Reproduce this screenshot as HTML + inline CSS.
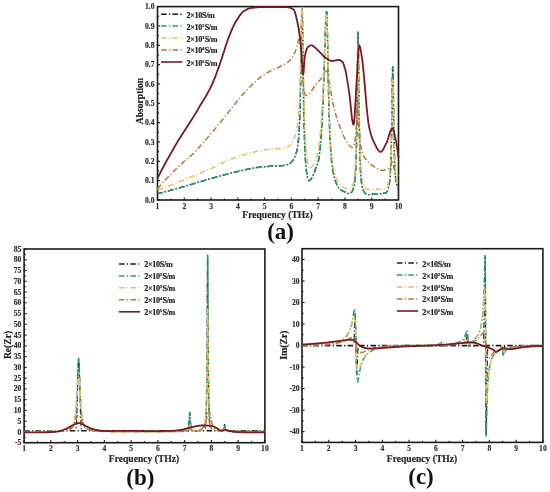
<!DOCTYPE html>
<html><head><meta charset="utf-8"><title>Figure</title>
<style>
html,body{margin:0;padding:0;background:#fff;}
body{width:550px;height:492px;overflow:hidden;}
svg{display:block;}
.tk{font-family:"Liberation Serif",serif;font-weight:bold;font-size:7.6px;fill:#2a2a2a;stroke:#2a2a2a;stroke-width:0.15px;}
.lg{font-family:"Liberation Serif",serif;font-weight:bold;font-size:8.1px;letter-spacing:-0.32px;fill:#222;stroke:#222;stroke-width:0.18px;}
.lg .sup{font-size:5px;letter-spacing:0.2px;}
.ax{font-family:"Liberation Serif",serif;font-weight:bold;font-size:9.6px;fill:#222;stroke:#222;stroke-width:0.15px;}
.pl{font-family:"Liberation Serif",serif;font-weight:bold;font-size:23px;fill:#111;}
</style></head>
<body>
<svg width="550" height="492" viewBox="0 0 550 492">
<rect width="550" height="492" fill="#fff"/>
<rect x="157.5" y="6.6" width="241.0" height="193.4" fill="none" stroke="#1a1a1a" stroke-width="1.6"/>
<line x1="157.50" y1="200.0" x2="157.50" y2="197.4" stroke="#1a1a1a" stroke-width="1.1"/>
<line x1="170.89" y1="200.0" x2="170.89" y2="198.4" stroke="#1a1a1a" stroke-width="1.1"/>
<line x1="184.28" y1="200.0" x2="184.28" y2="197.4" stroke="#1a1a1a" stroke-width="1.1"/>
<line x1="197.67" y1="200.0" x2="197.67" y2="198.4" stroke="#1a1a1a" stroke-width="1.1"/>
<line x1="211.06" y1="200.0" x2="211.06" y2="197.4" stroke="#1a1a1a" stroke-width="1.1"/>
<line x1="224.44" y1="200.0" x2="224.44" y2="198.4" stroke="#1a1a1a" stroke-width="1.1"/>
<line x1="237.83" y1="200.0" x2="237.83" y2="197.4" stroke="#1a1a1a" stroke-width="1.1"/>
<line x1="251.22" y1="200.0" x2="251.22" y2="198.4" stroke="#1a1a1a" stroke-width="1.1"/>
<line x1="264.61" y1="200.0" x2="264.61" y2="197.4" stroke="#1a1a1a" stroke-width="1.1"/>
<line x1="278.00" y1="200.0" x2="278.00" y2="198.4" stroke="#1a1a1a" stroke-width="1.1"/>
<line x1="291.39" y1="200.0" x2="291.39" y2="197.4" stroke="#1a1a1a" stroke-width="1.1"/>
<line x1="304.78" y1="200.0" x2="304.78" y2="198.4" stroke="#1a1a1a" stroke-width="1.1"/>
<line x1="318.17" y1="200.0" x2="318.17" y2="197.4" stroke="#1a1a1a" stroke-width="1.1"/>
<line x1="331.56" y1="200.0" x2="331.56" y2="198.4" stroke="#1a1a1a" stroke-width="1.1"/>
<line x1="344.94" y1="200.0" x2="344.94" y2="197.4" stroke="#1a1a1a" stroke-width="1.1"/>
<line x1="358.33" y1="200.0" x2="358.33" y2="198.4" stroke="#1a1a1a" stroke-width="1.1"/>
<line x1="371.72" y1="200.0" x2="371.72" y2="197.4" stroke="#1a1a1a" stroke-width="1.1"/>
<line x1="385.11" y1="200.0" x2="385.11" y2="198.4" stroke="#1a1a1a" stroke-width="1.1"/>
<line x1="398.50" y1="200.0" x2="398.50" y2="197.4" stroke="#1a1a1a" stroke-width="1.1"/>
<line x1="157.5" y1="200.00" x2="160.1" y2="200.00" stroke="#1a1a1a" stroke-width="1.1"/>
<line x1="157.5" y1="190.33" x2="159.1" y2="190.33" stroke="#1a1a1a" stroke-width="1.1"/>
<line x1="157.5" y1="180.66" x2="160.1" y2="180.66" stroke="#1a1a1a" stroke-width="1.1"/>
<line x1="157.5" y1="170.99" x2="159.1" y2="170.99" stroke="#1a1a1a" stroke-width="1.1"/>
<line x1="157.5" y1="161.32" x2="160.1" y2="161.32" stroke="#1a1a1a" stroke-width="1.1"/>
<line x1="157.5" y1="151.65" x2="159.1" y2="151.65" stroke="#1a1a1a" stroke-width="1.1"/>
<line x1="157.5" y1="141.98" x2="160.1" y2="141.98" stroke="#1a1a1a" stroke-width="1.1"/>
<line x1="157.5" y1="132.31" x2="159.1" y2="132.31" stroke="#1a1a1a" stroke-width="1.1"/>
<line x1="157.5" y1="122.64" x2="160.1" y2="122.64" stroke="#1a1a1a" stroke-width="1.1"/>
<line x1="157.5" y1="112.97" x2="159.1" y2="112.97" stroke="#1a1a1a" stroke-width="1.1"/>
<line x1="157.5" y1="103.30" x2="160.1" y2="103.30" stroke="#1a1a1a" stroke-width="1.1"/>
<line x1="157.5" y1="93.63" x2="159.1" y2="93.63" stroke="#1a1a1a" stroke-width="1.1"/>
<line x1="157.5" y1="83.96" x2="160.1" y2="83.96" stroke="#1a1a1a" stroke-width="1.1"/>
<line x1="157.5" y1="74.29" x2="159.1" y2="74.29" stroke="#1a1a1a" stroke-width="1.1"/>
<line x1="157.5" y1="64.62" x2="160.1" y2="64.62" stroke="#1a1a1a" stroke-width="1.1"/>
<line x1="157.5" y1="54.95" x2="159.1" y2="54.95" stroke="#1a1a1a" stroke-width="1.1"/>
<line x1="157.5" y1="45.28" x2="160.1" y2="45.28" stroke="#1a1a1a" stroke-width="1.1"/>
<line x1="157.5" y1="35.61" x2="159.1" y2="35.61" stroke="#1a1a1a" stroke-width="1.1"/>
<line x1="157.5" y1="25.94" x2="160.1" y2="25.94" stroke="#1a1a1a" stroke-width="1.1"/>
<line x1="157.5" y1="16.27" x2="159.1" y2="16.27" stroke="#1a1a1a" stroke-width="1.1"/>
<line x1="157.5" y1="6.60" x2="160.1" y2="6.60" stroke="#1a1a1a" stroke-width="1.1"/>
<text x="157.50" y="209.0" class="tk" text-anchor="middle">1</text>
<text x="184.28" y="209.0" class="tk" text-anchor="middle">2</text>
<text x="211.06" y="209.0" class="tk" text-anchor="middle">3</text>
<text x="237.83" y="209.0" class="tk" text-anchor="middle">4</text>
<text x="264.61" y="209.0" class="tk" text-anchor="middle">5</text>
<text x="291.39" y="209.0" class="tk" text-anchor="middle">6</text>
<text x="318.17" y="209.0" class="tk" text-anchor="middle">7</text>
<text x="344.94" y="209.0" class="tk" text-anchor="middle">8</text>
<text x="371.72" y="209.0" class="tk" text-anchor="middle">9</text>
<text x="398.50" y="209.0" class="tk" text-anchor="middle">10</text>
<text x="154.5" y="202.60" class="tk" text-anchor="end">0.0</text>
<text x="154.5" y="183.26" class="tk" text-anchor="end">0.1</text>
<text x="154.5" y="163.92" class="tk" text-anchor="end">0.2</text>
<text x="154.5" y="144.58" class="tk" text-anchor="end">0.3</text>
<text x="154.5" y="125.24" class="tk" text-anchor="end">0.4</text>
<text x="154.5" y="105.90" class="tk" text-anchor="end">0.5</text>
<text x="154.5" y="86.56" class="tk" text-anchor="end">0.6</text>
<text x="154.5" y="67.22" class="tk" text-anchor="end">0.7</text>
<text x="154.5" y="47.88" class="tk" text-anchor="end">0.8</text>
<text x="154.5" y="28.54" class="tk" text-anchor="end">0.9</text>
<text x="154.5" y="9.20" class="tk" text-anchor="end">1.0</text>
<path d="M157.50 193.81 L157.98 193.68 L158.47 193.56 L158.95 193.43 L159.43 193.30 L159.91 193.17 L160.40 193.04 L160.88 192.92 L161.36 192.79 L161.85 192.66 L162.33 192.53 L162.81 192.40 L163.30 192.27 L163.78 192.14 L164.26 192.01 L164.74 191.88 L165.23 191.75 L165.71 191.62 L166.19 191.49 L166.68 191.36 L167.16 191.23 L167.64 191.09 L168.13 190.96 L168.61 190.83 L169.09 190.70 L169.57 190.57 L170.06 190.44 L170.54 190.30 L171.02 190.17 L171.51 190.04 L171.99 189.90 L172.47 189.77 L172.95 189.64 L173.44 189.50 L173.92 189.37 L174.40 189.24 L174.89 189.10 L175.37 188.97 L175.85 188.83 L176.34 188.70 L176.82 188.57 L177.30 188.43 L177.78 188.30 L178.27 188.16 L178.75 188.02 L179.23 187.89 L179.72 187.75 L180.20 187.62 L180.68 187.48 L181.17 187.34 L181.65 187.21 L182.13 187.07 L182.61 186.93 L183.10 186.80 L183.58 186.66 L184.06 186.52 L184.55 186.39 L185.03 186.25 L185.51 186.11 L185.99 185.97 L186.48 185.83 L186.96 185.69 L187.44 185.55 L187.93 185.41 L188.41 185.26 L188.89 185.12 L189.38 184.98 L189.86 184.84 L190.34 184.69 L190.82 184.55 L191.31 184.40 L191.79 184.26 L192.27 184.11 L192.76 183.97 L193.24 183.83 L193.72 183.68 L194.21 183.53 L194.69 183.39 L195.17 183.24 L195.65 183.10 L196.14 182.95 L196.62 182.81 L197.10 182.66 L197.59 182.52 L198.07 182.37 L198.55 182.23 L199.04 182.08 L199.52 181.94 L200.00 181.79 L200.48 181.65 L200.97 181.50 L201.45 181.36 L201.93 181.22 L202.42 181.07 L202.90 180.93 L203.38 180.79 L203.86 180.65 L204.35 180.51 L204.83 180.36 L205.31 180.22 L205.80 180.08 L206.28 179.95 L206.76 179.81 L207.25 179.67 L207.73 179.53 L208.21 179.39 L208.69 179.26 L209.18 179.12 L209.66 178.98 L210.14 178.84 L210.63 178.70 L211.11 178.57 L211.59 178.43 L212.08 178.29 L212.56 178.15 L213.04 178.01 L213.52 177.87 L214.01 177.73 L214.49 177.59 L214.97 177.45 L215.46 177.31 L215.94 177.17 L216.42 177.03 L216.90 176.89 L217.39 176.75 L217.87 176.61 L218.35 176.47 L218.84 176.33 L219.32 176.19 L219.80 176.06 L220.29 175.92 L220.77 175.78 L221.25 175.65 L221.73 175.51 L222.22 175.38 L222.70 175.24 L223.18 175.11 L223.67 174.97 L224.15 174.84 L224.63 174.71 L225.12 174.58 L225.60 174.45 L226.08 174.32 L226.56 174.19 L227.05 174.07 L227.53 173.94 L228.01 173.81 L228.50 173.69 L228.98 173.57 L229.46 173.45 L229.94 173.32 L230.43 173.20 L230.91 173.09 L231.39 172.97 L231.88 172.85 L232.36 172.74 L232.84 172.63 L233.33 172.52 L233.81 172.41 L234.29 172.30 L234.77 172.19 L235.26 172.08 L235.74 171.97 L236.22 171.86 L236.71 171.74 L237.19 171.63 L237.67 171.52 L238.16 171.41 L238.64 171.29 L239.12 171.18 L239.60 171.06 L240.09 170.95 L240.57 170.84 L241.05 170.72 L241.54 170.61 L242.02 170.49 L242.50 170.38 L242.98 170.27 L243.47 170.16 L243.95 170.04 L244.43 169.93 L244.92 169.82 L245.40 169.71 L245.88 169.61 L246.37 169.50 L246.85 169.39 L247.33 169.29 L247.81 169.18 L248.30 169.08 L248.78 168.98 L249.26 168.88 L249.75 168.78 L250.23 168.68 L250.71 168.59 L251.20 168.49 L251.68 168.40 L252.16 168.31 L252.64 168.22 L253.13 168.14 L253.61 168.05 L254.09 167.97 L254.58 167.89 L255.06 167.82 L255.54 167.74 L256.03 167.67 L256.51 167.60 L256.99 167.53 L257.47 167.47 L257.96 167.41 L258.44 167.35 L258.92 167.29 L259.41 167.24 L259.89 167.19 L260.37 167.14 L260.85 167.10 L261.34 167.05 L261.82 167.01 L262.30 166.97 L262.79 166.92 L263.27 166.88 L263.75 166.83 L264.24 166.79 L264.72 166.74 L265.20 166.70 L265.68 166.66 L266.17 166.62 L266.65 166.57 L267.13 166.53 L267.62 166.49 L268.10 166.45 L268.58 166.41 L269.07 166.37 L269.55 166.34 L270.03 166.30 L270.51 166.26 L271.00 166.23 L271.48 166.20 L271.96 166.16 L272.45 166.13 L272.93 166.11 L273.41 166.09 L273.89 166.07 L274.38 166.05 L274.86 166.04 L275.34 166.03 L275.83 166.02 L276.31 166.01 L276.79 166.00 L277.28 165.99 L277.76 165.98 L278.24 165.96 L278.72 165.94 L279.21 165.92 L279.69 165.89 L280.17 165.86 L280.66 165.82 L281.14 165.78 L281.62 165.72 L282.11 165.67 L282.59 165.61 L283.07 165.55 L283.55 165.48 L284.04 165.41 L284.52 165.33 L285.00 165.24 L285.49 165.14 L285.97 165.03 L286.30 164.94 L286.62 164.86 L286.93 164.76 L287.27 164.66 L287.59 164.55 L287.90 164.44 L288.23 164.31 L288.55 164.17 L288.87 164.02 L289.20 163.83 L289.52 163.62 L289.83 163.40 L290.16 163.14 L290.49 162.87 L290.80 162.59 L291.13 162.28 L291.45 161.95 L291.76 161.62 L292.04 161.32 L292.31 161.01 L292.58 160.69 L292.85 160.35 L293.11 160.00 L293.38 159.63 L293.60 159.31 L293.81 158.96 L294.03 158.60 L294.24 158.21 L294.40 157.90 L294.56 157.57 L294.72 157.23 L294.88 156.86 L295.05 156.48 L295.21 156.07 L295.37 155.64 L295.47 155.34 L295.58 155.02 L295.69 154.69 L295.80 154.36 L295.90 154.02 L296.01 153.68 L296.11 153.35 L296.23 152.97 L296.33 152.61 L296.44 152.23 L296.55 151.84 L296.66 151.44 L296.76 151.03 L296.87 150.59 L296.98 150.14 L297.08 149.69 L297.19 149.16 L297.30 148.63 L297.41 148.07 L297.51 147.47 L297.57 147.16 L297.62 146.84 L297.67 146.51 L297.73 146.16 L297.78 145.81 L297.84 145.44 L297.89 145.06 L297.94 144.67 L298.00 144.26 L298.04 143.90 L298.10 143.40 L298.16 142.95 L298.21 142.48 L298.26 141.99 L298.32 141.49 L298.37 140.96 L298.43 140.42 L298.48 139.85 L298.53 139.33 L298.59 138.65 L298.64 138.01 L298.69 137.34 L298.75 136.65 L298.80 135.93 L298.85 135.19 L298.91 134.41 L298.96 133.59 L299.01 132.85 L299.07 131.86 L299.12 130.94 L299.18 129.98 L299.23 128.98 L299.28 127.94 L299.34 126.85 L299.39 125.72 L299.44 124.53 L299.49 123.44 L299.55 122.01 L299.61 120.66 L299.66 119.25 L299.71 117.79 L299.77 116.26 L299.82 114.66 L299.87 113.00 L299.93 111.26 L299.97 109.66 L300.03 107.56 L300.09 105.59 L300.14 103.54 L300.20 101.40 L300.25 99.18 L300.30 96.87 L300.36 94.47 L300.41 91.97 L300.46 89.67 L300.52 86.70 L300.57 83.92 L300.62 81.05 L300.68 78.08 L300.73 75.03 L300.79 71.89 L300.84 68.67 L300.89 65.37 L300.94 62.37 L300.95 62.00 L301.00 58.58 L301.05 55.10 L301.11 51.59 L301.16 48.07 L301.21 44.53 L301.27 41.02 L301.32 37.54 L301.38 34.12 L301.42 31.13 L301.43 30.78 L301.48 27.56 L301.54 24.48 L301.59 21.57 L301.64 18.86 L301.70 16.38 L301.75 14.15 L301.80 12.21 L301.86 10.58 L301.91 9.40 L301.97 8.33 L302.02 7.74 L302.18 8.33 L302.23 9.39 L302.29 10.88 L302.34 12.78 L302.39 14.83 L302.45 17.71 L302.50 20.67 L302.56 23.91 L302.61 27.39 L302.66 31.08 L302.72 34.94 L302.77 38.94 L302.82 43.02 L302.87 46.78 L302.88 47.18 L302.93 51.37 L302.99 55.56 L303.04 59.74 L303.09 63.89 L303.15 67.98 L303.20 72.00 L303.25 75.95 L303.31 79.80 L303.36 83.21 L303.36 83.55 L303.41 87.19 L303.47 90.73 L303.52 94.16 L303.58 97.47 L303.63 100.66 L303.68 103.75 L303.74 106.72 L303.79 109.58 L303.84 112.09 L303.90 114.98 L303.95 117.52 L304.00 119.96 L304.06 122.31 L304.11 124.57 L304.17 126.73 L304.22 128.81 L304.27 130.80 L304.32 132.56 L304.38 134.56 L304.43 136.33 L304.49 138.02 L304.54 139.65 L304.59 141.22 L304.65 142.72 L304.70 144.17 L304.76 145.56 L304.80 146.79 L304.86 148.19 L304.92 149.43 L304.97 150.62 L305.02 151.77 L305.08 152.87 L305.13 153.94 L305.18 154.97 L305.24 155.96 L305.29 156.84 L305.35 157.83 L305.40 158.72 L305.45 159.58 L305.51 160.40 L305.56 161.20 L305.61 161.97 L305.67 162.72 L305.72 163.44 L305.77 164.08 L305.83 164.80 L305.88 165.45 L305.94 166.08 L305.99 166.69 L306.04 167.27 L306.10 167.84 L306.15 168.39 L306.20 168.92 L306.25 169.40 L306.31 169.93 L306.36 170.41 L306.42 170.88 L306.47 171.33 L306.53 171.76 L306.58 172.18 L306.63 172.59 L306.69 172.98 L306.74 173.34 L306.79 173.73 L306.85 174.09 L306.90 174.43 L306.95 174.76 L307.01 175.08 L307.06 175.39 L307.17 175.98 L307.28 176.53 L307.38 177.03 L307.49 177.50 L307.60 177.94 L307.70 178.32 L307.81 178.70 L307.92 179.04 L308.03 179.34 L308.19 179.73 L308.35 180.06 L308.56 180.40 L308.89 180.69 L309.21 180.78 L309.53 180.69 L309.85 180.47 L310.17 180.14 L310.44 179.81 L310.70 179.46 L310.91 179.15 L311.13 178.84 L311.34 178.53 L311.55 178.22 L311.77 177.89 L311.98 177.53 L312.16 177.21 L312.32 176.90 L312.48 176.58 L312.63 176.27 L312.79 175.92 L312.95 175.56 L313.11 175.19 L313.27 174.81 L313.43 174.42 L313.59 174.02 L313.71 173.72 L313.86 173.35 L313.98 173.04 L314.13 172.66 L314.25 172.34 L314.40 171.96 L314.52 171.64 L314.67 171.25 L314.79 170.93 L314.93 170.54 L315.06 170.21 L315.20 169.82 L315.32 169.50 L315.47 169.11 L315.59 168.79 L315.74 168.42 L315.90 168.02 L316.06 167.65 L316.22 167.28 L316.38 166.91 L316.54 166.55 L316.70 166.18 L316.87 165.81 L317.03 165.42 L317.15 165.12 L317.29 164.74 L317.42 164.41 L317.52 164.10 L317.63 163.78 L317.74 163.45 L317.83 163.15 L317.94 162.79 L318.05 162.40 L318.15 162.00 L318.26 161.57 L318.37 161.12 L318.47 160.65 L318.58 160.14 L318.69 159.61 L318.80 159.05 L318.90 158.46 L318.96 158.15 L319.01 157.83 L319.06 157.50 L319.12 157.17 L319.17 156.82 L319.23 156.47 L319.28 156.10 L319.33 155.73 L319.39 155.34 L319.44 154.95 L319.49 154.54 L319.55 154.12 L319.60 153.69 L319.65 153.25 L319.71 152.80 L319.76 152.34 L319.82 151.86 L319.87 151.37 L319.92 150.87 L319.98 150.35 L320.03 149.83 L320.08 149.28 L320.14 148.73 L320.19 148.17 L320.24 147.60 L320.30 147.02 L320.35 146.43 L320.41 145.83 L320.46 145.21 L320.51 144.59 L320.57 143.95 L320.62 143.30 L320.67 142.64 L320.73 141.97 L320.78 141.29 L320.83 140.59 L320.89 139.88 L320.94 139.16 L321.00 138.43 L321.05 137.68 L321.10 136.92 L321.16 136.15 L321.21 135.36 L321.26 134.56 L321.32 133.75 L321.37 132.92 L321.42 132.07 L321.48 131.22 L321.53 130.34 L321.59 129.45 L321.64 128.55 L321.69 127.63 L321.75 126.69 L321.80 125.74 L321.85 124.77 L321.91 123.79 L321.96 122.79 L322.02 121.77 L322.07 120.74 L322.12 119.69 L322.18 118.62 L322.19 118.31 L322.23 117.53 L322.28 116.43 L322.34 115.30 L322.39 114.16 L322.44 113.00 L322.50 111.83 L322.55 110.63 L322.61 109.42 L322.66 108.19 L322.67 107.82 L322.71 106.93 L322.77 105.66 L322.82 104.38 L322.87 103.07 L322.93 101.74 L322.98 100.40 L323.03 99.03 L323.09 97.65 L323.14 96.25 L323.16 95.84 L323.20 94.83 L323.25 93.39 L323.30 91.94 L323.36 90.47 L323.41 88.98 L323.46 87.47 L323.52 85.94 L323.57 84.40 L323.62 82.85 L323.64 82.38 L323.68 81.27 L323.73 79.69 L323.79 78.08 L323.84 76.47 L323.89 74.84 L323.95 73.20 L324.00 71.55 L324.05 69.89 L324.11 68.22 L324.12 67.72 L324.16 66.54 L324.21 64.85 L324.27 63.16 L324.32 61.46 L324.38 59.76 L324.43 58.06 L324.48 56.36 L324.54 54.66 L324.59 52.96 L324.61 52.45 L324.64 51.26 L324.70 49.58 L324.75 47.90 L324.80 46.23 L324.86 44.57 L324.91 42.93 L324.97 41.30 L325.02 39.69 L325.07 38.10 L325.09 37.62 L325.13 36.54 L325.18 35.00 L325.23 33.49 L325.29 32.01 L325.34 30.56 L325.39 29.14 L325.45 27.77 L325.50 26.43 L325.56 25.14 L325.57 24.75 L325.61 23.89 L325.66 22.69 L325.72 21.54 L325.77 20.44 L325.82 19.39 L325.88 18.41 L325.93 17.47 L325.98 16.60 L326.04 15.80 L326.09 15.05 L326.15 14.37 L326.20 13.76 L326.25 13.22 L326.31 12.75 L326.36 12.35 L326.41 12.02 L326.52 11.57 L326.74 12.04 L326.79 12.67 L326.84 13.51 L326.90 14.57 L326.95 15.82 L327.00 17.27 L327.02 17.76 L327.06 18.89 L327.11 20.69 L327.16 22.64 L327.22 24.74 L327.27 26.98 L327.33 29.33 L327.38 31.79 L327.43 34.35 L327.49 36.98 L327.50 37.84 L327.54 39.69 L327.59 42.45 L327.65 45.26 L327.70 48.10 L327.76 50.96 L327.81 53.84 L327.86 56.72 L327.92 59.60 L327.97 62.47 L327.99 63.40 L328.02 65.32 L328.08 68.15 L328.13 70.95 L328.18 73.71 L328.24 76.44 L328.29 79.12 L328.35 81.76 L328.40 84.35 L328.45 86.89 L328.47 87.71 L328.51 89.38 L328.56 91.81 L328.61 94.19 L328.67 96.52 L328.72 98.79 L328.77 101.00 L328.83 103.16 L328.88 105.26 L328.94 107.31 L328.95 107.97 L328.99 109.30 L329.04 111.24 L329.10 113.12 L329.15 114.95 L329.20 116.74 L329.26 118.47 L329.31 120.15 L329.36 121.78 L329.42 123.37 L329.44 123.88 L329.47 124.91 L329.53 126.40 L329.58 127.86 L329.63 129.26 L329.69 130.63 L329.74 131.96 L329.79 133.25 L329.85 134.50 L329.90 135.72 L329.92 136.12 L329.95 136.90 L330.01 138.05 L330.06 139.16 L330.12 140.24 L330.17 141.29 L330.22 142.31 L330.28 143.30 L330.33 144.26 L330.38 145.20 L330.40 145.51 L330.44 146.10 L330.49 146.99 L330.54 147.85 L330.60 148.68 L330.65 149.49 L330.71 150.28 L330.76 151.05 L330.81 151.80 L330.87 152.53 L330.92 153.23 L330.97 153.92 L331.03 154.59 L331.08 155.25 L331.13 155.88 L331.19 156.50 L331.24 157.11 L331.30 157.70 L331.35 158.27 L331.40 158.83 L331.46 159.38 L331.51 159.91 L331.56 160.43 L331.62 160.94 L331.67 161.44 L331.72 161.92 L331.78 162.40 L331.83 162.86 L331.89 163.32 L331.94 163.76 L331.99 164.20 L332.05 164.62 L332.10 165.04 L332.15 165.45 L332.21 165.85 L332.26 166.25 L332.31 166.63 L332.37 167.01 L332.42 167.38 L332.48 167.74 L332.53 168.10 L332.58 168.45 L332.64 168.79 L332.69 169.13 L332.74 169.46 L332.80 169.79 L332.85 170.11 L332.90 170.42 L332.96 170.73 L333.01 171.03 L333.12 171.62 L333.23 172.20 L333.30 172.58 L333.39 173.02 L333.50 173.55 L333.60 174.07 L333.71 174.57 L333.78 174.90 L333.87 175.29 L333.98 175.75 L334.09 176.20 L334.19 176.64 L334.30 177.07 L334.41 177.49 L334.51 177.90 L334.62 178.29 L334.73 178.68 L334.84 179.06 L334.94 179.43 L335.05 179.79 L335.16 180.14 L335.27 180.48 L335.37 180.82 L335.48 181.15 L335.59 181.47 L335.69 181.78 L335.80 182.09 L335.96 182.53 L336.12 182.96 L336.28 183.38 L336.45 183.78 L336.61 184.17 L336.77 184.54 L336.93 184.90 L337.09 185.24 L337.25 185.57 L337.41 185.89 L337.57 186.19 L337.79 186.57 L338.00 186.93 L338.22 187.26 L338.43 187.56 L338.70 187.91 L338.97 188.21 L339.29 188.55 L339.61 188.87 L339.93 189.16 L340.25 189.42 L340.58 189.67 L340.90 189.89 L341.22 190.11 L341.54 190.30 L341.86 190.49 L342.19 190.66 L342.51 190.82 L342.86 190.99 L343.18 191.14 L343.50 191.28 L343.82 191.41 L344.14 191.55 L344.47 191.68 L344.79 191.81 L345.11 191.95 L345.43 192.10 L345.75 192.26 L346.08 192.43 L346.40 192.61 L346.72 192.79 L347.04 192.96 L347.36 193.13 L347.69 193.28 L348.01 193.41 L348.33 193.52 L348.65 193.59 L348.97 193.63 L349.29 193.63 L349.62 193.58 L349.94 193.48 L350.26 193.31 L350.58 193.09 L350.90 192.83 L351.23 192.53 L351.55 192.17 L351.82 191.83 L352.03 191.52 L352.25 191.17 L352.46 190.78 L352.62 190.47 L352.78 190.11 L352.94 189.73 L353.10 189.31 L353.21 189.00 L353.32 188.68 L353.43 188.33 L353.53 187.96 L353.64 187.56 L353.75 187.14 L353.85 186.68 L353.96 186.19 L354.07 185.68 L354.18 185.10 L354.23 184.80 L354.28 184.49 L354.34 184.16 L354.39 183.83 L354.44 183.47 L354.50 183.11 L354.55 182.74 L354.61 182.33 L354.66 181.92 L354.71 181.49 L354.77 181.04 L354.82 180.57 L354.87 180.08 L354.93 179.57 L354.98 179.03 L355.03 178.49 L355.09 177.89 L355.14 177.27 L355.20 176.63 L355.25 175.95 L355.30 175.25 L355.36 174.51 L355.41 173.73 L355.46 172.91 L355.52 172.07 L355.57 171.14 L355.62 170.19 L355.68 169.18 L355.73 168.13 L355.79 167.01 L355.84 165.83 L355.89 164.59 L355.95 163.28 L356.00 161.92 L356.05 160.42 L356.11 158.87 L356.16 157.22 L356.21 155.48 L356.27 153.63 L356.32 151.68 L356.38 149.60 L356.43 147.40 L356.48 145.11 L356.54 142.59 L356.59 139.96 L356.64 137.17 L356.70 134.22 L356.75 131.08 L356.80 127.77 L356.86 124.26 L356.91 120.55 L356.96 116.71 L357.02 112.52 L357.07 108.20 L357.13 103.68 L357.18 98.96 L357.23 94.05 L357.29 88.99 L357.34 83.79 L357.39 78.50 L357.45 73.22 L357.50 67.80 L357.56 62.53 L357.61 57.39 L357.66 52.49 L357.72 47.91 L357.77 43.74 L357.82 40.09 L357.88 37.04 L357.93 34.69 L357.99 33.05 L358.04 32.23 L358.15 33.05 L358.20 34.67 L358.25 37.04 L358.31 40.10 L358.36 43.75 L358.41 47.88 L358.47 52.50 L358.52 57.41 L358.58 62.54 L358.63 67.82 L358.68 73.17 L358.74 78.52 L358.79 83.82 L358.84 89.02 L358.90 94.06 L358.95 98.99 L359.00 103.71 L359.06 108.23 L359.11 112.56 L359.17 116.68 L359.22 120.59 L359.27 124.30 L359.33 127.81 L359.38 131.12 L359.43 134.26 L359.49 137.22 L359.54 140.01 L359.59 142.64 L359.65 145.12 L359.70 147.46 L359.76 149.66 L359.81 151.74 L359.86 153.70 L359.92 155.54 L359.97 157.29 L360.02 158.93 L360.08 160.49 L360.13 161.96 L360.18 163.35 L360.24 164.67 L360.29 165.91 L360.35 167.09 L360.40 168.21 L360.45 169.27 L360.51 170.27 L360.56 171.23 L360.61 172.14 L360.67 173.00 L360.72 173.82 L360.77 174.60 L360.83 175.35 L360.88 176.06 L360.94 176.73 L360.99 177.38 L361.04 177.99 L361.10 178.58 L361.15 179.14 L361.20 179.68 L361.26 180.19 L361.31 180.69 L361.36 181.16 L361.42 181.61 L361.47 182.04 L361.53 182.46 L361.58 182.86 L361.63 183.24 L361.69 183.61 L361.74 183.96 L361.79 184.30 L361.85 184.63 L361.90 184.94 L361.95 185.24 L362.06 185.82 L362.17 186.35 L362.28 186.84 L362.38 187.30 L362.49 187.73 L362.60 188.13 L362.71 188.51 L362.81 188.86 L362.92 189.19 L363.03 189.50 L363.19 189.93 L363.35 190.32 L363.51 190.68 L363.67 191.01 L363.83 191.32 L364.05 191.68 L364.26 192.02 L364.53 192.38 L364.80 192.71 L365.12 193.05 L365.44 193.35 L365.76 193.60 L366.09 193.83 L366.41 194.03 L366.73 194.19 L367.05 194.32 L367.37 194.43 L367.69 194.50 L368.02 194.55 L368.34 194.58 L368.66 194.59 L368.98 194.59 L369.30 194.58 L369.63 194.55 L369.95 194.52 L370.27 194.48 L370.59 194.44 L370.91 194.40 L371.24 194.36 L371.56 194.31 L371.88 194.28 L372.20 194.24 L372.52 194.22 L372.84 194.20 L373.17 194.20 L373.49 194.20 L373.81 194.20 L374.13 194.21 L374.83 194.20 L375.32 194.19 L375.80 194.18 L376.28 194.16 L376.68 194.14 L377.00 194.13 L377.33 194.11 L377.66 194.09 L377.99 194.07 L378.32 194.04 L378.64 194.01 L378.97 193.98 L379.30 193.95 L379.63 193.91 L379.96 193.87 L380.28 193.83 L380.61 193.78 L380.94 193.73 L381.27 193.67 L381.59 193.61 L381.92 193.54 L382.25 193.47 L382.56 193.39 L382.87 193.34 L383.20 193.32 L383.53 193.30 L383.85 193.30 L384.18 193.29 L384.49 193.28 L384.80 193.24 L385.13 193.17 L385.46 193.05 L385.78 192.87 L386.11 192.62 L386.43 192.29 L386.70 191.95 L386.91 191.64 L387.13 191.28 L387.31 190.96 L387.50 190.60 L387.64 190.28 L387.79 189.94 L387.93 189.57 L388.08 189.17 L388.19 188.84 L388.30 188.49 L388.41 188.12 L388.52 187.71 L388.63 187.28 L388.70 186.98 L388.77 186.65 L388.84 186.34 L388.92 185.96 L388.99 185.59 L389.06 185.20 L389.14 184.78 L389.21 184.34 L389.28 183.88 L389.36 183.39 L389.43 182.88 L389.50 182.33 L389.57 181.75 L389.61 181.45 L389.65 181.14 L389.68 180.82 L389.72 180.49 L389.76 180.15 L389.79 179.80 L389.83 179.44 L389.87 179.06 L389.90 178.68 L389.94 178.28 L389.97 177.87 L390.01 177.45 L390.05 177.01 L390.08 176.56 L390.12 176.09 L390.16 175.61 L390.19 175.11 L390.23 174.59 L390.27 174.06 L390.29 173.70 L390.34 172.94 L390.38 172.35 L390.41 171.73 L390.45 171.10 L390.48 170.44 L390.52 169.76 L390.56 169.06 L390.59 168.33 L390.63 167.57 L390.67 166.79 L390.70 165.97 L390.74 165.13 L390.77 164.34 L390.81 163.34 L390.85 162.40 L390.89 161.41 L390.92 160.40 L390.96 159.34 L390.99 158.24 L391.03 157.10 L391.07 155.91 L391.10 154.68 L391.14 153.40 L391.18 152.07 L391.21 150.69 L391.25 149.26 L391.29 147.77 L391.32 146.22 L391.36 144.62 L391.40 142.95 L391.43 141.22 L391.47 139.43 L391.50 137.57 L391.54 135.65 L391.58 133.66 L391.61 131.61 L391.65 129.48 L391.69 127.29 L391.72 125.03 L391.74 124.07 L391.76 122.70 L391.80 120.31 L391.83 117.86 L391.87 115.36 L391.91 112.80 L391.94 110.19 L391.98 107.54 L392.01 104.85 L392.05 102.14 L392.09 99.42 L392.12 96.70 L392.16 93.99 L392.20 91.30 L392.22 89.52 L392.23 88.66 L392.27 86.07 L392.31 83.56 L392.34 81.16 L392.38 78.86 L392.42 76.71 L392.45 74.72 L392.49 72.90 L392.52 71.28 L392.56 69.87 L392.60 68.70 L392.63 67.77 L392.67 67.10 L392.70 66.71 L392.82 67.09 L392.85 67.75 L392.89 68.67 L392.93 69.84 L392.96 71.23 L393.00 72.84 L393.03 74.65 L393.07 76.63 L393.11 78.77 L393.14 81.05 L393.18 83.45 L393.19 83.90 L393.22 85.94 L393.25 88.51 L393.29 91.14 L393.33 93.81 L393.36 96.50 L393.40 99.21 L393.44 101.92 L393.47 104.61 L393.51 107.27 L393.54 109.90 L393.58 112.49 L393.62 115.03 L393.65 117.52 L393.67 118.60 L393.69 119.95 L393.73 122.32 L393.76 124.63 L393.80 126.87 L393.84 129.04 L393.87 131.14 L393.91 133.18 L393.95 135.15 L393.98 137.05 L394.02 138.89 L394.06 140.66 L394.09 142.37 L394.13 144.01 L394.15 145.12 L394.16 145.60 L394.20 147.12 L394.24 148.59 L394.27 150.01 L394.31 151.37 L394.35 152.68 L394.38 153.94 L394.42 155.15 L394.46 156.32 L394.49 157.44 L394.53 158.52 L394.57 159.56 L394.60 160.56 L394.64 161.47 L394.67 162.44 L394.71 163.33 L394.75 164.19 L394.78 165.02 L394.82 165.81 L394.86 166.58 L394.89 167.32 L394.93 168.03 L394.97 168.71 L395.00 169.37 L395.04 170.01 L395.08 170.63 L395.11 171.22 L395.15 171.79 L395.18 172.34 L395.22 172.87 L395.26 173.39 L395.29 173.88 L395.33 174.36 L395.37 174.83 L395.40 175.27 L395.44 175.70 L395.48 176.12 L395.51 176.53 L395.55 176.92 L395.59 177.30 L395.62 177.66 L395.66 178.01 L395.69 178.36 L395.73 178.69 L395.77 179.01 L395.80 179.32 L395.84 179.62 L395.91 180.19 L395.99 180.73 L396.06 181.24 L396.13 181.71 L396.20 182.16 L396.28 182.58 L396.35 182.98 L396.42 183.35 L396.50 183.71 L396.57 184.03 L396.64 184.35 L396.75 184.79 L396.86 185.19 L396.97 185.56 L397.08 185.89 L397.19 186.20 L397.33 186.58 L397.48 186.91 L397.66 187.28 L397.84 187.59 L398.06 187.91 L398.32 188.22" fill="none" stroke="#1c1c1c" stroke-width="1.4" stroke-dasharray="5.6 2.3 1.2 2.3" stroke-dashoffset="0.8" stroke-linejoin="round"/>
<path d="M157.50 193.81 L157.98 193.68 L158.47 193.56 L158.95 193.43 L159.43 193.30 L159.91 193.17 L160.40 193.04 L160.88 192.92 L161.36 192.79 L161.85 192.66 L162.33 192.53 L162.81 192.40 L163.30 192.27 L163.78 192.14 L164.26 192.01 L164.74 191.88 L165.23 191.75 L165.71 191.62 L166.19 191.49 L166.68 191.36 L167.16 191.23 L167.64 191.09 L168.13 190.96 L168.61 190.83 L169.09 190.70 L169.57 190.57 L170.06 190.44 L170.54 190.30 L171.02 190.17 L171.51 190.04 L171.99 189.90 L172.47 189.77 L172.95 189.64 L173.44 189.50 L173.92 189.37 L174.40 189.24 L174.89 189.10 L175.37 188.97 L175.85 188.83 L176.34 188.70 L176.82 188.57 L177.30 188.43 L177.78 188.30 L178.27 188.16 L178.75 188.02 L179.23 187.89 L179.72 187.75 L180.20 187.62 L180.68 187.48 L181.17 187.34 L181.65 187.21 L182.13 187.07 L182.61 186.93 L183.10 186.80 L183.58 186.66 L184.06 186.52 L184.55 186.39 L185.03 186.25 L185.51 186.11 L185.99 185.97 L186.48 185.83 L186.96 185.69 L187.44 185.55 L187.93 185.41 L188.41 185.26 L188.89 185.12 L189.38 184.98 L189.86 184.84 L190.34 184.69 L190.82 184.55 L191.31 184.40 L191.79 184.26 L192.27 184.11 L192.76 183.97 L193.24 183.83 L193.72 183.68 L194.21 183.53 L194.69 183.39 L195.17 183.24 L195.65 183.10 L196.14 182.95 L196.62 182.81 L197.10 182.66 L197.59 182.52 L198.07 182.37 L198.55 182.23 L199.04 182.08 L199.52 181.94 L200.00 181.79 L200.48 181.65 L200.97 181.50 L201.45 181.36 L201.93 181.22 L202.42 181.07 L202.90 180.93 L203.38 180.79 L203.86 180.65 L204.35 180.51 L204.83 180.36 L205.31 180.22 L205.80 180.08 L206.28 179.95 L206.76 179.81 L207.25 179.67 L207.73 179.53 L208.21 179.39 L208.69 179.26 L209.18 179.12 L209.66 178.98 L210.14 178.84 L210.63 178.70 L211.11 178.57 L211.59 178.43 L212.08 178.29 L212.56 178.15 L213.04 178.01 L213.52 177.87 L214.01 177.73 L214.49 177.59 L214.97 177.45 L215.46 177.31 L215.94 177.17 L216.42 177.03 L216.90 176.89 L217.39 176.75 L217.87 176.61 L218.35 176.47 L218.84 176.33 L219.32 176.19 L219.80 176.06 L220.29 175.92 L220.77 175.78 L221.25 175.65 L221.73 175.51 L222.22 175.38 L222.70 175.24 L223.18 175.11 L223.67 174.97 L224.15 174.84 L224.63 174.71 L225.12 174.58 L225.60 174.45 L226.08 174.32 L226.56 174.19 L227.05 174.07 L227.53 173.94 L228.01 173.81 L228.50 173.69 L228.98 173.57 L229.46 173.45 L229.94 173.32 L230.43 173.20 L230.91 173.09 L231.39 172.97 L231.88 172.85 L232.36 172.74 L232.84 172.63 L233.33 172.52 L233.81 172.41 L234.29 172.30 L234.77 172.19 L235.26 172.08 L235.74 171.97 L236.22 171.86 L236.71 171.74 L237.19 171.63 L237.67 171.52 L238.16 171.41 L238.64 171.29 L239.12 171.18 L239.60 171.06 L240.09 170.95 L240.57 170.84 L241.05 170.72 L241.54 170.61 L242.02 170.49 L242.50 170.38 L242.98 170.27 L243.47 170.16 L243.95 170.04 L244.43 169.93 L244.92 169.82 L245.40 169.71 L245.88 169.61 L246.37 169.50 L246.85 169.39 L247.33 169.29 L247.81 169.18 L248.30 169.08 L248.78 168.98 L249.26 168.88 L249.75 168.78 L250.23 168.68 L250.71 168.59 L251.20 168.49 L251.68 168.40 L252.16 168.31 L252.64 168.22 L253.13 168.14 L253.61 168.05 L254.09 167.97 L254.58 167.89 L255.06 167.82 L255.54 167.74 L256.03 167.67 L256.51 167.60 L256.99 167.53 L257.47 167.47 L257.96 167.41 L258.44 167.35 L258.92 167.29 L259.41 167.24 L259.89 167.19 L260.37 167.14 L260.85 167.10 L261.34 167.05 L261.82 167.01 L262.30 166.97 L262.79 166.92 L263.27 166.88 L263.75 166.83 L264.24 166.79 L264.72 166.74 L265.20 166.70 L265.68 166.66 L266.17 166.62 L266.65 166.57 L267.13 166.53 L267.62 166.49 L268.10 166.45 L268.58 166.41 L269.07 166.37 L269.55 166.34 L270.03 166.30 L270.51 166.26 L271.00 166.23 L271.48 166.20 L271.96 166.16 L272.45 166.13 L272.93 166.11 L273.41 166.09 L273.89 166.07 L274.38 166.05 L274.86 166.04 L275.34 166.03 L275.83 166.02 L276.31 166.01 L276.79 166.00 L277.28 165.99 L277.76 165.98 L278.24 165.96 L278.72 165.94 L279.21 165.92 L279.69 165.89 L280.17 165.86 L280.66 165.82 L281.14 165.78 L281.62 165.72 L282.11 165.67 L282.59 165.61 L283.07 165.55 L283.55 165.48 L284.04 165.41 L284.52 165.33 L285.00 165.24 L285.49 165.14 L285.97 165.03 L286.30 164.94 L286.62 164.86 L286.93 164.76 L287.27 164.66 L287.59 164.55 L287.90 164.44 L288.23 164.31 L288.55 164.17 L288.87 164.02 L289.20 163.83 L289.52 163.62 L289.83 163.40 L290.16 163.14 L290.49 162.87 L290.80 162.59 L291.13 162.28 L291.45 161.95 L291.76 161.62 L292.04 161.32 L292.31 161.01 L292.58 160.69 L292.85 160.35 L293.11 160.00 L293.38 159.63 L293.60 159.31 L293.81 158.96 L294.03 158.60 L294.24 158.21 L294.40 157.90 L294.56 157.57 L294.72 157.23 L294.88 156.86 L295.05 156.48 L295.21 156.07 L295.37 155.64 L295.47 155.34 L295.58 155.02 L295.69 154.69 L295.80 154.36 L295.90 154.02 L296.01 153.68 L296.11 153.35 L296.23 152.97 L296.33 152.61 L296.44 152.23 L296.55 151.84 L296.66 151.44 L296.76 151.03 L296.87 150.59 L296.98 150.14 L297.08 149.69 L297.19 149.16 L297.30 148.63 L297.41 148.07 L297.51 147.47 L297.57 147.16 L297.62 146.84 L297.67 146.51 L297.73 146.16 L297.78 145.81 L297.84 145.44 L297.89 145.06 L297.94 144.67 L298.00 144.26 L298.04 143.90 L298.10 143.40 L298.16 142.95 L298.21 142.48 L298.26 141.99 L298.32 141.49 L298.37 140.96 L298.43 140.42 L298.48 139.85 L298.53 139.33 L298.59 138.65 L298.64 138.01 L298.69 137.34 L298.75 136.65 L298.80 135.93 L298.85 135.19 L298.91 134.41 L298.96 133.59 L299.01 132.85 L299.07 131.86 L299.12 130.94 L299.18 129.98 L299.23 128.98 L299.28 127.94 L299.34 126.85 L299.39 125.72 L299.44 124.53 L299.49 123.44 L299.55 122.01 L299.61 120.66 L299.66 119.25 L299.71 117.79 L299.77 116.26 L299.82 114.66 L299.87 113.00 L299.93 111.26 L299.97 109.66 L300.03 107.56 L300.09 105.59 L300.14 103.54 L300.20 101.40 L300.25 99.18 L300.30 96.87 L300.36 94.47 L300.41 91.97 L300.46 89.67 L300.52 86.70 L300.57 83.92 L300.62 81.05 L300.68 78.08 L300.73 75.03 L300.79 71.89 L300.84 68.67 L300.89 65.37 L300.94 62.37 L300.95 62.00 L301.00 58.58 L301.05 55.10 L301.11 51.59 L301.16 48.07 L301.21 44.53 L301.27 41.02 L301.32 37.54 L301.38 34.12 L301.42 31.13 L301.43 30.78 L301.48 27.56 L301.54 24.48 L301.59 21.57 L301.64 18.86 L301.70 16.38 L301.75 14.15 L301.80 12.21 L301.86 10.58 L301.91 9.40 L301.97 8.33 L302.02 7.74 L302.18 8.33 L302.23 9.39 L302.29 10.88 L302.34 12.78 L302.39 14.83 L302.45 17.71 L302.50 20.67 L302.56 23.91 L302.61 27.39 L302.66 31.08 L302.72 34.94 L302.77 38.94 L302.82 43.02 L302.87 46.78 L302.88 47.18 L302.93 51.37 L302.99 55.56 L303.04 59.74 L303.09 63.89 L303.15 67.98 L303.20 72.00 L303.25 75.95 L303.31 79.80 L303.36 83.21 L303.36 83.55 L303.41 87.19 L303.47 90.73 L303.52 94.16 L303.58 97.47 L303.63 100.66 L303.68 103.75 L303.74 106.72 L303.79 109.58 L303.84 112.09 L303.90 114.98 L303.95 117.52 L304.00 119.96 L304.06 122.31 L304.11 124.57 L304.17 126.73 L304.22 128.81 L304.27 130.80 L304.32 132.56 L304.38 134.56 L304.43 136.33 L304.49 138.02 L304.54 139.65 L304.59 141.22 L304.65 142.72 L304.70 144.17 L304.76 145.56 L304.80 146.79 L304.86 148.19 L304.92 149.43 L304.97 150.62 L305.02 151.77 L305.08 152.87 L305.13 153.94 L305.18 154.97 L305.24 155.96 L305.29 156.84 L305.35 157.83 L305.40 158.72 L305.45 159.58 L305.51 160.40 L305.56 161.20 L305.61 161.97 L305.67 162.72 L305.72 163.44 L305.77 164.08 L305.83 164.80 L305.88 165.45 L305.94 166.08 L305.99 166.69 L306.04 167.27 L306.10 167.84 L306.15 168.39 L306.20 168.92 L306.25 169.40 L306.31 169.93 L306.36 170.41 L306.42 170.88 L306.47 171.33 L306.53 171.76 L306.58 172.18 L306.63 172.59 L306.69 172.98 L306.74 173.34 L306.79 173.73 L306.85 174.09 L306.90 174.43 L306.95 174.76 L307.01 175.08 L307.06 175.39 L307.17 175.98 L307.28 176.53 L307.38 177.03 L307.49 177.50 L307.60 177.94 L307.70 178.32 L307.81 178.70 L307.92 179.04 L308.03 179.34 L308.19 179.73 L308.35 180.06 L308.56 180.40 L308.89 180.69 L309.21 180.78 L309.53 180.69 L309.85 180.47 L310.17 180.14 L310.44 179.81 L310.70 179.46 L310.91 179.15 L311.13 178.84 L311.34 178.53 L311.55 178.22 L311.77 177.89 L311.98 177.53 L312.16 177.21 L312.32 176.90 L312.48 176.58 L312.63 176.27 L312.79 175.92 L312.95 175.56 L313.11 175.19 L313.27 174.81 L313.43 174.42 L313.59 174.02 L313.71 173.72 L313.86 173.35 L313.98 173.04 L314.13 172.66 L314.25 172.34 L314.40 171.96 L314.52 171.64 L314.67 171.25 L314.79 170.93 L314.93 170.54 L315.06 170.21 L315.20 169.82 L315.32 169.50 L315.47 169.11 L315.59 168.79 L315.74 168.42 L315.90 168.02 L316.06 167.65 L316.22 167.28 L316.38 166.91 L316.54 166.55 L316.70 166.18 L316.87 165.81 L317.03 165.42 L317.15 165.12 L317.29 164.74 L317.42 164.41 L317.52 164.10 L317.63 163.78 L317.74 163.45 L317.83 163.15 L317.94 162.79 L318.05 162.40 L318.15 162.00 L318.26 161.57 L318.37 161.12 L318.47 160.65 L318.58 160.14 L318.69 159.61 L318.80 159.05 L318.90 158.46 L318.96 158.15 L319.01 157.83 L319.06 157.50 L319.12 157.17 L319.17 156.82 L319.23 156.47 L319.28 156.10 L319.33 155.73 L319.39 155.34 L319.44 154.95 L319.49 154.54 L319.55 154.12 L319.60 153.69 L319.65 153.25 L319.71 152.80 L319.76 152.34 L319.82 151.86 L319.87 151.37 L319.92 150.87 L319.98 150.35 L320.03 149.83 L320.08 149.28 L320.14 148.73 L320.19 148.17 L320.24 147.60 L320.30 147.02 L320.35 146.43 L320.41 145.83 L320.46 145.21 L320.51 144.59 L320.57 143.95 L320.62 143.30 L320.67 142.64 L320.73 141.97 L320.78 141.29 L320.83 140.59 L320.89 139.88 L320.94 139.16 L321.00 138.43 L321.05 137.68 L321.10 136.92 L321.16 136.15 L321.21 135.36 L321.26 134.56 L321.32 133.75 L321.37 132.92 L321.42 132.07 L321.48 131.22 L321.53 130.34 L321.59 129.45 L321.64 128.55 L321.69 127.63 L321.75 126.69 L321.80 125.74 L321.85 124.77 L321.91 123.79 L321.96 122.79 L322.02 121.77 L322.07 120.74 L322.12 119.69 L322.18 118.62 L322.19 118.31 L322.23 117.53 L322.28 116.43 L322.34 115.30 L322.39 114.16 L322.44 113.00 L322.50 111.83 L322.55 110.63 L322.61 109.42 L322.66 108.19 L322.67 107.82 L322.71 106.93 L322.77 105.66 L322.82 104.38 L322.87 103.07 L322.93 101.74 L322.98 100.40 L323.03 99.03 L323.09 97.65 L323.14 96.25 L323.16 95.84 L323.20 94.83 L323.25 93.39 L323.30 91.94 L323.36 90.47 L323.41 88.98 L323.46 87.47 L323.52 85.94 L323.57 84.40 L323.62 82.85 L323.64 82.38 L323.68 81.27 L323.73 79.69 L323.79 78.08 L323.84 76.47 L323.89 74.84 L323.95 73.20 L324.00 71.55 L324.05 69.89 L324.11 68.22 L324.12 67.72 L324.16 66.54 L324.21 64.85 L324.27 63.16 L324.32 61.46 L324.38 59.76 L324.43 58.06 L324.48 56.36 L324.54 54.66 L324.59 52.96 L324.61 52.45 L324.64 51.26 L324.70 49.58 L324.75 47.90 L324.80 46.23 L324.86 44.57 L324.91 42.93 L324.97 41.30 L325.02 39.69 L325.07 38.10 L325.09 37.62 L325.13 36.54 L325.18 35.00 L325.23 33.49 L325.29 32.01 L325.34 30.56 L325.39 29.14 L325.45 27.77 L325.50 26.43 L325.56 25.14 L325.57 24.75 L325.61 23.89 L325.66 22.69 L325.72 21.54 L325.77 20.44 L325.82 19.39 L325.88 18.41 L325.93 17.47 L325.98 16.60 L326.04 15.80 L326.09 15.05 L326.15 14.37 L326.20 13.76 L326.25 13.22 L326.31 12.75 L326.36 12.35 L326.41 12.02 L326.52 11.57 L326.74 12.04 L326.79 12.67 L326.84 13.51 L326.90 14.57 L326.95 15.82 L327.00 17.27 L327.02 17.76 L327.06 18.89 L327.11 20.69 L327.16 22.64 L327.22 24.74 L327.27 26.98 L327.33 29.33 L327.38 31.79 L327.43 34.35 L327.49 36.98 L327.50 37.84 L327.54 39.69 L327.59 42.45 L327.65 45.26 L327.70 48.10 L327.76 50.96 L327.81 53.84 L327.86 56.72 L327.92 59.60 L327.97 62.47 L327.99 63.40 L328.02 65.32 L328.08 68.15 L328.13 70.95 L328.18 73.71 L328.24 76.44 L328.29 79.12 L328.35 81.76 L328.40 84.35 L328.45 86.89 L328.47 87.71 L328.51 89.38 L328.56 91.81 L328.61 94.19 L328.67 96.52 L328.72 98.79 L328.77 101.00 L328.83 103.16 L328.88 105.26 L328.94 107.31 L328.95 107.97 L328.99 109.30 L329.04 111.24 L329.10 113.12 L329.15 114.95 L329.20 116.74 L329.26 118.47 L329.31 120.15 L329.36 121.78 L329.42 123.37 L329.44 123.88 L329.47 124.91 L329.53 126.40 L329.58 127.86 L329.63 129.26 L329.69 130.63 L329.74 131.96 L329.79 133.25 L329.85 134.50 L329.90 135.72 L329.92 136.12 L329.95 136.90 L330.01 138.05 L330.06 139.16 L330.12 140.24 L330.17 141.29 L330.22 142.31 L330.28 143.30 L330.33 144.26 L330.38 145.20 L330.40 145.51 L330.44 146.10 L330.49 146.99 L330.54 147.85 L330.60 148.68 L330.65 149.49 L330.71 150.28 L330.76 151.05 L330.81 151.80 L330.87 152.53 L330.92 153.23 L330.97 153.92 L331.03 154.59 L331.08 155.25 L331.13 155.88 L331.19 156.50 L331.24 157.11 L331.30 157.70 L331.35 158.27 L331.40 158.83 L331.46 159.38 L331.51 159.91 L331.56 160.43 L331.62 160.94 L331.67 161.44 L331.72 161.92 L331.78 162.40 L331.83 162.86 L331.89 163.32 L331.94 163.76 L331.99 164.20 L332.05 164.62 L332.10 165.04 L332.15 165.45 L332.21 165.85 L332.26 166.25 L332.31 166.63 L332.37 167.01 L332.42 167.38 L332.48 167.74 L332.53 168.10 L332.58 168.45 L332.64 168.79 L332.69 169.13 L332.74 169.46 L332.80 169.79 L332.85 170.11 L332.90 170.42 L332.96 170.73 L333.01 171.03 L333.12 171.62 L333.23 172.20 L333.30 172.58 L333.39 173.02 L333.50 173.55 L333.60 174.07 L333.71 174.57 L333.78 174.90 L333.87 175.29 L333.98 175.75 L334.09 176.20 L334.19 176.64 L334.30 177.07 L334.41 177.49 L334.51 177.90 L334.62 178.29 L334.73 178.68 L334.84 179.06 L334.94 179.43 L335.05 179.79 L335.16 180.14 L335.27 180.48 L335.37 180.82 L335.48 181.15 L335.59 181.47 L335.69 181.78 L335.80 182.09 L335.96 182.53 L336.12 182.96 L336.28 183.38 L336.45 183.78 L336.61 184.17 L336.77 184.54 L336.93 184.90 L337.09 185.24 L337.25 185.57 L337.41 185.89 L337.57 186.19 L337.79 186.57 L338.00 186.93 L338.22 187.26 L338.43 187.56 L338.70 187.91 L338.97 188.21 L339.29 188.55 L339.61 188.87 L339.93 189.16 L340.25 189.42 L340.58 189.67 L340.90 189.89 L341.22 190.11 L341.54 190.30 L341.86 190.49 L342.19 190.66 L342.51 190.82 L342.86 190.99 L343.18 191.14 L343.50 191.28 L343.82 191.41 L344.14 191.55 L344.47 191.68 L344.79 191.81 L345.11 191.95 L345.43 192.10 L345.75 192.26 L346.08 192.43 L346.40 192.61 L346.72 192.79 L347.04 192.96 L347.36 193.13 L347.69 193.28 L348.01 193.41 L348.33 193.52 L348.65 193.59 L348.97 193.63 L349.29 193.63 L349.62 193.58 L349.94 193.48 L350.26 193.31 L350.58 193.09 L350.90 192.83 L351.23 192.53 L351.55 192.17 L351.82 191.83 L352.03 191.52 L352.25 191.17 L352.46 190.78 L352.62 190.47 L352.78 190.11 L352.94 189.73 L353.10 189.31 L353.21 189.00 L353.32 188.68 L353.43 188.33 L353.53 187.96 L353.64 187.56 L353.75 187.14 L353.85 186.68 L353.96 186.19 L354.07 185.68 L354.18 185.10 L354.23 184.80 L354.28 184.49 L354.34 184.16 L354.39 183.83 L354.44 183.47 L354.50 183.11 L354.55 182.74 L354.61 182.33 L354.66 181.92 L354.71 181.49 L354.77 181.04 L354.82 180.57 L354.87 180.08 L354.93 179.57 L354.98 179.03 L355.03 178.49 L355.09 177.89 L355.14 177.27 L355.20 176.63 L355.25 175.95 L355.30 175.25 L355.36 174.51 L355.41 173.73 L355.46 172.91 L355.52 172.07 L355.57 171.14 L355.62 170.19 L355.68 169.18 L355.73 168.13 L355.79 167.01 L355.84 165.83 L355.89 164.59 L355.95 163.28 L356.00 161.92 L356.05 160.42 L356.11 158.87 L356.16 157.22 L356.21 155.48 L356.27 153.63 L356.32 151.68 L356.38 149.60 L356.43 147.40 L356.48 145.11 L356.54 142.59 L356.59 139.96 L356.64 137.17 L356.70 134.22 L356.75 131.08 L356.80 127.77 L356.86 124.26 L356.91 120.55 L356.96 116.71 L357.02 112.52 L357.07 108.20 L357.13 103.68 L357.18 98.96 L357.23 94.05 L357.29 88.99 L357.34 83.79 L357.39 78.50 L357.45 73.22 L357.50 67.80 L357.56 62.53 L357.61 57.39 L357.66 52.49 L357.72 47.91 L357.77 43.74 L357.82 40.09 L357.88 37.04 L357.93 34.69 L357.99 33.05 L358.04 32.23 L358.15 33.05 L358.20 34.67 L358.25 37.04 L358.31 40.10 L358.36 43.75 L358.41 47.88 L358.47 52.50 L358.52 57.41 L358.58 62.54 L358.63 67.82 L358.68 73.17 L358.74 78.52 L358.79 83.82 L358.84 89.02 L358.90 94.06 L358.95 98.99 L359.00 103.71 L359.06 108.23 L359.11 112.56 L359.17 116.68 L359.22 120.59 L359.27 124.30 L359.33 127.81 L359.38 131.12 L359.43 134.26 L359.49 137.22 L359.54 140.01 L359.59 142.64 L359.65 145.12 L359.70 147.46 L359.76 149.66 L359.81 151.74 L359.86 153.70 L359.92 155.54 L359.97 157.29 L360.02 158.93 L360.08 160.49 L360.13 161.96 L360.18 163.35 L360.24 164.67 L360.29 165.91 L360.35 167.09 L360.40 168.21 L360.45 169.27 L360.51 170.27 L360.56 171.23 L360.61 172.14 L360.67 173.00 L360.72 173.82 L360.77 174.60 L360.83 175.35 L360.88 176.06 L360.94 176.73 L360.99 177.38 L361.04 177.99 L361.10 178.58 L361.15 179.14 L361.20 179.68 L361.26 180.19 L361.31 180.69 L361.36 181.16 L361.42 181.61 L361.47 182.04 L361.53 182.46 L361.58 182.86 L361.63 183.24 L361.69 183.61 L361.74 183.96 L361.79 184.30 L361.85 184.63 L361.90 184.94 L361.95 185.24 L362.06 185.82 L362.17 186.35 L362.28 186.84 L362.38 187.30 L362.49 187.73 L362.60 188.13 L362.71 188.51 L362.81 188.86 L362.92 189.19 L363.03 189.50 L363.19 189.93 L363.35 190.32 L363.51 190.68 L363.67 191.01 L363.83 191.32 L364.05 191.68 L364.26 192.02 L364.53 192.38 L364.80 192.71 L365.12 193.05 L365.44 193.35 L365.76 193.60 L366.09 193.83 L366.41 194.03 L366.73 194.19 L367.05 194.32 L367.37 194.43 L367.69 194.50 L368.02 194.55 L368.34 194.58 L368.66 194.59 L368.98 194.59 L369.30 194.58 L369.63 194.55 L369.95 194.52 L370.27 194.48 L370.59 194.44 L370.91 194.40 L371.24 194.36 L371.56 194.31 L371.88 194.28 L372.20 194.24 L372.52 194.22 L372.84 194.20 L373.17 194.20 L373.49 194.20 L373.81 194.20 L374.13 194.21 L374.83 194.20 L375.32 194.19 L375.80 194.18 L376.28 194.16 L376.68 194.14 L377.00 194.13 L377.33 194.11 L377.66 194.09 L377.99 194.07 L378.32 194.04 L378.64 194.01 L378.97 193.98 L379.30 193.95 L379.63 193.91 L379.96 193.87 L380.28 193.83 L380.61 193.78 L380.94 193.73 L381.27 193.67 L381.59 193.61 L381.92 193.54 L382.25 193.47 L382.56 193.39 L382.87 193.34 L383.20 193.32 L383.53 193.30 L383.85 193.30 L384.18 193.29 L384.49 193.28 L384.80 193.24 L385.13 193.17 L385.46 193.05 L385.78 192.87 L386.11 192.62 L386.43 192.29 L386.70 191.95 L386.91 191.64 L387.13 191.28 L387.31 190.96 L387.50 190.60 L387.64 190.28 L387.79 189.94 L387.93 189.57 L388.08 189.17 L388.19 188.84 L388.30 188.49 L388.41 188.12 L388.52 187.71 L388.63 187.28 L388.70 186.98 L388.77 186.65 L388.84 186.34 L388.92 185.96 L388.99 185.59 L389.06 185.20 L389.14 184.78 L389.21 184.34 L389.28 183.88 L389.36 183.39 L389.43 182.88 L389.50 182.33 L389.57 181.75 L389.61 181.45 L389.65 181.14 L389.68 180.82 L389.72 180.49 L389.76 180.15 L389.79 179.80 L389.83 179.44 L389.87 179.06 L389.90 178.68 L389.94 178.28 L389.97 177.87 L390.01 177.45 L390.05 177.01 L390.08 176.56 L390.12 176.09 L390.16 175.61 L390.19 175.11 L390.23 174.59 L390.27 174.06 L390.29 173.70 L390.34 172.94 L390.38 172.35 L390.41 171.73 L390.45 171.10 L390.48 170.44 L390.52 169.76 L390.56 169.06 L390.59 168.33 L390.63 167.57 L390.67 166.79 L390.70 165.97 L390.74 165.13 L390.77 164.34 L390.81 163.34 L390.85 162.40 L390.89 161.41 L390.92 160.40 L390.96 159.34 L390.99 158.24 L391.03 157.10 L391.07 155.91 L391.10 154.68 L391.14 153.40 L391.18 152.07 L391.21 150.69 L391.25 149.26 L391.29 147.77 L391.32 146.22 L391.36 144.62 L391.40 142.95 L391.43 141.22 L391.47 139.43 L391.50 137.57 L391.54 135.65 L391.58 133.66 L391.61 131.61 L391.65 129.48 L391.69 127.29 L391.72 125.03 L391.74 124.07 L391.76 122.70 L391.80 120.31 L391.83 117.86 L391.87 115.36 L391.91 112.80 L391.94 110.19 L391.98 107.54 L392.01 104.85 L392.05 102.14 L392.09 99.42 L392.12 96.70 L392.16 93.99 L392.20 91.30 L392.22 89.52 L392.23 88.66 L392.27 86.07 L392.31 83.56 L392.34 81.16 L392.38 78.86 L392.42 76.71 L392.45 74.72 L392.49 72.90 L392.52 71.28 L392.56 69.87 L392.60 68.70 L392.63 67.77 L392.67 67.10 L392.70 66.71 L392.82 67.09 L392.85 67.75 L392.89 68.67 L392.93 69.84 L392.96 71.23 L393.00 72.84 L393.03 74.65 L393.07 76.63 L393.11 78.77 L393.14 81.05 L393.18 83.45 L393.19 83.90 L393.22 85.94 L393.25 88.51 L393.29 91.14 L393.33 93.81 L393.36 96.50 L393.40 99.21 L393.44 101.92 L393.47 104.61 L393.51 107.27 L393.54 109.90 L393.58 112.49 L393.62 115.03 L393.65 117.52 L393.67 118.60 L393.69 119.95 L393.73 122.32 L393.76 124.63 L393.80 126.87 L393.84 129.04 L393.87 131.14 L393.91 133.18 L393.95 135.15 L393.98 137.05 L394.02 138.89 L394.06 140.66 L394.09 142.37 L394.13 144.01 L394.15 145.12 L394.16 145.60 L394.20 147.12 L394.24 148.59 L394.27 150.01 L394.31 151.37 L394.35 152.68 L394.38 153.94 L394.42 155.15 L394.46 156.32 L394.49 157.44 L394.53 158.52 L394.57 159.56 L394.60 160.56 L394.64 161.47 L394.67 162.44 L394.71 163.33 L394.75 164.19 L394.78 165.02 L394.82 165.81 L394.86 166.58 L394.89 167.32 L394.93 168.03 L394.97 168.71 L395.00 169.37 L395.04 170.01 L395.08 170.63 L395.11 171.22 L395.15 171.79 L395.18 172.34 L395.22 172.87 L395.26 173.39 L395.29 173.88 L395.33 174.36 L395.37 174.83 L395.40 175.27 L395.44 175.70 L395.48 176.12 L395.51 176.53 L395.55 176.92 L395.59 177.30 L395.62 177.66 L395.66 178.01 L395.69 178.36 L395.73 178.69 L395.77 179.01 L395.80 179.32 L395.84 179.62 L395.91 180.19 L395.99 180.73 L396.06 181.24 L396.13 181.71 L396.20 182.16 L396.28 182.58 L396.35 182.98 L396.42 183.35 L396.50 183.71 L396.57 184.03 L396.64 184.35 L396.75 184.79 L396.86 185.19 L396.97 185.56 L397.08 185.89 L397.19 186.20 L397.33 186.58 L397.48 186.91 L397.66 187.28 L397.84 187.59 L398.06 187.91 L398.32 188.22" fill="none" stroke="#24997a" stroke-width="1.55" stroke-dasharray="5.6 2.3 1.2 2.3" stroke-dashoffset="0" stroke-linejoin="round"/>
<path d="M157.50 190.33 L157.98 190.14 L158.47 189.96 L158.95 189.77 L159.43 189.58 L159.91 189.39 L160.40 189.21 L160.88 189.02 L161.36 188.83 L161.85 188.64 L162.33 188.45 L162.81 188.27 L163.30 188.08 L163.78 187.89 L164.26 187.70 L164.74 187.51 L165.23 187.32 L165.71 187.13 L166.19 186.94 L166.68 186.75 L167.16 186.56 L167.64 186.37 L168.13 186.18 L168.61 185.99 L169.09 185.80 L169.57 185.61 L170.06 185.41 L170.54 185.22 L171.02 185.03 L171.51 184.84 L171.99 184.65 L172.47 184.45 L172.95 184.26 L173.44 184.07 L173.92 183.88 L174.40 183.68 L174.89 183.49 L175.37 183.29 L175.85 183.10 L176.34 182.91 L176.82 182.71 L177.30 182.52 L177.78 182.32 L178.27 182.13 L178.75 181.94 L179.23 181.74 L179.72 181.54 L180.20 181.35 L180.68 181.15 L181.17 180.96 L181.65 180.76 L182.13 180.57 L182.61 180.37 L183.10 180.17 L183.58 179.98 L184.06 179.78 L184.55 179.58 L185.03 179.39 L185.51 179.19 L185.99 178.99 L186.48 178.79 L186.96 178.60 L187.44 178.40 L187.93 178.20 L188.41 178.00 L188.89 177.80 L189.38 177.61 L189.86 177.41 L190.34 177.21 L190.82 177.01 L191.31 176.81 L191.79 176.61 L192.27 176.41 L192.76 176.21 L193.24 176.01 L193.72 175.81 L194.21 175.61 L194.69 175.41 L195.17 175.21 L195.65 175.00 L196.14 174.80 L196.62 174.60 L197.10 174.40 L197.59 174.20 L198.07 173.99 L198.55 173.79 L199.04 173.59 L199.52 173.38 L200.00 173.18 L200.48 172.98 L200.97 172.77 L201.45 172.57 L201.93 172.36 L202.42 172.16 L202.90 171.95 L203.38 171.75 L203.86 171.54 L204.35 171.33 L204.83 171.13 L205.31 170.92 L205.80 170.71 L206.28 170.50 L206.76 170.30 L207.25 170.09 L207.73 169.88 L208.21 169.67 L208.69 169.46 L209.18 169.24 L209.66 169.03 L210.14 168.81 L210.63 168.59 L211.11 168.36 L211.59 168.14 L212.08 167.91 L212.56 167.68 L213.04 167.45 L213.52 167.22 L214.01 166.99 L214.49 166.76 L214.97 166.53 L215.46 166.29 L215.94 166.06 L216.42 165.82 L216.90 165.59 L217.39 165.35 L217.87 165.12 L218.35 164.88 L218.84 164.65 L219.32 164.41 L219.80 164.18 L220.29 163.94 L220.77 163.71 L221.25 163.48 L221.73 163.24 L222.22 163.01 L222.70 162.78 L223.18 162.56 L223.67 162.33 L224.15 162.10 L224.63 161.88 L225.12 161.66 L225.60 161.44 L226.08 161.22 L226.56 161.01 L227.05 160.79 L227.53 160.58 L228.01 160.37 L228.50 160.17 L228.98 159.97 L229.46 159.77 L229.94 159.57 L230.43 159.38 L230.91 159.19 L231.39 159.00 L231.88 158.82 L232.36 158.64 L232.84 158.46 L233.33 158.29 L233.81 158.13 L234.29 157.96 L234.77 157.80 L235.26 157.64 L235.74 157.48 L236.22 157.32 L236.71 157.16 L237.19 157.00 L237.67 156.84 L238.16 156.68 L238.64 156.53 L239.12 156.37 L239.60 156.21 L240.09 156.06 L240.57 155.91 L241.05 155.75 L241.54 155.60 L242.02 155.45 L242.50 155.30 L242.98 155.15 L243.47 155.00 L243.95 154.86 L244.43 154.71 L244.92 154.57 L245.40 154.42 L245.88 154.28 L246.37 154.14 L246.85 154.00 L247.33 153.86 L247.81 153.72 L248.30 153.59 L248.78 153.45 L249.26 153.32 L249.75 153.19 L250.23 153.06 L250.71 152.93 L251.20 152.80 L251.68 152.68 L252.16 152.56 L252.64 152.43 L253.13 152.31 L253.61 152.20 L254.09 152.08 L254.58 151.96 L255.06 151.85 L255.54 151.74 L256.03 151.63 L256.51 151.52 L256.99 151.41 L257.47 151.31 L257.96 151.21 L258.44 151.11 L258.92 151.01 L259.41 150.91 L259.89 150.82 L260.37 150.72 L260.85 150.63 L261.34 150.54 L261.82 150.45 L262.30 150.35 L262.79 150.26 L263.27 150.16 L263.75 150.06 L264.24 149.96 L264.72 149.87 L265.20 149.77 L265.68 149.68 L266.17 149.59 L266.65 149.50 L267.13 149.41 L267.62 149.33 L268.10 149.25 L268.58 149.17 L269.07 149.10 L269.55 149.03 L270.03 148.96 L270.51 148.90 L271.00 148.85 L271.48 148.80 L271.96 148.76 L272.45 148.72 L272.93 148.70 L273.41 148.67 L273.89 148.66 L274.38 148.64 L274.86 148.63 L275.34 148.62 L275.83 148.62 L276.31 148.61 L276.79 148.61 L277.28 148.60 L277.76 148.59 L278.24 148.58 L278.72 148.56 L279.21 148.54 L279.69 148.51 L280.17 148.47 L280.66 148.43 L281.14 148.37 L281.62 148.31 L282.11 148.24 L282.59 148.17 L283.07 148.09 L283.55 148.01 L284.04 147.91 L284.52 147.81 L285.00 147.70 L285.49 147.57 L285.97 147.43 L286.30 147.33 L286.62 147.22 L286.93 147.11 L287.27 146.98 L287.59 146.84 L287.90 146.70 L288.23 146.54 L288.55 146.37 L288.87 146.17 L289.20 145.93 L289.52 145.67 L289.83 145.38 L290.16 145.05 L290.49 144.70 L290.75 144.38 L291.02 144.05 L291.28 143.71 L291.51 143.40 L291.72 143.10 L291.93 142.78 L292.15 142.45 L292.36 142.10 L292.58 141.75 L292.79 141.38 L293.01 140.99 L293.17 140.69 L293.33 140.37 L293.49 140.03 L293.65 139.67 L293.81 139.30 L293.97 138.91 L294.13 138.51 L294.29 138.08 L294.46 137.64 L294.56 137.34 L294.67 137.03 L294.78 136.71 L294.88 136.38 L294.99 136.04 L295.10 135.69 L295.21 135.34 L295.31 134.97 L295.42 134.59 L295.53 134.21 L295.63 133.83 L295.74 133.40 L295.85 132.98 L295.96 132.56 L296.06 132.13 L296.17 131.69 L296.28 131.24 L296.39 130.77 L296.49 130.29 L296.59 129.83 L296.71 129.29 L296.82 128.75 L296.92 128.20 L297.03 127.61 L297.08 127.31 L297.14 127.00 L297.19 126.69 L297.25 126.36 L297.30 126.03 L297.35 125.69 L297.41 125.34 L297.46 124.98 L297.51 124.60 L297.56 124.27 L297.62 123.83 L297.67 123.43 L297.73 123.01 L297.78 122.58 L297.84 122.14 L297.89 121.68 L297.94 121.21 L298.00 120.73 L298.04 120.29 L298.10 119.71 L298.16 119.17 L298.21 118.62 L298.26 118.05 L298.32 117.46 L298.37 116.85 L298.43 116.22 L298.48 115.56 L298.53 114.97 L298.59 114.19 L298.64 113.46 L298.69 112.71 L298.75 111.94 L298.80 111.13 L298.85 110.30 L298.91 109.43 L298.96 108.54 L299.01 107.72 L299.07 106.65 L299.12 105.65 L299.18 104.62 L299.23 103.55 L299.28 102.44 L299.34 101.29 L299.39 100.10 L299.44 98.86 L299.49 97.74 L299.55 96.26 L299.61 94.89 L299.66 93.46 L299.71 91.99 L299.77 90.47 L299.82 88.89 L299.87 87.26 L299.93 85.58 L299.97 84.03 L300.03 82.04 L300.09 80.18 L300.14 78.26 L300.20 76.29 L300.25 74.26 L300.30 72.17 L300.36 70.02 L300.41 67.82 L300.46 65.81 L300.52 63.24 L300.57 60.88 L300.62 58.47 L300.68 56.01 L300.73 53.51 L300.79 50.98 L300.84 48.42 L300.89 45.84 L300.94 43.52 L301.00 40.64 L301.05 38.04 L301.11 35.45 L301.16 32.89 L301.21 30.36 L301.27 27.88 L301.32 25.47 L301.38 23.14 L301.42 21.13 L301.48 18.77 L301.54 16.76 L301.59 14.89 L301.64 13.17 L301.70 11.63 L301.75 10.26 L301.80 9.10 L301.86 8.14 L301.91 7.46 L301.97 6.87 L302.18 7.21 L302.23 7.98 L302.29 9.03 L302.34 10.35 L302.39 11.77 L302.45 13.76 L302.50 15.82 L302.56 18.09 L302.61 20.55 L302.66 23.18 L302.72 25.95 L302.77 28.86 L302.82 31.87 L302.87 34.67 L302.93 38.13 L302.99 41.35 L303.04 44.59 L303.09 47.86 L303.15 51.13 L303.20 54.39 L303.25 57.62 L303.31 60.83 L303.36 63.70 L303.41 67.11 L303.47 70.17 L303.52 73.18 L303.58 76.12 L303.63 78.99 L303.68 81.79 L303.74 84.53 L303.79 87.18 L303.84 89.54 L303.90 92.28 L303.95 94.72 L304.00 97.08 L304.06 99.37 L304.11 101.60 L304.17 103.75 L304.22 105.83 L304.27 107.84 L304.32 109.63 L304.38 111.68 L304.43 113.51 L304.49 115.27 L304.54 116.98 L304.59 118.63 L304.65 120.23 L304.70 121.78 L304.76 123.27 L304.80 124.60 L304.86 126.12 L304.92 127.47 L304.97 128.78 L305.02 130.05 L305.08 131.28 L305.13 132.47 L305.18 133.62 L305.24 134.74 L305.29 135.73 L305.35 136.87 L305.40 137.88 L305.45 138.86 L305.51 139.82 L305.56 140.74 L305.61 141.64 L305.67 142.51 L305.72 143.36 L305.77 144.12 L305.83 144.98 L305.88 145.75 L305.94 146.50 L305.99 147.23 L306.04 147.94 L306.10 148.63 L306.15 149.30 L306.20 149.95 L306.25 150.53 L306.31 151.20 L306.36 151.79 L306.42 152.37 L306.47 152.94 L306.53 153.49 L306.58 154.03 L306.63 154.55 L306.69 155.05 L306.74 155.51 L306.79 156.02 L306.85 156.49 L306.90 156.94 L306.95 157.39 L307.01 157.82 L307.06 158.23 L307.12 158.64 L307.17 159.04 L307.22 159.40 L307.28 159.80 L307.33 160.16 L307.38 160.51 L307.44 160.86 L307.49 161.19 L307.54 161.52 L307.60 161.84 L307.65 162.14 L307.76 162.73 L307.87 163.28 L307.97 163.81 L308.08 164.30 L308.19 164.74 L308.30 165.19 L308.40 165.59 L308.51 165.96 L308.62 166.30 L308.73 166.62 L308.89 167.05 L309.05 167.42 L309.21 167.74 L309.42 168.08 L309.74 168.40 L310.07 168.50 L310.39 168.40 L310.70 168.15 L310.96 167.85 L311.19 167.55 L311.41 167.23 L311.61 166.92 L311.82 166.58 L312.04 166.24 L312.25 165.91 L312.47 165.61 L312.73 165.27 L313.02 164.96 L313.27 164.65 L313.50 164.34 L313.71 164.02 L313.91 163.70 L314.13 163.34 L314.30 163.02 L314.46 162.71 L314.63 162.38 L314.77 162.07 L314.93 161.71 L315.09 161.34 L315.26 160.94 L315.38 160.63 L315.52 160.25 L315.65 159.91 L315.75 159.61 L315.86 159.29 L315.97 158.97 L316.07 158.63 L316.18 158.29 L316.28 157.98 L316.38 157.62 L316.49 157.24 L316.60 156.85 L316.70 156.45 L316.81 156.04 L316.92 155.62 L317.03 155.18 L317.13 154.73 L317.24 154.27 L317.31 153.97 L317.40 153.55 L317.47 153.23 L317.56 152.79 L317.63 152.46 L317.72 152.00 L317.79 151.65 L317.88 151.17 L317.95 150.81 L318.05 150.30 L318.11 149.93 L318.17 149.62 L318.26 149.08 L318.31 148.76 L318.37 148.44 L318.42 148.12 L318.47 147.78 L318.53 147.45 L318.58 147.10 L318.64 146.76 L318.69 146.40 L318.74 146.04 L318.80 145.68 L318.85 145.31 L318.90 144.93 L318.96 144.55 L319.01 144.16 L319.06 143.77 L319.12 143.37 L319.17 142.96 L319.23 142.54 L319.28 142.12 L319.33 141.70 L319.39 141.26 L319.44 140.82 L319.49 140.37 L319.55 139.92 L319.60 139.46 L319.65 138.99 L319.71 138.51 L319.76 138.02 L319.82 137.53 L319.87 137.03 L319.92 136.52 L319.98 136.00 L320.03 135.48 L320.08 134.94 L320.14 134.40 L320.19 133.85 L320.24 133.29 L320.30 132.71 L320.35 132.14 L320.41 131.55 L320.46 130.95 L320.51 130.34 L320.57 129.72 L320.62 129.09 L320.67 128.45 L320.73 127.80 L320.78 127.14 L320.83 126.47 L320.89 125.79 L320.94 125.10 L321.00 124.40 L321.05 123.68 L321.10 122.95 L321.16 122.22 L321.21 121.47 L321.26 120.70 L321.32 119.93 L321.37 119.14 L321.42 118.34 L321.48 117.53 L321.53 116.70 L321.59 115.86 L321.64 115.01 L321.69 114.15 L321.75 113.27 L321.80 112.38 L321.85 111.47 L321.91 110.55 L321.96 109.61 L322.02 108.67 L322.07 107.70 L322.12 106.72 L322.18 105.73 L322.23 104.73 L322.28 103.70 L322.34 102.67 L322.39 101.62 L322.44 100.55 L322.50 99.47 L322.55 98.37 L322.61 97.26 L322.66 96.13 L322.67 95.80 L322.71 94.99 L322.77 93.83 L322.82 92.66 L322.87 91.48 L322.93 90.27 L322.98 89.06 L323.03 87.83 L323.09 86.58 L323.14 85.32 L323.16 84.95 L323.20 84.05 L323.25 82.76 L323.30 81.46 L323.36 80.15 L323.41 78.82 L323.46 77.48 L323.52 76.13 L323.57 74.77 L323.62 73.39 L323.64 72.98 L323.68 72.01 L323.73 70.61 L323.79 69.21 L323.84 67.80 L323.89 66.38 L323.95 64.95 L324.00 63.52 L324.05 62.08 L324.11 60.64 L324.12 60.20 L324.16 59.19 L324.21 57.74 L324.27 56.29 L324.32 54.84 L324.38 53.39 L324.43 51.94 L324.48 50.50 L324.54 49.06 L324.59 47.62 L324.61 47.19 L324.64 46.20 L324.70 44.78 L324.75 43.37 L324.80 41.98 L324.86 40.60 L324.91 39.24 L324.97 37.89 L325.02 36.56 L325.07 35.25 L325.09 34.86 L325.13 33.97 L325.18 32.71 L325.23 31.48 L325.29 30.27 L325.34 29.10 L325.39 27.96 L325.45 26.85 L325.50 25.78 L325.56 24.74 L325.57 24.43 L325.61 23.75 L325.66 22.79 L325.72 21.88 L325.77 21.02 L325.82 20.20 L325.88 19.43 L325.93 18.70 L325.98 18.03 L326.04 17.41 L326.09 16.85 L326.15 16.34 L326.20 15.88 L326.25 15.49 L326.31 15.15 L326.41 14.64 L326.57 14.33 L326.74 14.90 L326.79 15.42 L326.84 16.10 L326.90 16.93 L326.95 17.92 L327.00 19.06 L327.02 19.45 L327.06 20.34 L327.11 21.75 L327.16 23.29 L327.22 24.95 L327.27 26.72 L327.33 28.60 L327.38 30.57 L327.43 32.62 L327.49 34.75 L327.50 35.45 L327.54 36.95 L327.59 39.21 L327.65 41.52 L327.70 43.88 L327.76 46.27 L327.81 48.69 L327.86 51.13 L327.92 53.58 L327.97 56.04 L327.99 56.84 L328.02 58.51 L328.08 60.97 L328.13 63.43 L328.18 65.87 L328.24 68.29 L328.29 70.70 L328.35 73.08 L328.40 75.43 L328.45 77.76 L328.47 78.51 L328.51 80.05 L328.56 82.31 L328.61 84.53 L328.67 86.71 L328.72 88.86 L328.77 90.96 L328.83 93.03 L328.88 95.05 L328.94 97.04 L328.95 97.68 L328.99 98.98 L329.04 100.88 L329.10 102.74 L329.15 104.55 L329.20 106.33 L329.26 108.06 L329.31 109.75 L329.36 111.40 L329.42 113.02 L329.44 113.54 L329.47 114.59 L329.53 116.12 L329.58 117.62 L329.63 119.08 L329.69 120.50 L329.74 121.89 L329.79 123.24 L329.85 124.56 L329.90 125.84 L329.92 126.27 L329.95 127.09 L330.01 128.31 L330.06 129.50 L330.12 130.66 L330.17 131.79 L330.22 132.89 L330.28 133.96 L330.33 135.01 L330.38 136.03 L330.40 136.37 L330.44 137.02 L330.49 137.99 L330.54 138.93 L330.60 139.85 L330.65 140.75 L330.71 141.62 L330.76 142.47 L330.81 143.30 L330.87 144.12 L330.92 144.91 L330.97 145.68 L331.03 146.43 L331.08 147.16 L331.13 147.88 L331.19 148.58 L331.24 149.26 L331.30 149.93 L331.35 150.58 L331.40 151.22 L331.46 151.84 L331.51 152.44 L331.56 153.03 L331.62 153.61 L331.67 154.18 L331.72 154.73 L331.78 155.27 L331.83 155.80 L331.89 156.31 L331.94 156.81 L331.99 157.31 L332.05 157.79 L332.10 158.26 L332.15 158.72 L332.21 159.17 L332.26 159.62 L332.31 160.05 L332.37 160.47 L332.42 160.88 L332.48 161.29 L332.53 161.69 L332.58 162.08 L332.64 162.46 L332.69 162.83 L332.74 163.20 L332.80 163.55 L332.85 163.90 L332.90 164.25 L332.96 164.59 L333.01 164.92 L333.07 165.24 L333.12 165.56 L333.17 165.87 L333.23 166.18 L333.28 166.48 L333.39 167.06 L333.50 167.62 L333.60 168.17 L333.71 168.69 L333.78 169.03 L333.87 169.44 L333.98 169.92 L334.09 170.38 L334.19 170.82 L334.30 171.26 L334.41 171.68 L334.51 172.09 L334.62 172.50 L334.73 172.90 L334.84 173.29 L334.94 173.68 L335.05 174.06 L335.16 174.43 L335.27 174.79 L335.37 175.15 L335.48 175.50 L335.59 175.85 L335.69 176.19 L335.80 176.52 L335.91 176.85 L336.02 177.17 L336.12 177.49 L336.23 177.80 L336.34 178.10 L336.50 178.55 L336.66 178.98 L336.82 179.40 L336.98 179.81 L337.14 180.20 L337.30 180.58 L337.46 180.95 L337.63 181.30 L337.79 181.64 L337.95 181.96 L338.11 182.26 L338.32 182.65 L338.54 183.00 L338.75 183.32 L339.02 183.69 L339.29 184.03 L339.56 184.35 L339.88 184.70 L340.20 185.03 L340.52 185.33 L340.84 185.61 L341.17 185.88 L341.49 186.12 L341.81 186.34 L342.13 186.56 L342.45 186.75 L342.80 186.96 L343.13 187.13 L343.44 187.30 L343.77 187.46 L344.09 187.62 L344.41 187.77 L344.73 187.91 L345.06 188.06 L345.37 188.21 L345.70 188.37 L346.02 188.54 L346.34 188.70 L346.67 188.86 L346.99 189.01 L347.31 189.14 L347.63 189.26 L347.95 189.35 L348.27 189.41 L348.60 189.44 L348.92 189.43 L349.24 189.38 L349.56 189.27 L349.88 189.10 L350.20 188.87 L350.53 188.56 L350.85 188.20 L351.12 187.86 L351.33 187.56 L351.55 187.22 L351.76 186.85 L351.92 186.54 L352.08 186.20 L352.25 185.84 L352.41 185.45 L352.57 185.02 L352.67 184.71 L352.78 184.39 L352.89 184.05 L353.00 183.68 L353.10 183.30 L353.21 182.89 L353.32 182.45 L353.43 181.98 L353.53 181.49 L353.64 180.96 L353.75 180.39 L353.85 179.79 L353.91 179.47 L353.96 179.14 L354.02 178.80 L354.07 178.46 L354.12 178.09 L354.18 177.71 L354.23 177.32 L354.28 176.91 L354.34 176.49 L354.39 176.05 L354.44 175.60 L354.50 175.12 L354.55 174.65 L354.61 174.13 L354.66 173.60 L354.71 173.05 L354.77 172.47 L354.82 171.88 L354.87 171.26 L354.93 170.61 L354.98 169.94 L355.03 169.26 L355.09 168.51 L355.14 167.75 L355.20 166.95 L355.25 166.12 L355.30 165.26 L355.36 164.35 L355.41 163.41 L355.46 162.42 L355.52 161.41 L355.57 160.30 L355.62 159.17 L355.68 157.99 L355.73 156.75 L355.79 155.45 L355.84 154.09 L355.89 152.66 L355.95 151.17 L356.00 149.64 L356.05 147.96 L356.11 146.24 L356.16 144.44 L356.21 142.55 L356.27 140.56 L356.32 138.48 L356.38 136.31 L356.43 134.03 L356.48 131.69 L356.54 129.14 L356.59 126.53 L356.64 123.80 L356.70 120.96 L356.75 118.00 L356.80 114.91 L356.86 111.72 L356.91 108.40 L356.96 105.04 L357.02 101.45 L357.07 97.83 L357.13 94.12 L357.18 90.35 L357.23 86.53 L357.29 82.68 L357.34 78.83 L357.39 75.00 L357.45 71.29 L357.50 67.57 L357.56 64.04 L357.61 60.69 L357.66 57.56 L357.72 54.70 L357.77 52.15 L357.82 49.95 L357.88 48.14 L357.93 46.77 L357.99 45.82 L358.04 45.34 L358.15 45.81 L358.20 46.75 L358.25 48.13 L358.31 49.93 L358.36 52.12 L358.41 54.65 L358.47 57.53 L358.52 60.65 L358.58 64.00 L358.63 67.52 L358.68 71.18 L358.74 74.94 L358.79 78.76 L358.84 82.61 L358.90 86.44 L358.95 90.27 L359.00 94.04 L359.06 97.74 L359.11 101.36 L359.17 104.88 L359.22 108.30 L359.27 111.61 L359.33 114.81 L359.38 117.88 L359.43 120.84 L359.49 123.68 L359.54 126.40 L359.59 129.01 L359.65 131.50 L359.70 133.88 L359.76 136.16 L359.81 138.33 L359.86 140.41 L359.92 142.39 L359.97 144.27 L360.02 146.07 L360.08 147.79 L360.13 149.43 L360.18 150.99 L360.24 152.48 L360.29 153.90 L360.35 155.26 L360.40 156.55 L360.45 157.79 L360.51 158.97 L360.56 160.09 L360.61 161.17 L360.67 162.20 L360.72 163.18 L360.77 164.12 L360.83 165.02 L360.88 165.89 L360.94 166.71 L360.99 167.50 L361.04 168.26 L361.10 168.99 L361.15 169.68 L361.20 170.35 L361.26 170.99 L361.31 171.61 L361.36 172.20 L361.42 172.77 L361.47 173.32 L361.53 173.84 L361.58 174.35 L361.63 174.83 L361.69 175.30 L361.74 175.75 L361.79 176.19 L361.85 176.60 L361.90 177.01 L361.95 177.40 L362.01 177.77 L362.06 178.13 L362.12 178.48 L362.17 178.82 L362.22 179.14 L362.28 179.46 L362.33 179.76 L362.44 180.34 L362.54 180.88 L362.65 181.39 L362.76 181.86 L362.87 182.30 L362.97 182.72 L363.08 183.12 L363.19 183.49 L363.30 183.83 L363.40 184.16 L363.51 184.47 L363.67 184.91 L363.83 185.30 L363.99 185.67 L364.15 186.01 L364.32 186.32 L364.53 186.70 L364.74 187.04 L364.96 187.35 L365.23 187.70 L365.50 188.00 L365.82 188.33 L366.14 188.61 L366.46 188.85 L366.78 189.05 L367.10 189.20 L367.43 189.32 L367.75 189.41 L368.07 189.46 L368.39 189.50 L368.71 189.51 L369.04 189.50 L369.36 189.48 L369.68 189.45 L370.00 189.41 L370.32 189.37 L370.65 189.32 L370.97 189.28 L371.29 189.23 L371.61 189.19 L371.93 189.16 L372.25 189.14 L372.58 189.13 L372.90 189.14 L373.22 189.16 L373.54 189.19 L373.86 189.23 L374.35 189.27 L374.83 189.30 L375.32 189.33 L375.80 189.35 L376.28 189.37 L376.68 189.37 L377.00 189.38 L377.33 189.37 L377.66 189.37 L377.99 189.36 L378.32 189.35 L378.64 189.34 L378.97 189.32 L379.30 189.29 L379.63 189.27 L379.96 189.23 L380.28 189.20 L380.61 189.15 L380.94 189.10 L381.27 189.05 L381.59 188.99 L381.92 188.91 L382.25 188.83 L382.56 188.75 L382.87 188.70 L383.20 188.67 L383.53 188.66 L383.85 188.66 L384.18 188.65 L384.49 188.64 L384.80 188.59 L385.13 188.51 L385.46 188.36 L385.78 188.15 L386.11 187.85 L386.37 187.54 L386.59 187.23 L386.80 186.87 L386.99 186.55 L387.17 186.19 L387.31 185.88 L387.46 185.55 L387.61 185.19 L387.75 184.80 L387.86 184.48 L387.97 184.15 L388.08 183.79 L388.19 183.41 L388.30 183.01 L388.41 182.58 L388.48 182.27 L388.55 181.95 L388.63 181.62 L388.70 181.27 L388.77 180.90 L388.84 180.54 L388.92 180.11 L388.99 179.68 L389.06 179.24 L389.14 178.77 L389.21 178.27 L389.28 177.75 L389.32 177.44 L389.39 176.92 L389.46 176.32 L389.50 176.01 L389.54 175.69 L389.57 175.37 L389.61 175.03 L389.65 174.68 L389.68 174.33 L389.72 173.96 L389.76 173.59 L389.79 173.20 L389.83 172.80 L389.87 172.39 L389.90 171.97 L389.94 171.54 L389.97 171.09 L390.01 170.63 L390.05 170.15 L390.08 169.66 L390.12 169.16 L390.16 168.64 L390.19 168.11 L390.23 167.55 L390.27 166.99 L390.29 166.61 L390.34 165.79 L390.38 165.17 L390.41 164.52 L390.45 163.86 L390.48 163.17 L390.52 162.46 L390.56 161.73 L390.59 160.98 L390.63 160.20 L390.67 159.40 L390.70 158.56 L390.74 157.71 L390.77 156.91 L390.81 155.91 L390.85 154.96 L390.89 153.99 L390.92 152.98 L390.96 151.94 L390.99 150.87 L391.03 149.76 L391.07 148.62 L391.10 147.44 L391.14 146.22 L391.18 144.97 L391.21 143.67 L391.25 142.34 L391.29 140.97 L391.32 139.55 L391.36 138.10 L391.40 136.60 L391.43 135.06 L391.47 133.48 L391.50 131.86 L391.54 130.20 L391.58 128.50 L391.61 126.76 L391.65 124.98 L391.69 123.17 L391.72 121.32 L391.74 120.54 L391.76 119.44 L391.80 117.53 L391.83 115.60 L391.87 113.65 L391.91 111.68 L391.94 109.71 L391.98 107.72 L392.01 105.74 L392.05 103.77 L392.09 101.81 L392.12 99.88 L392.16 97.98 L392.20 96.12 L392.22 94.90 L392.23 94.32 L392.27 92.58 L392.31 90.91 L392.34 89.33 L392.38 87.83 L392.42 86.45 L392.45 85.18 L392.49 84.03 L392.52 83.01 L392.56 82.14 L392.60 81.41 L392.63 80.84 L392.67 80.43 L392.74 80.09 L392.82 80.42 L392.85 80.83 L392.89 81.40 L392.93 82.12 L392.96 82.99 L393.00 84.00 L393.03 85.14 L393.07 86.41 L393.11 87.79 L393.14 89.28 L393.18 90.85 L393.19 91.15 L393.22 92.51 L393.25 94.25 L393.29 96.04 L393.33 97.89 L393.36 99.78 L393.40 101.71 L393.44 103.65 L393.47 105.62 L393.51 107.59 L393.54 109.56 L393.58 111.53 L393.62 113.49 L393.65 115.43 L393.67 116.28 L393.69 117.35 L393.73 119.25 L393.76 121.11 L393.80 122.95 L393.84 124.75 L393.87 126.52 L393.91 128.25 L393.95 129.94 L393.98 131.59 L394.02 133.20 L394.06 134.76 L394.09 136.29 L394.13 137.77 L394.15 138.78 L394.16 139.22 L394.20 140.62 L394.24 141.98 L394.27 143.30 L394.31 144.58 L394.35 145.83 L394.38 147.03 L394.42 148.20 L394.46 149.33 L394.49 150.43 L394.53 151.49 L394.57 152.52 L394.60 153.51 L394.64 154.43 L394.67 155.41 L394.71 156.31 L394.75 157.18 L394.78 158.03 L394.82 158.85 L394.86 159.64 L394.89 160.41 L394.93 161.15 L394.97 161.87 L395.00 162.57 L395.04 163.24 L395.08 163.89 L395.11 164.53 L395.15 165.14 L395.18 165.73 L395.22 166.31 L395.26 166.86 L395.29 167.40 L395.33 167.93 L395.37 168.43 L395.40 168.93 L395.44 169.40 L395.48 169.86 L395.51 170.31 L395.55 170.75 L395.59 171.17 L395.62 171.58 L395.66 171.98 L395.69 172.36 L395.73 172.74 L395.77 173.10 L395.80 173.45 L395.84 173.79 L395.88 174.13 L395.91 174.45 L395.95 174.76 L395.99 175.07 L396.06 175.65 L396.13 176.21 L396.20 176.73 L396.28 177.22 L396.35 177.69 L396.42 178.13 L396.50 178.55 L396.57 178.95 L396.64 179.33 L396.71 179.69 L396.79 180.02 L396.86 180.35 L396.93 180.65 L397.04 181.08 L397.15 181.48 L397.26 181.85 L397.37 182.19 L397.48 182.50 L397.63 182.89 L397.77 183.24 L397.92 183.55 L398.10 183.90 L398.28 184.21 L398.50 184.53" fill="none" stroke="#e2c460" stroke-width="1.55" stroke-dasharray="5.6 2.3 1.2 2.3" stroke-dashoffset="0" stroke-linejoin="round"/>
<path d="M157.50 188.97 L157.98 188.39 L158.47 187.81 L158.95 187.23 L159.43 186.65 L159.91 186.08 L160.40 185.51 L160.88 184.95 L161.36 184.40 L161.85 183.86 L162.33 183.32 L162.81 182.78 L163.30 182.24 L163.78 181.71 L164.26 181.18 L164.74 180.66 L165.23 180.14 L165.71 179.62 L166.19 179.10 L166.68 178.58 L167.16 178.07 L167.64 177.56 L168.13 177.05 L168.61 176.55 L169.09 176.05 L169.57 175.55 L170.06 175.05 L170.54 174.55 L171.02 174.06 L171.51 173.57 L171.99 173.08 L172.47 172.59 L172.95 172.10 L173.44 171.62 L173.92 171.14 L174.40 170.66 L174.89 170.18 L175.37 169.70 L175.85 169.23 L176.34 168.76 L176.82 168.29 L177.30 167.82 L177.78 167.35 L178.27 166.89 L178.75 166.43 L179.23 165.97 L179.72 165.51 L180.20 165.06 L180.68 164.61 L181.17 164.16 L181.65 163.71 L182.13 163.26 L182.61 162.82 L183.10 162.38 L183.58 161.94 L184.06 161.51 L184.55 161.08 L185.03 160.65 L185.51 160.24 L185.99 159.83 L186.48 159.43 L186.96 159.04 L187.44 158.64 L187.93 158.25 L188.41 157.86 L188.89 157.47 L189.38 157.08 L189.86 156.68 L190.34 156.28 L190.82 155.88 L191.31 155.46 L191.79 155.04 L192.27 154.61 L192.76 154.17 L193.24 153.72 L193.72 153.25 L194.21 152.77 L194.69 152.28 L195.17 151.78 L195.65 151.26 L196.14 150.74 L196.62 150.22 L197.10 149.68 L197.59 149.14 L198.07 148.59 L198.55 148.04 L199.04 147.48 L199.52 146.92 L200.00 146.35 L200.48 145.79 L200.97 145.22 L201.45 144.66 L201.93 144.09 L202.42 143.53 L202.90 142.96 L203.38 142.40 L203.86 141.85 L204.35 141.30 L204.83 140.74 L205.31 140.19 L205.80 139.64 L206.28 139.08 L206.76 138.53 L207.25 137.97 L207.73 137.41 L208.21 136.85 L208.69 136.29 L209.18 135.73 L209.66 135.17 L210.14 134.61 L210.63 134.04 L211.11 133.47 L211.59 132.91 L212.08 132.34 L212.56 131.77 L213.04 131.19 L213.52 130.62 L214.01 130.04 L214.49 129.46 L214.97 128.88 L215.46 128.30 L215.94 127.72 L216.42 127.14 L216.90 126.55 L217.39 125.96 L217.87 125.37 L218.35 124.78 L218.84 124.19 L219.32 123.60 L219.80 123.01 L220.29 122.41 L220.77 121.82 L221.25 121.22 L221.73 120.62 L222.22 120.03 L222.70 119.43 L223.18 118.83 L223.67 118.23 L224.15 117.63 L224.63 117.03 L225.12 116.43 L225.60 115.83 L226.08 115.23 L226.56 114.62 L227.05 114.02 L227.53 113.42 L228.01 112.81 L228.50 112.20 L228.98 111.58 L229.46 110.97 L229.94 110.35 L230.43 109.73 L230.91 109.10 L231.39 108.48 L231.88 107.86 L232.36 107.24 L232.84 106.62 L233.33 106.00 L233.81 105.38 L234.29 104.77 L234.77 104.15 L235.26 103.55 L235.74 102.94 L236.22 102.34 L236.71 101.75 L237.19 101.16 L237.67 100.58 L238.16 100.01 L238.64 99.43 L239.12 98.86 L239.60 98.29 L240.09 97.72 L240.57 97.15 L241.05 96.58 L241.54 96.02 L242.02 95.46 L242.50 94.90 L242.98 94.35 L243.47 93.80 L243.95 93.25 L244.43 92.71 L244.92 92.17 L245.40 91.63 L245.88 91.10 L246.37 90.58 L246.85 90.06 L247.33 89.55 L247.81 89.04 L248.30 88.54 L248.78 88.04 L249.26 87.55 L249.75 87.06 L250.23 86.57 L250.71 86.08 L251.20 85.59 L251.68 85.11 L252.16 84.62 L252.64 84.15 L253.13 83.67 L253.61 83.20 L254.09 82.74 L254.58 82.28 L255.06 81.82 L255.54 81.37 L256.03 80.93 L256.51 80.50 L256.99 80.07 L257.47 79.65 L257.96 79.24 L258.44 78.84 L258.92 78.45 L259.41 78.06 L259.89 77.69 L260.37 77.33 L260.85 76.97 L261.34 76.62 L261.82 76.28 L262.30 75.94 L262.79 75.60 L263.27 75.28 L263.75 74.95 L264.24 74.63 L264.72 74.32 L265.20 74.01 L265.68 73.71 L266.17 73.41 L266.65 73.12 L267.13 72.83 L267.62 72.54 L268.10 72.26 L268.58 71.99 L269.07 71.72 L269.55 71.45 L270.03 71.19 L270.51 70.93 L271.00 70.67 L271.48 70.42 L271.96 70.19 L272.45 69.96 L272.93 69.73 L273.41 69.52 L273.89 69.30 L274.38 69.10 L274.86 68.89 L275.34 68.69 L275.83 68.48 L276.31 68.28 L276.79 68.08 L277.28 67.87 L277.76 67.66 L278.24 67.45 L278.72 67.23 L279.21 67.01 L279.69 66.78 L280.17 66.54 L280.66 66.30 L281.14 66.04 L281.62 65.79 L282.11 65.54 L282.59 65.29 L283.07 65.04 L283.55 64.79 L284.04 64.53 L284.52 64.27 L285.00 64.01 L285.49 63.73 L285.97 63.44 L286.30 63.24 L286.62 63.03 L286.93 62.83 L287.27 62.60 L287.59 62.38 L287.90 62.15 L288.23 61.90 L288.55 61.65 L288.87 61.39 L289.20 61.11 L289.52 60.83 L289.83 60.54 L290.16 60.22 L290.49 59.88 L290.75 59.57 L291.02 59.24 L291.28 58.90 L291.51 58.58 L291.72 58.27 L291.93 57.95 L292.15 57.61 L292.36 57.26 L292.58 56.89 L292.79 56.52 L293.01 56.14 L293.21 55.76 L293.38 55.44 L293.54 55.13 L293.70 54.82 L293.87 54.50 L294.03 54.18 L294.18 53.86 L294.35 53.51 L294.51 53.18 L294.66 52.85 L294.83 52.47 L294.99 52.09 L295.15 51.71 L295.31 51.27 L295.47 50.83 L295.63 50.40 L295.74 50.07 L295.85 49.75 L295.96 49.43 L296.06 49.11 L296.17 48.78 L296.28 48.45 L296.39 48.11 L296.49 47.77 L296.59 47.46 L296.71 47.09 L296.82 46.74 L296.92 46.40 L297.03 46.05 L297.14 45.70 L297.25 45.35 L297.35 44.99 L297.46 44.58 L297.56 44.15 L297.67 43.64 L297.78 43.13 L297.89 42.61 L298.00 42.10 L298.10 41.60 L298.21 41.12 L298.32 40.68 L298.43 40.29 L298.53 39.98 L298.69 39.60 L299.01 39.51 L299.18 39.82 L299.28 40.13 L299.39 40.52 L299.49 40.95 L299.61 41.50 L299.71 42.07 L299.77 42.38 L299.82 42.69 L299.87 43.01 L299.93 43.34 L299.98 43.67 L300.03 44.01 L300.09 44.35 L300.14 44.70 L300.20 45.04 L300.25 45.40 L300.30 45.79 L300.36 46.25 L300.41 46.75 L300.46 47.23 L300.52 47.89 L300.57 48.53 L300.62 49.20 L300.68 49.91 L300.73 50.65 L300.79 51.43 L300.84 52.23 L300.89 53.06 L300.94 53.81 L301.00 54.77 L301.05 55.66 L301.11 56.56 L301.16 57.47 L301.21 58.39 L301.27 59.31 L301.32 60.24 L301.38 61.17 L301.42 62.00 L301.48 63.01 L301.54 63.92 L301.59 64.83 L301.64 65.71 L301.70 66.58 L301.75 67.43 L301.80 68.26 L301.86 69.07 L301.91 69.77 L301.97 70.59 L302.02 71.31 L302.07 71.98 L302.13 72.63 L302.18 73.28 L302.23 73.93 L302.29 74.59 L302.34 75.25 L302.39 75.85 L302.45 76.57 L302.50 77.24 L302.56 77.89 L302.61 78.55 L302.66 79.20 L302.72 79.84 L302.77 80.48 L302.82 81.10 L302.87 81.66 L302.93 82.32 L302.99 82.90 L303.04 83.48 L303.09 84.03 L303.15 84.57 L303.20 85.09 L303.25 85.58 L303.31 86.06 L303.36 86.47 L303.41 86.93 L303.47 87.33 L303.52 87.70 L303.58 88.04 L303.63 88.35 L303.74 88.88 L303.84 89.34 L303.95 89.84 L304.06 90.31 L304.17 90.76 L304.27 91.21 L304.38 91.64 L304.49 92.05 L304.59 92.45 L304.70 92.82 L304.80 93.17 L304.92 93.52 L305.02 93.84 L305.18 94.27 L305.35 94.65 L305.51 94.96 L305.72 95.27 L306.04 95.50 L306.36 95.49 L306.69 95.42 L307.01 95.29 L307.33 95.12 L307.65 94.90 L307.97 94.66 L308.30 94.38 L308.62 94.09 L308.94 93.78 L309.26 93.46 L309.58 93.14 L309.91 92.82 L310.23 92.51 L310.54 92.18 L310.80 91.87 L311.07 91.53 L311.30 91.22 L311.55 90.87 L311.77 90.55 L311.98 90.24 L312.20 89.91 L312.41 89.58 L312.63 89.25 L312.84 88.91 L313.06 88.58 L313.27 88.25 L313.49 87.92 L313.70 87.60 L313.91 87.29 L314.13 86.98 L314.36 86.67 L314.61 86.34 L314.88 85.99 L315.15 85.64 L315.42 85.30 L315.68 84.95 L315.95 84.61 L316.22 84.28 L316.49 83.94 L316.76 83.61 L317.03 83.29 L317.29 82.96 L317.56 82.64 L317.83 82.33 L318.10 82.01 L318.37 81.71 L318.69 81.36 L319.01 81.02 L319.33 80.69 L319.65 80.35 L319.98 80.01 L320.26 79.71 L320.57 79.36 L320.83 79.03 L321.10 78.69 L321.37 78.34 L321.64 77.98 L321.91 77.60 L322.12 77.29 L322.34 76.98 L322.55 76.66 L322.77 76.33 L322.98 76.00 L323.20 75.66 L323.41 75.32 L323.62 74.96 L323.79 74.65 L323.95 74.30 L324.11 73.93 L324.27 73.54 L324.43 73.15 L324.59 72.77 L324.75 72.41 L324.91 72.08 L325.09 71.76 L325.34 71.43 L325.66 71.25 L325.98 71.25 L326.31 71.25 L326.63 71.24 L326.95 71.24 L327.27 71.53 L327.43 71.96 L327.54 72.34 L327.65 72.78 L327.76 73.28 L327.86 73.84 L327.97 74.44 L328.02 74.76 L328.08 75.08 L328.13 75.42 L328.18 75.76 L328.24 76.11 L328.29 76.46 L328.35 76.82 L328.40 77.18 L328.45 77.55 L328.51 77.92 L328.56 78.29 L328.61 78.66 L328.67 79.03 L328.72 79.41 L328.77 79.78 L328.83 80.14 L328.88 80.51 L328.94 80.87 L328.99 81.23 L329.04 81.58 L329.10 81.92 L329.15 82.26 L329.20 82.59 L329.26 82.91 L329.31 83.22 L329.36 83.52 L329.44 83.91 L329.53 84.38 L329.63 84.96 L329.74 85.54 L329.85 86.12 L329.92 86.51 L330.01 86.99 L330.12 87.58 L330.22 88.16 L330.33 88.75 L330.40 89.14 L330.49 89.63 L330.60 90.22 L330.71 90.80 L330.81 91.39 L330.88 91.78 L330.97 92.26 L331.08 92.84 L331.19 93.42 L331.30 93.99 L331.37 94.37 L331.46 94.84 L331.56 95.41 L331.67 95.97 L331.78 96.54 L331.85 96.92 L331.94 97.39 L332.05 97.97 L332.15 98.55 L332.26 99.12 L332.33 99.51 L332.42 99.99 L332.53 100.56 L332.64 101.14 L332.74 101.71 L332.82 102.09 L332.90 102.56 L333.01 103.11 L333.12 103.67 L333.23 104.21 L333.30 104.58 L333.39 105.02 L333.50 105.54 L333.60 106.06 L333.71 106.56 L333.78 106.90 L333.87 107.30 L333.98 107.78 L334.09 108.24 L334.19 108.69 L334.30 109.12 L334.41 109.55 L334.51 109.97 L334.62 110.39 L334.73 110.81 L334.84 111.21 L334.94 111.62 L335.05 112.02 L335.16 112.42 L335.27 112.81 L335.37 113.19 L335.48 113.58 L335.59 113.96 L335.69 114.33 L335.80 114.70 L335.91 115.07 L336.02 115.43 L336.12 115.79 L336.23 116.15 L336.34 116.50 L336.45 116.85 L336.55 117.20 L336.66 117.54 L336.77 117.88 L336.87 118.22 L336.98 118.56 L337.09 118.89 L337.20 119.22 L337.30 119.54 L337.41 119.87 L337.52 120.19 L337.63 120.51 L337.73 120.82 L337.84 121.14 L337.95 121.45 L338.05 121.76 L338.16 122.07 L338.27 122.38 L338.38 122.68 L338.48 122.98 L338.59 123.29 L338.70 123.59 L338.86 124.03 L339.02 124.48 L339.18 124.92 L339.34 125.36 L339.50 125.80 L339.66 126.23 L339.83 126.67 L339.99 127.10 L340.15 127.52 L340.31 127.95 L340.47 128.37 L340.63 128.78 L340.79 129.20 L340.95 129.61 L341.11 130.02 L341.27 130.42 L341.43 130.83 L341.60 131.23 L341.76 131.62 L341.92 132.01 L342.05 132.34 L342.19 132.66 L342.32 132.98 L342.45 133.29 L342.59 133.61 L342.75 133.98 L342.91 134.35 L343.07 134.72 L343.23 135.08 L343.39 135.44 L343.55 135.79 L343.72 136.14 L343.88 136.48 L344.04 136.82 L344.20 137.16 L344.36 137.49 L344.52 137.82 L344.68 138.14 L344.84 138.46 L345.00 138.77 L345.16 139.08 L345.32 139.38 L345.54 139.78 L345.75 140.16 L345.97 140.54 L346.18 140.91 L346.40 141.27 L346.61 141.63 L346.82 141.97 L347.04 142.32 L347.26 142.65 L347.47 142.98 L347.69 143.29 L347.90 143.61 L348.11 143.91 L348.38 144.27 L348.65 144.63 L348.92 144.96 L349.19 145.29 L349.46 145.59 L349.78 145.93 L350.10 146.25 L350.42 146.53 L350.74 146.78 L351.06 146.99 L351.39 147.16 L351.71 147.27 L352.03 147.32 L352.35 147.31 L352.67 147.22 L353.00 147.03 L353.32 146.73 L353.58 146.36 L353.80 145.97 L353.96 145.61 L354.12 145.20 L354.23 144.88 L354.34 144.53 L354.44 144.14 L354.55 143.72 L354.66 143.24 L354.77 142.72 L354.87 142.15 L354.93 141.84 L354.98 141.52 L355.03 141.19 L355.09 140.82 L355.14 140.45 L355.20 140.06 L355.25 139.66 L355.30 139.24 L355.36 138.79 L355.41 138.33 L355.46 137.85 L355.52 137.36 L355.57 136.82 L355.62 136.27 L355.68 135.70 L355.73 135.10 L355.79 134.48 L355.84 133.83 L355.89 133.15 L355.95 132.45 L356.00 131.74 L356.05 130.96 L356.11 130.17 L356.16 129.35 L356.21 128.50 L356.27 127.63 L356.32 126.72 L356.38 125.78 L356.43 124.82 L356.48 123.85 L356.54 122.81 L356.59 121.77 L356.64 120.70 L356.70 119.62 L356.75 118.53 L356.80 117.42 L356.86 116.30 L356.91 115.19 L356.96 114.09 L357.02 112.97 L357.07 111.89 L357.13 110.83 L357.18 109.81 L357.23 108.83 L357.29 107.91 L357.34 107.04 L357.39 106.25 L357.45 105.54 L357.50 104.90 L357.56 104.37 L357.61 103.94 L357.66 103.61 L357.77 103.30 L357.93 103.71 L357.99 104.08 L358.04 104.55 L358.09 105.13 L358.15 105.80 L358.20 106.56 L358.25 107.40 L358.31 108.31 L358.36 109.28 L358.41 110.29 L358.47 111.37 L358.52 112.47 L358.58 113.59 L358.63 114.74 L358.68 115.90 L358.74 117.06 L358.79 118.22 L358.84 119.38 L358.90 120.52 L358.95 121.65 L359.00 122.76 L359.06 123.85 L359.11 124.92 L359.17 125.96 L359.22 126.98 L359.27 127.96 L359.33 128.92 L359.38 129.85 L359.43 130.75 L359.49 131.63 L359.54 132.47 L359.59 133.28 L359.65 134.07 L359.70 134.83 L359.76 135.56 L359.81 136.27 L359.86 136.95 L359.92 137.60 L359.97 138.24 L360.02 138.84 L360.08 139.43 L360.13 140.00 L360.18 140.54 L360.24 141.07 L360.29 141.58 L360.35 142.06 L360.40 142.54 L360.45 142.99 L360.51 143.43 L360.56 143.85 L360.61 144.26 L360.67 144.66 L360.72 145.04 L360.77 145.41 L360.83 145.77 L360.88 146.12 L360.94 146.45 L360.99 146.78 L361.04 147.09 L361.10 147.40 L361.20 147.98 L361.31 148.54 L361.42 149.07 L361.53 149.57 L361.63 150.04 L361.74 150.49 L361.85 150.92 L361.95 151.34 L362.06 151.73 L362.17 152.10 L362.28 152.46 L362.38 152.80 L362.49 153.13 L362.60 153.44 L362.76 153.88 L362.92 154.29 L363.08 154.68 L363.24 155.04 L363.40 155.39 L363.56 155.72 L363.73 156.04 L363.89 156.34 L364.10 156.73 L364.32 157.10 L364.53 157.45 L364.74 157.78 L364.96 158.10 L365.17 158.41 L365.44 158.78 L365.71 159.14 L365.98 159.48 L366.25 159.81 L366.51 160.13 L366.78 160.44 L367.05 160.74 L367.37 161.09 L367.69 161.43 L368.02 161.76 L368.34 162.08 L368.66 162.39 L368.98 162.70 L369.30 162.99 L369.63 163.28 L369.95 163.56 L370.27 163.84 L370.59 164.11 L370.91 164.37 L371.24 164.62 L371.56 164.87 L371.88 165.11 L372.20 165.35 L372.52 165.58 L372.84 165.80 L373.17 166.01 L373.49 166.23 L373.81 166.44 L374.13 166.66 L374.83 167.15 L375.32 167.49 L375.80 167.82 L376.28 168.16 L376.68 168.42 L377.00 168.63 L377.33 168.84 L377.66 169.04 L377.99 169.23 L378.32 169.41 L378.64 169.58 L378.97 169.74 L379.30 169.88 L379.63 170.01 L379.96 170.12 L380.28 170.21 L380.61 170.28 L380.94 170.34 L381.27 170.37 L381.59 170.38 L381.92 170.37 L382.25 170.35 L382.56 170.32 L382.87 170.27 L383.20 170.22 L383.53 170.16 L383.85 170.09 L384.18 170.01 L384.49 169.93 L384.80 169.85 L385.13 169.77 L385.46 169.67 L385.78 169.58 L386.11 169.49 L386.43 169.39 L386.73 169.30 L387.06 169.20 L387.39 169.09 L387.72 168.98 L388.04 168.86 L388.36 168.75 L388.66 168.62 L388.99 168.47 L389.32 168.27 L389.65 168.00 L389.94 167.68 L390.16 167.36 L390.34 167.04 L390.48 166.74 L390.63 166.38 L390.74 166.08 L390.85 165.74 L390.96 165.37 L391.07 164.96 L391.18 164.52 L391.25 164.20 L391.32 163.87 L391.40 163.53 L391.47 163.18 L391.54 162.82 L391.61 162.47 L391.69 162.11 L391.76 161.77 L391.83 161.44 L391.94 161.01 L392.05 160.66 L392.22 160.36 L392.52 160.70 L392.63 161.10 L392.70 161.42 L392.78 161.80 L392.85 162.21 L392.93 162.64 L393.00 163.09 L393.07 163.55 L393.14 164.02 L393.22 164.48 L393.29 164.93 L393.36 165.38 L393.44 165.81 L393.51 166.23 L393.58 166.63 L393.65 167.02 L393.73 167.39 L393.80 167.74 L393.87 168.08 L393.95 168.40 L394.02 168.70 L394.13 169.13 L394.24 169.52 L394.35 169.89 L394.46 170.23 L394.57 170.55 L394.71 170.94 L394.86 171.30 L395.00 171.63 L395.15 171.93 L395.33 172.28 L395.51 172.60 L395.73 172.95 L395.95 173.27 L396.20 173.61 L396.46 173.93 L396.71 174.24 L397.01 174.58 L397.30 174.91 L397.59 175.23 L397.88 175.54 L398.17 175.85 L398.46 176.15" fill="none" stroke="#bb7a3c" stroke-width="1.55" stroke-dasharray="5.6 2.3 1.2 2.3" stroke-dashoffset="0" stroke-linejoin="round"/>
<path d="M157.50 178.34 L157.98 177.36 L158.47 176.39 L158.95 175.42 L159.43 174.46 L159.91 173.51 L160.40 172.56 L160.88 171.62 L161.36 170.68 L161.85 169.75 L162.33 168.82 L162.81 167.90 L163.30 166.98 L163.78 166.07 L164.26 165.16 L164.74 164.26 L165.23 163.37 L165.71 162.48 L166.19 161.60 L166.68 160.73 L167.16 159.87 L167.64 159.01 L168.13 158.15 L168.61 157.30 L169.09 156.46 L169.57 155.61 L170.06 154.77 L170.54 153.93 L171.02 153.08 L171.51 152.24 L171.99 151.39 L172.47 150.55 L172.95 149.70 L173.44 148.85 L173.92 148.00 L174.40 147.16 L174.89 146.32 L175.37 145.48 L175.85 144.64 L176.34 143.81 L176.82 142.98 L177.30 142.16 L177.78 141.35 L178.27 140.54 L178.75 139.75 L179.23 138.96 L179.72 138.18 L180.20 137.41 L180.68 136.64 L181.17 135.89 L181.65 135.13 L182.13 134.39 L182.61 133.64 L183.10 132.90 L183.58 132.16 L184.06 131.42 L184.55 130.68 L185.03 129.94 L185.51 129.20 L185.99 128.45 L186.48 127.70 L186.96 126.95 L187.44 126.20 L187.93 125.45 L188.41 124.70 L188.89 123.95 L189.38 123.20 L189.86 122.45 L190.34 121.70 L190.82 120.94 L191.31 120.18 L191.79 119.42 L192.27 118.66 L192.76 117.90 L193.24 117.13 L193.72 116.37 L194.21 115.60 L194.69 114.82 L195.17 114.04 L195.65 113.25 L196.14 112.46 L196.62 111.64 L197.10 110.82 L197.59 109.99 L198.07 109.15 L198.55 108.31 L199.04 107.47 L199.52 106.64 L200.00 105.81 L200.48 105.00 L200.97 104.21 L201.45 103.43 L201.93 102.66 L202.42 101.90 L202.90 101.14 L203.38 100.37 L203.86 99.60 L204.35 98.82 L204.83 98.02 L205.31 97.20 L205.80 96.36 L206.28 95.51 L206.76 94.64 L207.25 93.77 L207.73 92.89 L208.21 92.00 L208.69 91.10 L209.18 90.18 L209.66 89.24 L210.14 88.29 L210.63 87.32 L211.11 86.32 L211.59 85.31 L212.08 84.27 L212.56 83.21 L213.04 82.10 L213.52 80.96 L214.01 79.78 L214.49 78.57 L214.97 77.33 L215.46 76.07 L215.94 74.80 L216.42 73.51 L216.90 72.22 L217.39 70.92 L217.87 69.61 L218.35 68.26 L218.84 66.90 L219.32 65.52 L219.80 64.13 L220.29 62.73 L220.77 61.33 L221.25 59.92 L221.73 58.49 L222.22 57.02 L222.70 55.53 L223.18 54.01 L223.67 52.48 L224.15 50.95 L224.63 49.41 L225.12 47.87 L225.60 46.35 L226.08 44.85 L226.56 43.37 L227.05 41.93 L227.53 40.52 L228.01 39.17 L228.50 37.86 L228.98 36.62 L229.46 35.42 L229.94 34.23 L230.43 33.06 L230.91 31.90 L231.39 30.77 L231.88 29.65 L232.36 28.56 L232.84 27.50 L233.33 26.46 L233.81 25.46 L234.29 24.49 L234.77 23.55 L235.26 22.65 L235.74 21.79 L236.22 20.97 L236.71 20.19 L237.19 19.41 L237.67 18.65 L238.16 17.89 L238.64 17.15 L239.12 16.43 L239.60 15.73 L240.09 15.06 L240.57 14.41 L241.05 13.81 L241.54 13.24 L242.02 12.71 L242.50 12.23 L242.98 11.79 L243.47 11.42 L243.95 11.09 L244.43 10.79 L244.92 10.49 L245.40 10.20 L245.88 9.92 L246.37 9.66 L246.85 9.41 L247.33 9.17 L247.81 8.95 L248.30 8.75 L248.78 8.57 L249.26 8.40 L249.75 8.26 L250.23 8.14 L250.71 8.04 L251.20 7.96 L251.68 7.89 L252.16 7.83 L252.64 7.77 L253.13 7.71 L253.61 7.66 L254.09 7.60 L254.58 7.55 L255.06 7.50 L255.54 7.45 L256.03 7.41 L256.51 7.36 L256.99 7.32 L257.47 7.28 L257.96 7.24 L258.44 7.21 L258.92 7.18 L259.41 7.15 L259.89 7.12 L260.37 7.09 L260.85 7.07 L261.34 7.05 L261.82 7.03 L262.30 7.02 L262.79 7.01 L263.27 7.00 L263.75 6.99 L264.24 6.99 L264.72 6.99 L265.20 6.99 L265.68 6.99 L266.17 6.99 L266.65 6.99 L267.13 6.99 L267.62 6.99 L268.10 6.99 L268.58 6.99 L269.07 6.99 L269.55 6.99 L270.03 7.00 L270.51 7.00 L271.00 7.00 L271.48 7.00 L271.96 7.00 L272.45 7.01 L272.93 7.01 L273.41 7.01 L273.89 7.01 L274.38 7.02 L274.86 7.02 L275.34 7.02 L275.83 7.03 L276.31 7.03 L276.79 7.04 L277.28 7.04 L277.76 7.04 L278.24 7.05 L278.72 7.05 L279.21 7.06 L279.69 7.07 L280.17 7.07 L280.66 7.08 L281.14 7.08 L281.62 7.09 L282.11 7.10 L282.59 7.10 L283.07 7.11 L283.55 7.12 L284.04 7.13 L284.52 7.14 L285.00 7.14 L285.49 7.15 L285.97 7.16 L286.30 7.17 L286.62 7.18 L286.93 7.18 L287.27 7.20 L287.59 7.22 L287.90 7.26 L288.23 7.30 L288.55 7.36 L288.87 7.42 L289.20 7.50 L289.52 7.59 L289.83 7.68 L290.16 7.79 L290.49 7.91 L290.80 8.03 L291.13 8.17 L291.45 8.31 L291.76 8.47 L292.10 8.64 L292.42 8.81 L292.73 8.99 L293.06 9.20 L293.38 9.40 L293.70 9.64 L293.97 9.99 L294.18 10.34 L294.35 10.68 L294.51 11.04 L294.66 11.43 L294.78 11.74 L294.88 12.05 L294.99 12.38 L295.10 12.71 L295.21 13.07 L295.31 13.43 L295.42 13.81 L295.53 14.21 L295.63 14.58 L295.74 15.02 L295.85 15.45 L295.96 15.89 L296.06 16.33 L296.17 16.79 L296.28 17.25 L296.39 17.72 L296.49 18.19 L296.59 18.64 L296.71 19.17 L296.82 19.66 L296.92 20.16 L297.03 20.66 L297.14 21.16 L297.25 21.67 L297.35 22.18 L297.46 22.69 L297.56 23.17 L297.67 23.72 L297.78 24.23 L297.89 24.75 L298.00 25.28 L298.10 25.84 L298.21 26.42 L298.32 27.02 L298.37 27.32 L298.43 27.63 L298.48 27.95 L298.53 28.27 L298.59 28.60 L298.64 28.93 L298.69 29.26 L298.75 29.60 L298.80 29.95 L298.85 30.29 L298.91 30.65 L298.96 31.01 L299.01 31.32 L299.07 31.73 L299.12 32.10 L299.18 32.48 L299.23 32.86 L299.28 33.24 L299.34 33.63 L299.39 34.02 L299.44 34.42 L299.49 34.77 L299.55 35.22 L299.61 35.63 L299.66 36.04 L299.71 36.46 L299.77 36.88 L299.82 37.30 L299.87 37.73 L299.93 38.16 L299.97 38.54 L300.03 39.03 L300.09 39.47 L300.14 39.91 L300.20 40.36 L300.25 40.81 L300.30 41.27 L300.36 41.72 L300.41 42.19 L300.46 42.60 L300.52 43.12 L300.57 43.59 L300.62 44.06 L300.68 44.54 L300.73 45.02 L300.79 45.51 L300.84 46.03 L300.89 46.59 L300.94 47.13 L301.00 47.83 L301.05 48.50 L301.11 49.19 L301.16 49.92 L301.21 50.67 L301.27 51.44 L301.32 52.24 L301.38 53.05 L301.42 53.79 L301.48 54.72 L301.54 55.57 L301.59 56.43 L301.64 57.30 L301.70 58.17 L301.75 59.04 L301.80 59.91 L301.86 60.78 L301.91 61.55 L301.97 62.49 L302.02 63.34 L302.07 64.16 L302.13 64.98 L302.18 65.77 L302.23 66.55 L302.29 67.30 L302.34 68.03 L302.39 68.66 L302.45 69.40 L302.50 70.04 L302.56 70.64 L302.61 71.20 L302.66 71.73 L302.72 72.21 L302.77 72.65 L302.82 73.04 L302.87 73.36 L302.93 73.68 L303.04 74.10 L303.36 73.75 L303.41 73.38 L303.47 72.97 L303.52 72.49 L303.58 71.95 L303.63 71.36 L303.68 70.72 L303.74 70.04 L303.79 69.33 L303.84 68.65 L303.90 67.81 L303.95 67.02 L304.00 66.22 L304.06 65.42 L304.11 64.61 L304.17 63.81 L304.22 63.02 L304.27 62.25 L304.32 61.56 L304.38 60.77 L304.43 60.09 L304.49 59.44 L304.54 58.84 L304.59 58.29 L304.65 57.80 L304.70 57.37 L304.76 57.01 L304.86 56.43 L304.97 55.87 L305.08 55.33 L305.18 54.80 L305.29 54.31 L305.40 53.79 L305.51 53.31 L305.61 52.85 L305.72 52.41 L305.83 51.98 L305.94 51.57 L306.04 51.18 L306.15 50.80 L306.25 50.46 L306.36 50.11 L306.47 49.79 L306.63 49.35 L306.79 48.96 L306.95 48.60 L307.12 48.29 L307.33 47.95 L307.60 47.63 L307.92 47.27 L308.24 46.94 L308.56 46.62 L308.89 46.34 L309.21 46.08 L309.53 45.86 L309.85 45.66 L310.17 45.51 L310.50 45.39 L310.80 45.32 L311.13 45.28 L311.45 45.29 L311.77 45.35 L312.09 45.44 L312.41 45.57 L312.73 45.73 L313.06 45.92 L313.38 46.14 L313.70 46.38 L314.02 46.64 L314.34 46.92 L314.67 47.21 L314.99 47.51 L315.31 47.82 L315.63 48.13 L315.95 48.44 L316.28 48.75 L316.60 49.05 L316.92 49.35 L317.24 49.63 L317.56 49.90 L317.88 50.18 L318.21 50.47 L318.53 50.78 L318.85 51.10 L319.17 51.43 L319.49 51.76 L319.78 52.06 L320.08 52.40 L320.41 52.75 L320.73 53.10 L321.05 53.46 L321.37 53.81 L321.69 54.16 L322.02 54.51 L322.34 54.86 L322.66 55.20 L322.98 55.53 L323.30 55.86 L323.62 56.17 L323.95 56.48 L324.27 56.77 L324.59 57.05 L324.91 57.31 L325.23 57.55 L325.56 57.78 L325.88 57.99 L326.20 58.21 L326.52 58.43 L326.84 58.65 L327.16 58.87 L327.49 59.09 L327.81 59.31 L328.13 59.52 L328.45 59.73 L328.77 59.92 L329.10 60.10 L329.42 60.27 L329.74 60.43 L330.06 60.57 L330.38 60.69 L330.71 60.79 L331.03 60.86 L331.35 60.92 L331.67 60.94 L331.99 60.94 L332.31 60.93 L332.64 60.91 L332.96 60.88 L333.28 60.84 L333.60 60.79 L333.92 60.73 L334.25 60.68 L334.57 60.61 L334.89 60.55 L335.21 60.48 L335.53 60.41 L335.86 60.35 L336.18 60.28 L336.50 60.22 L336.82 60.17 L337.14 60.11 L337.46 60.07 L337.79 60.03 L338.11 60.00 L338.43 59.99 L338.75 59.98 L339.07 59.99 L339.40 60.04 L339.72 60.13 L340.04 60.24 L340.36 60.39 L340.68 60.56 L341.01 60.76 L341.33 60.98 L341.65 61.21 L341.97 61.47 L342.29 61.74 L342.56 62.05 L342.80 62.43 L342.96 62.73 L343.13 63.07 L343.29 63.44 L343.44 63.82 L343.61 64.26 L343.77 64.71 L343.88 65.03 L343.98 65.35 L344.09 65.68 L344.20 66.02 L344.31 66.36 L344.41 66.69 L344.52 67.06 L344.63 67.42 L344.73 67.78 L344.84 68.14 L344.95 68.50 L345.06 68.88 L345.16 69.28 L345.27 69.69 L345.37 70.10 L345.49 70.58 L345.59 71.05 L345.70 71.53 L345.81 72.03 L345.91 72.55 L346.02 73.08 L346.13 73.63 L346.24 74.19 L346.34 74.74 L346.40 75.05 L346.51 75.65 L346.61 76.25 L346.67 76.55 L346.72 76.86 L346.77 77.17 L346.83 77.48 L346.88 77.80 L346.93 78.11 L346.99 78.43 L347.04 78.75 L347.10 79.08 L347.15 79.40 L347.20 79.73 L347.26 80.06 L347.31 80.36 L347.36 80.72 L347.42 81.05 L347.47 81.39 L347.52 81.72 L347.58 82.06 L347.63 82.40 L347.69 82.74 L347.74 83.08 L347.79 83.40 L347.85 83.76 L347.90 84.11 L347.95 84.45 L348.01 84.79 L348.06 85.14 L348.11 85.48 L348.17 85.83 L348.22 86.18 L348.27 86.50 L348.33 86.87 L348.38 87.21 L348.44 87.56 L348.49 87.91 L348.54 88.25 L348.60 88.60 L348.65 88.94 L348.70 89.28 L348.75 89.61 L348.81 89.97 L348.87 90.31 L348.92 90.66 L348.97 91.00 L349.03 91.35 L349.08 91.71 L349.13 92.08 L349.19 92.46 L349.24 92.83 L349.29 93.25 L349.35 93.67 L349.40 94.09 L349.46 94.52 L349.51 94.96 L349.56 95.41 L349.62 95.86 L349.67 96.32 L349.72 96.76 L349.78 97.27 L349.83 97.75 L349.88 98.24 L349.94 98.73 L349.99 99.23 L350.05 99.74 L350.10 100.24 L350.15 100.75 L350.20 101.24 L350.26 101.79 L350.31 102.31 L350.37 102.83 L350.42 103.36 L350.47 103.89 L350.53 104.42 L350.58 104.95 L350.64 105.48 L350.69 105.98 L350.74 106.54 L350.80 107.07 L350.85 107.60 L350.90 108.13 L350.96 108.66 L351.01 109.18 L351.06 109.70 L351.12 110.22 L351.17 110.71 L351.23 111.25 L351.28 111.76 L351.33 112.26 L351.39 112.76 L351.44 113.26 L351.49 113.75 L351.55 114.23 L351.60 114.71 L351.65 115.15 L351.71 115.64 L351.76 116.10 L351.82 116.55 L351.87 116.99 L351.92 117.42 L351.98 117.84 L352.03 118.25 L352.08 118.66 L352.14 119.04 L352.19 119.44 L352.25 119.81 L352.30 120.17 L352.35 120.52 L352.41 120.86 L352.46 121.19 L352.51 121.50 L352.57 121.80 L352.67 122.37 L352.78 122.87 L352.89 123.32 L353.00 123.70 L353.10 124.01 L353.26 124.36 L353.58 124.53 L353.75 124.13 L353.85 123.63 L353.91 123.33 L353.96 122.98 L354.02 122.59 L354.07 122.18 L354.12 121.71 L354.18 121.21 L354.23 120.68 L354.28 120.12 L354.34 119.52 L354.39 118.90 L354.44 118.24 L354.50 117.56 L354.55 116.88 L354.61 116.12 L354.66 115.36 L354.71 114.58 L354.77 113.78 L354.82 112.95 L354.87 112.11 L354.93 111.25 L354.98 110.37 L355.03 109.50 L355.09 108.56 L355.14 107.64 L355.20 106.70 L355.25 105.76 L355.30 104.80 L355.36 103.84 L355.41 102.87 L355.46 101.89 L355.52 100.93 L355.57 99.92 L355.62 98.93 L355.68 97.94 L355.73 96.95 L355.79 95.96 L355.84 94.97 L355.89 93.99 L355.95 93.01 L356.00 92.06 L356.05 91.08 L356.11 90.12 L356.16 89.17 L356.21 88.24 L356.27 87.31 L356.32 86.40 L356.38 85.51 L356.43 84.63 L356.48 83.78 L356.54 82.92 L356.59 82.09 L356.64 81.29 L356.70 80.51 L356.75 79.74 L356.80 78.95 L356.86 78.12 L356.91 77.27 L356.96 76.40 L357.02 75.48 L357.07 74.55 L357.13 73.59 L357.18 72.62 L357.23 71.64 L357.29 70.64 L357.34 69.63 L357.39 68.61 L357.45 67.59 L357.50 66.55 L357.56 65.51 L357.61 64.48 L357.66 63.45 L357.72 62.43 L357.77 61.41 L357.82 60.40 L357.88 59.41 L357.93 58.44 L357.99 57.46 L358.04 56.52 L358.09 55.60 L358.15 54.70 L358.20 53.82 L358.25 52.98 L358.31 52.17 L358.36 51.39 L358.41 50.65 L358.47 49.94 L358.52 49.27 L358.58 48.65 L358.63 48.07 L358.68 47.54 L358.74 47.06 L358.79 46.63 L358.84 46.26 L358.90 45.94 L359.00 45.49 L359.33 45.37 L359.54 45.69 L359.70 46.05 L359.81 46.36 L359.92 46.70 L360.02 47.09 L360.13 47.51 L360.24 47.97 L360.35 48.46 L360.45 48.98 L360.56 49.53 L360.67 50.10 L360.77 50.69 L360.83 50.99 L360.88 51.29 L360.94 51.60 L360.99 51.91 L361.04 52.23 L361.10 52.55 L361.15 52.87 L361.20 53.19 L361.26 53.51 L361.31 53.84 L361.36 54.17 L361.42 54.49 L361.47 54.82 L361.53 55.15 L361.58 55.47 L361.63 55.80 L361.69 56.12 L361.74 56.44 L361.79 56.76 L361.85 57.08 L361.90 57.41 L361.95 57.76 L362.01 58.12 L362.06 58.48 L362.12 58.86 L362.17 59.25 L362.22 59.65 L362.28 60.06 L362.33 60.49 L362.38 60.92 L362.44 61.36 L362.49 61.80 L362.54 62.26 L362.60 62.73 L362.65 63.20 L362.71 63.69 L362.76 64.17 L362.81 64.67 L362.87 65.17 L362.92 65.68 L362.97 66.20 L363.03 66.72 L363.08 67.25 L363.14 67.78 L363.19 68.32 L363.24 68.86 L363.30 69.41 L363.35 69.96 L363.40 70.51 L363.46 71.07 L363.51 71.63 L363.56 72.19 L363.62 72.76 L363.67 73.33 L363.73 73.89 L363.78 74.46 L363.83 75.04 L363.89 75.61 L363.94 76.18 L363.99 76.75 L364.05 77.33 L364.10 77.90 L364.15 78.47 L364.21 79.04 L364.26 79.61 L364.32 80.17 L364.37 80.74 L364.42 81.30 L364.48 81.86 L364.53 82.42 L364.58 82.99 L364.64 83.57 L364.69 84.16 L364.74 84.76 L364.80 85.36 L364.85 85.98 L364.91 86.60 L364.96 87.23 L365.01 87.87 L365.07 88.51 L365.12 89.15 L365.17 89.80 L365.23 90.46 L365.28 91.12 L365.33 91.78 L365.39 92.44 L365.44 93.11 L365.50 93.78 L365.55 94.45 L365.60 95.11 L365.66 95.78 L365.71 96.45 L365.76 97.11 L365.82 97.78 L365.87 98.44 L365.92 99.10 L365.98 99.75 L366.03 100.40 L366.09 101.04 L366.14 101.68 L366.19 102.32 L366.25 102.94 L366.30 103.56 L366.35 104.18 L366.41 104.78 L366.46 105.38 L366.51 105.96 L366.57 106.54 L366.62 107.11 L366.68 107.66 L366.73 108.21 L366.78 108.74 L366.84 109.26 L366.89 109.76 L366.94 110.26 L367.00 110.76 L367.05 111.25 L367.10 111.75 L367.16 112.24 L367.21 112.74 L367.27 113.23 L367.32 113.72 L367.37 114.20 L367.43 114.69 L367.48 115.17 L367.53 115.65 L367.59 116.13 L367.64 116.60 L367.69 117.06 L367.75 117.53 L367.80 117.99 L367.86 118.44 L367.91 118.89 L367.96 119.33 L368.02 119.76 L368.07 120.19 L368.12 120.62 L368.18 121.03 L368.23 121.44 L368.28 121.84 L368.34 122.23 L368.39 122.62 L368.45 122.99 L368.50 123.36 L368.55 123.72 L368.61 124.07 L368.66 124.40 L368.71 124.73 L368.77 125.05 L368.82 125.36 L368.93 125.94 L369.04 126.47 L369.14 126.97 L369.25 127.46 L369.36 127.94 L369.47 128.42 L369.57 128.88 L369.68 129.34 L369.79 129.79 L369.89 130.24 L370.00 130.67 L370.11 131.10 L370.22 131.52 L370.32 131.93 L370.43 132.34 L370.54 132.73 L370.65 133.12 L370.75 133.51 L370.86 133.88 L370.97 134.25 L371.07 134.62 L371.18 134.97 L371.29 135.32 L371.40 135.67 L371.50 136.01 L371.61 136.34 L371.72 136.66 L371.83 136.98 L371.93 137.30 L372.04 137.61 L372.15 137.91 L372.31 138.36 L372.42 138.66 L372.58 139.07 L372.74 139.48 L372.90 139.89 L373.06 140.28 L373.22 140.66 L373.38 141.04 L373.54 141.40 L373.70 141.76 L373.86 142.10 L374.02 142.44 L374.35 143.11 L374.83 144.04 L375.32 144.98 L375.80 145.92 L376.28 146.84 L376.68 147.57 L376.86 147.90 L377.04 148.23 L377.22 148.54 L377.40 148.85 L377.62 149.20 L377.84 149.54 L378.06 149.86 L378.28 150.17 L378.53 150.50 L378.83 150.83 L379.15 151.16 L379.48 151.43 L379.81 151.64 L380.14 151.78 L380.47 151.84 L380.79 151.82 L381.11 151.71 L381.45 151.50 L381.78 151.22 L382.07 150.91 L382.32 150.60 L382.56 150.27 L382.80 149.93 L383.02 149.58 L383.20 149.28 L383.38 148.96 L383.56 148.63 L383.74 148.30 L383.93 147.95 L384.11 147.60 L384.29 147.25 L384.47 146.89 L384.66 146.52 L384.84 146.16 L385.02 145.79 L385.20 145.43 L385.38 145.06 L385.57 144.70 L385.75 144.35 L385.93 144.00 L386.11 143.66 L386.29 143.31 L386.48 142.94 L386.62 142.61 L386.77 142.26 L386.91 141.91 L387.02 141.61 L387.17 141.21 L387.28 140.90 L387.39 140.59 L387.50 140.26 L387.61 139.93 L387.72 139.60 L387.82 139.26 L387.93 138.91 L388.04 138.56 L388.15 138.21 L388.26 137.85 L388.36 137.54 L388.48 137.13 L388.59 136.77 L388.70 136.41 L388.81 136.05 L388.92 135.69 L389.03 135.33 L389.14 134.97 L389.25 134.62 L389.36 134.27 L389.46 133.93 L389.57 133.58 L389.68 133.25 L389.79 132.92 L389.90 132.60 L390.01 132.28 L390.12 131.97 L390.27 131.57 L390.41 131.19 L390.56 130.83 L390.70 130.49 L390.85 130.17 L391.03 129.80 L391.21 129.46 L391.43 129.12 L391.69 128.80 L392.01 128.53 L392.34 128.44 L392.67 128.61 L392.93 128.95 L393.11 129.29 L393.25 129.63 L393.40 130.01 L393.51 130.32 L393.62 130.65 L393.73 131.01 L393.84 131.39 L393.95 131.78 L394.06 132.20 L394.15 132.58 L394.24 132.92 L394.35 133.37 L394.42 133.68 L394.49 133.99 L394.57 134.31 L394.64 134.62 L394.71 134.95 L394.78 135.28 L394.86 135.61 L394.93 135.94 L395.00 136.28 L395.08 136.61 L395.15 136.95 L395.22 137.29 L395.29 137.63 L395.37 137.96 L395.44 138.30 L395.51 138.64 L395.59 138.97 L395.66 139.31 L395.73 139.64 L395.80 139.96 L395.88 140.29 L395.95 140.63 L396.02 140.98 L396.09 141.29 L396.17 141.71 L396.24 142.09 L396.31 142.48 L396.39 142.87 L396.46 143.28 L396.53 143.69 L396.61 144.12 L396.68 144.55 L396.75 144.99 L396.82 145.44 L396.90 145.89 L396.97 146.36 L397.04 146.83 L397.12 147.31 L397.19 147.79 L397.26 148.28 L397.33 148.78 L397.41 149.28 L397.48 149.79 L397.53 150.18 L397.59 150.57 L397.66 151.09 L397.73 151.62 L397.81 152.16 L397.88 152.70 L397.95 153.24 L398.02 153.72 L398.06 154.07 L398.14 154.62 L398.21 155.18 L398.28 155.74 L398.35 156.31 L398.43 156.88 L398.50 157.45" fill="none" stroke="#7a1824" stroke-width="1.8" stroke-linejoin="round"/>
<line x1="161" y1="14.3" x2="182.3" y2="14.3" stroke="#1c1c1c" stroke-width="1.5" stroke-dasharray="5.6 2.3 1.2 2.3"/>
<text x="186.5" y="17.80" class="lg">2×10S/m</text>
<line x1="161" y1="26.0" x2="182.3" y2="26.0" stroke="#24997a" stroke-width="1.5" stroke-dasharray="5.6 2.3 1.2 2.3"/>
<text x="186.5" y="29.50" class="lg">2×10<tspan class="sup" dy="-3.0">2</tspan><tspan dy="3.0">S/m</tspan></text>
<line x1="161" y1="38.0" x2="182.3" y2="38.0" stroke="#e2c460" stroke-width="1.5" stroke-dasharray="5.6 2.3 1.2 2.3"/>
<text x="186.5" y="41.50" class="lg">2×10<tspan class="sup" dy="-3.0">3</tspan><tspan dy="3.0">S/m</tspan></text>
<line x1="161" y1="49.9" x2="182.3" y2="49.9" stroke="#bb7a3c" stroke-width="1.5" stroke-dasharray="5.6 2.3 1.2 2.3"/>
<text x="186.5" y="53.40" class="lg">2×10<tspan class="sup" dy="-3.0">4</tspan><tspan dy="3.0">S/m</tspan></text>
<line x1="161" y1="62.0" x2="182.3" y2="62.0" stroke="#7a1824" stroke-width="1.6"/>
<text x="186.5" y="65.50" class="lg">2×10<tspan class="sup" dy="-3.0">5</tspan><tspan dy="3.0">S/m</tspan></text>
<text x="277.5" y="217.8" class="ax" text-anchor="middle">Frequency (THz)</text>
<text transform="translate(142.5 101) rotate(-90)" class="ax" text-anchor="middle">Absorption</text>
<text x="280.6" y="239.0" class="pl" text-anchor="middle">(a)</text>
<rect x="24.1" y="249.0" width="240.79999999999998" height="193.7" fill="none" stroke="#1a1a1a" stroke-width="1.6"/>
<line x1="24.10" y1="442.7" x2="24.10" y2="440.09999999999997" stroke="#1a1a1a" stroke-width="1.1"/>
<line x1="37.48" y1="442.7" x2="37.48" y2="441.09999999999997" stroke="#1a1a1a" stroke-width="1.1"/>
<line x1="50.86" y1="442.7" x2="50.86" y2="440.09999999999997" stroke="#1a1a1a" stroke-width="1.1"/>
<line x1="64.23" y1="442.7" x2="64.23" y2="441.09999999999997" stroke="#1a1a1a" stroke-width="1.1"/>
<line x1="77.61" y1="442.7" x2="77.61" y2="440.09999999999997" stroke="#1a1a1a" stroke-width="1.1"/>
<line x1="90.99" y1="442.7" x2="90.99" y2="441.09999999999997" stroke="#1a1a1a" stroke-width="1.1"/>
<line x1="104.37" y1="442.7" x2="104.37" y2="440.09999999999997" stroke="#1a1a1a" stroke-width="1.1"/>
<line x1="117.74" y1="442.7" x2="117.74" y2="441.09999999999997" stroke="#1a1a1a" stroke-width="1.1"/>
<line x1="131.12" y1="442.7" x2="131.12" y2="440.09999999999997" stroke="#1a1a1a" stroke-width="1.1"/>
<line x1="144.50" y1="442.7" x2="144.50" y2="441.09999999999997" stroke="#1a1a1a" stroke-width="1.1"/>
<line x1="157.88" y1="442.7" x2="157.88" y2="440.09999999999997" stroke="#1a1a1a" stroke-width="1.1"/>
<line x1="171.26" y1="442.7" x2="171.26" y2="441.09999999999997" stroke="#1a1a1a" stroke-width="1.1"/>
<line x1="184.63" y1="442.7" x2="184.63" y2="440.09999999999997" stroke="#1a1a1a" stroke-width="1.1"/>
<line x1="198.01" y1="442.7" x2="198.01" y2="441.09999999999997" stroke="#1a1a1a" stroke-width="1.1"/>
<line x1="211.39" y1="442.7" x2="211.39" y2="440.09999999999997" stroke="#1a1a1a" stroke-width="1.1"/>
<line x1="224.77" y1="442.7" x2="224.77" y2="441.09999999999997" stroke="#1a1a1a" stroke-width="1.1"/>
<line x1="238.14" y1="442.7" x2="238.14" y2="440.09999999999997" stroke="#1a1a1a" stroke-width="1.1"/>
<line x1="251.52" y1="442.7" x2="251.52" y2="441.09999999999997" stroke="#1a1a1a" stroke-width="1.1"/>
<line x1="264.90" y1="442.7" x2="264.90" y2="440.09999999999997" stroke="#1a1a1a" stroke-width="1.1"/>
<line x1="24.1" y1="442.70" x2="26.700000000000003" y2="442.70" stroke="#1a1a1a" stroke-width="1.1"/>
<line x1="24.1" y1="437.32" x2="25.700000000000003" y2="437.32" stroke="#1a1a1a" stroke-width="1.1"/>
<line x1="24.1" y1="431.94" x2="26.700000000000003" y2="431.94" stroke="#1a1a1a" stroke-width="1.1"/>
<line x1="24.1" y1="426.56" x2="25.700000000000003" y2="426.56" stroke="#1a1a1a" stroke-width="1.1"/>
<line x1="24.1" y1="421.18" x2="26.700000000000003" y2="421.18" stroke="#1a1a1a" stroke-width="1.1"/>
<line x1="24.1" y1="415.80" x2="25.700000000000003" y2="415.80" stroke="#1a1a1a" stroke-width="1.1"/>
<line x1="24.1" y1="410.42" x2="26.700000000000003" y2="410.42" stroke="#1a1a1a" stroke-width="1.1"/>
<line x1="24.1" y1="405.04" x2="25.700000000000003" y2="405.04" stroke="#1a1a1a" stroke-width="1.1"/>
<line x1="24.1" y1="399.66" x2="26.700000000000003" y2="399.66" stroke="#1a1a1a" stroke-width="1.1"/>
<line x1="24.1" y1="394.27" x2="25.700000000000003" y2="394.27" stroke="#1a1a1a" stroke-width="1.1"/>
<line x1="24.1" y1="388.89" x2="26.700000000000003" y2="388.89" stroke="#1a1a1a" stroke-width="1.1"/>
<line x1="24.1" y1="383.51" x2="25.700000000000003" y2="383.51" stroke="#1a1a1a" stroke-width="1.1"/>
<line x1="24.1" y1="378.13" x2="26.700000000000003" y2="378.13" stroke="#1a1a1a" stroke-width="1.1"/>
<line x1="24.1" y1="372.75" x2="25.700000000000003" y2="372.75" stroke="#1a1a1a" stroke-width="1.1"/>
<line x1="24.1" y1="367.37" x2="26.700000000000003" y2="367.37" stroke="#1a1a1a" stroke-width="1.1"/>
<line x1="24.1" y1="361.99" x2="25.700000000000003" y2="361.99" stroke="#1a1a1a" stroke-width="1.1"/>
<line x1="24.1" y1="356.61" x2="26.700000000000003" y2="356.61" stroke="#1a1a1a" stroke-width="1.1"/>
<line x1="24.1" y1="351.23" x2="25.700000000000003" y2="351.23" stroke="#1a1a1a" stroke-width="1.1"/>
<line x1="24.1" y1="345.85" x2="26.700000000000003" y2="345.85" stroke="#1a1a1a" stroke-width="1.1"/>
<line x1="24.1" y1="340.47" x2="25.700000000000003" y2="340.47" stroke="#1a1a1a" stroke-width="1.1"/>
<line x1="24.1" y1="335.09" x2="26.700000000000003" y2="335.09" stroke="#1a1a1a" stroke-width="1.1"/>
<line x1="24.1" y1="329.71" x2="25.700000000000003" y2="329.71" stroke="#1a1a1a" stroke-width="1.1"/>
<line x1="24.1" y1="324.33" x2="26.700000000000003" y2="324.33" stroke="#1a1a1a" stroke-width="1.1"/>
<line x1="24.1" y1="318.95" x2="25.700000000000003" y2="318.95" stroke="#1a1a1a" stroke-width="1.1"/>
<line x1="24.1" y1="313.57" x2="26.700000000000003" y2="313.57" stroke="#1a1a1a" stroke-width="1.1"/>
<line x1="24.1" y1="308.19" x2="25.700000000000003" y2="308.19" stroke="#1a1a1a" stroke-width="1.1"/>
<line x1="24.1" y1="302.81" x2="26.700000000000003" y2="302.81" stroke="#1a1a1a" stroke-width="1.1"/>
<line x1="24.1" y1="297.43" x2="25.700000000000003" y2="297.43" stroke="#1a1a1a" stroke-width="1.1"/>
<line x1="24.1" y1="292.04" x2="26.700000000000003" y2="292.04" stroke="#1a1a1a" stroke-width="1.1"/>
<line x1="24.1" y1="286.66" x2="25.700000000000003" y2="286.66" stroke="#1a1a1a" stroke-width="1.1"/>
<line x1="24.1" y1="281.28" x2="26.700000000000003" y2="281.28" stroke="#1a1a1a" stroke-width="1.1"/>
<line x1="24.1" y1="275.90" x2="25.700000000000003" y2="275.90" stroke="#1a1a1a" stroke-width="1.1"/>
<line x1="24.1" y1="270.52" x2="26.700000000000003" y2="270.52" stroke="#1a1a1a" stroke-width="1.1"/>
<line x1="24.1" y1="265.14" x2="25.700000000000003" y2="265.14" stroke="#1a1a1a" stroke-width="1.1"/>
<line x1="24.1" y1="259.76" x2="26.700000000000003" y2="259.76" stroke="#1a1a1a" stroke-width="1.1"/>
<line x1="24.1" y1="254.38" x2="25.700000000000003" y2="254.38" stroke="#1a1a1a" stroke-width="1.1"/>
<line x1="24.1" y1="249.00" x2="26.700000000000003" y2="249.00" stroke="#1a1a1a" stroke-width="1.1"/>
<text x="24.10" y="451.0" class="tk" text-anchor="middle">1</text>
<text x="50.86" y="451.0" class="tk" text-anchor="middle">2</text>
<text x="77.61" y="451.0" class="tk" text-anchor="middle">3</text>
<text x="104.37" y="451.0" class="tk" text-anchor="middle">4</text>
<text x="131.12" y="451.0" class="tk" text-anchor="middle">5</text>
<text x="157.88" y="451.0" class="tk" text-anchor="middle">6</text>
<text x="184.63" y="451.0" class="tk" text-anchor="middle">7</text>
<text x="211.39" y="451.0" class="tk" text-anchor="middle">8</text>
<text x="238.14" y="451.0" class="tk" text-anchor="middle">9</text>
<text x="264.90" y="451.0" class="tk" text-anchor="middle">10</text>
<text x="21.3" y="445.30" class="tk" text-anchor="end">-5</text>
<text x="21.3" y="434.54" class="tk" text-anchor="end">0</text>
<text x="21.3" y="423.78" class="tk" text-anchor="end">5</text>
<text x="21.3" y="413.02" class="tk" text-anchor="end">10</text>
<text x="21.3" y="402.26" class="tk" text-anchor="end">15</text>
<text x="21.3" y="391.49" class="tk" text-anchor="end">20</text>
<text x="21.3" y="380.73" class="tk" text-anchor="end">25</text>
<text x="21.3" y="369.97" class="tk" text-anchor="end">30</text>
<text x="21.3" y="359.21" class="tk" text-anchor="end">35</text>
<text x="21.3" y="348.45" class="tk" text-anchor="end">40</text>
<text x="21.3" y="337.69" class="tk" text-anchor="end">45</text>
<text x="21.3" y="326.93" class="tk" text-anchor="end">50</text>
<text x="21.3" y="316.17" class="tk" text-anchor="end">55</text>
<text x="21.3" y="305.41" class="tk" text-anchor="end">60</text>
<text x="21.3" y="294.64" class="tk" text-anchor="end">65</text>
<text x="21.3" y="283.88" class="tk" text-anchor="end">70</text>
<text x="21.3" y="273.12" class="tk" text-anchor="end">75</text>
<text x="21.3" y="262.36" class="tk" text-anchor="end">80</text>
<text x="21.3" y="251.60" class="tk" text-anchor="end">85</text>
<path d="M24.10 430.76 L24.58 430.76 L25.07 430.76 L25.55 430.76 L26.03 430.76 L26.51 430.76 L27.00 430.76 L27.48 430.76 L27.96 430.76 L28.44 430.76 L28.93 430.76 L29.41 430.76 L29.89 430.76 L30.37 430.76 L30.86 430.76 L31.34 430.76 L31.82 430.76 L32.30 430.76 L32.79 430.76 L33.27 430.76 L33.75 430.76 L34.23 430.76 L34.72 430.76 L35.20 430.76 L35.68 430.76 L36.16 430.76 L36.65 430.76 L37.13 430.76 L37.61 430.76 L38.09 430.76 L38.58 430.76 L39.06 430.76 L39.54 430.76 L40.02 430.76 L40.51 430.76 L40.99 430.76 L41.47 430.76 L41.95 430.76 L42.44 430.76 L42.92 430.76 L43.40 430.76 L43.89 430.76 L44.37 430.76 L44.85 430.76 L45.33 430.76 L45.82 430.76 L46.30 430.76 L46.78 430.76 L47.26 430.76 L47.75 430.76 L48.23 430.76 L48.71 430.76 L49.19 430.76 L49.68 430.76 L50.16 430.76 L50.64 430.76 L51.12 430.76 L51.61 430.76 L52.09 430.76 L52.57 430.76 L53.05 430.76 L53.54 430.76 L54.02 430.76 L54.50 430.76 L54.98 430.76 L55.47 430.76 L55.95 430.76 L56.43 430.76 L56.91 430.76 L57.40 430.76 L57.88 430.76 L58.36 430.76 L58.84 430.76 L59.33 430.76 L59.81 430.76 L60.29 430.76 L60.77 430.76 L61.26 430.76 L61.74 430.76 L62.22 430.76 L62.63 430.76 L62.95 430.76 L63.27 430.76 L63.59 430.76 L63.91 430.76 L64.24 430.76 L64.56 430.76 L64.88 430.76 L65.20 430.76 L65.52 430.76 L65.84 430.76 L66.17 430.76 L66.49 430.76 L66.81 430.76 L67.13 430.76 L67.45 430.76 L67.77 430.76 L68.10 430.76 L68.42 430.76 L68.74 430.76 L69.06 430.76 L69.38 430.76 L69.70 430.76 L70.02 430.76 L70.35 430.76 L70.67 430.76 L70.99 430.76 L71.31 430.76 L71.63 430.76 L71.95 430.76 L72.28 430.76 L72.60 430.76 L72.92 430.76 L73.24 430.76 L73.56 430.76 L73.88 430.76 L74.21 430.76 L74.53 430.76 L74.85 430.76 L75.17 430.76 L75.49 430.76 L75.81 430.76 L76.14 430.76 L76.46 430.76 L76.78 430.76 L77.10 430.76 L77.42 430.76 L77.74 430.76 L78.06 430.76 L78.39 430.76 L78.71 430.76 L79.03 430.76 L79.35 430.76 L79.67 430.76 L79.99 430.76 L80.32 430.76 L80.64 430.76 L80.96 430.76 L81.28 430.76 L81.60 430.76 L81.92 430.76 L82.25 430.76 L82.57 430.76 L82.89 430.76 L83.21 430.76 L83.53 430.76 L83.85 430.76 L84.18 430.76 L84.50 430.76 L84.82 430.76 L85.14 430.76 L85.46 430.76 L85.78 430.76 L86.10 430.76 L86.43 430.76 L86.75 430.76 L87.07 430.76 L87.39 430.76 L87.71 430.76 L88.03 430.76 L88.36 430.76 L88.68 430.76 L89.00 430.76 L89.32 430.76 L89.64 430.76 L89.96 430.76 L90.29 430.76 L90.61 430.76 L90.93 430.76 L91.25 430.76 L91.57 430.76 L91.89 430.76 L92.22 430.76 L92.54 430.76 L92.86 430.76 L93.18 430.76 L93.50 430.76 L93.82 430.76 L94.15 430.76 L94.47 430.76 L95.04 430.76 L95.52 430.76 L96.00 430.76 L96.48 430.76 L96.97 430.76 L97.45 430.76 L97.93 430.76 L98.42 430.76 L98.90 430.76 L99.38 430.76 L99.86 430.76 L100.35 430.76 L100.83 430.76 L101.31 430.76 L101.79 430.76 L102.28 430.76 L102.76 430.76 L103.24 430.76 L103.72 430.76 L104.21 430.76 L104.69 430.76 L105.17 430.76 L105.65 430.76 L106.14 430.76 L106.62 430.76 L107.10 430.76 L107.58 430.76 L108.07 430.76 L108.55 430.76 L109.03 430.76 L109.51 430.76 L110.00 430.76 L110.48 430.76 L110.96 430.76 L111.44 430.76 L111.93 430.76 L112.41 430.76 L112.89 430.76 L113.37 430.76 L113.86 430.76 L114.34 430.76 L114.82 430.76 L115.30 430.76 L115.79 430.76 L116.27 430.76 L116.75 430.76 L117.24 430.76 L117.72 430.76 L118.20 430.76 L118.68 430.76 L119.17 430.76 L119.65 430.76 L120.13 430.76 L120.61 430.76 L121.10 430.76 L121.58 430.76 L122.06 430.76 L122.54 430.76 L123.03 430.76 L123.51 430.76 L123.99 430.76 L124.47 430.76 L124.96 430.76 L125.44 430.76 L125.92 430.76 L126.40 430.76 L126.89 430.76 L127.37 430.76 L127.85 430.76 L128.33 430.76 L128.82 430.76 L129.30 430.76 L129.78 430.76 L130.26 430.76 L130.75 430.76 L131.23 430.76 L131.71 430.76 L132.19 430.76 L132.68 430.76 L133.16 430.76 L133.64 430.76 L134.12 430.76 L134.61 430.76 L135.09 430.76 L135.57 430.76 L136.06 430.76 L136.54 430.76 L137.02 430.76 L137.50 430.76 L137.99 430.76 L138.47 430.76 L138.95 430.76 L139.43 430.76 L139.92 430.76 L140.40 430.76 L140.88 430.76 L141.36 430.76 L141.85 430.76 L142.33 430.76 L142.81 430.76 L143.29 430.76 L143.78 430.76 L144.26 430.76 L144.74 430.76 L145.22 430.76 L145.71 430.76 L146.19 430.76 L146.67 430.76 L147.15 430.76 L147.64 430.76 L148.12 430.76 L148.60 430.76 L149.08 430.76 L149.57 430.76 L150.05 430.76 L150.53 430.76 L151.01 430.76 L151.50 430.76 L151.98 430.76 L152.46 430.76 L152.94 430.76 L153.43 430.76 L153.91 430.76 L154.39 430.76 L154.88 430.76 L155.36 430.76 L155.84 430.76 L156.32 430.76 L156.81 430.76 L157.29 430.76 L157.77 430.76 L158.25 430.76 L158.74 430.76 L159.22 430.76 L159.70 430.76 L160.18 430.76 L160.67 430.76 L161.15 430.76 L161.63 430.76 L162.11 430.76 L162.60 430.76 L163.08 430.76 L163.56 430.76 L164.04 430.76 L164.53 430.76 L165.01 430.76 L165.49 430.76 L165.97 430.76 L166.46 430.76 L166.94 430.76 L167.42 430.76 L167.90 430.76 L168.39 430.76 L168.87 430.76 L169.35 430.76 L169.83 430.76 L170.32 430.76 L170.80 430.76 L171.28 430.76 L171.76 430.76 L172.25 430.76 L172.73 430.76 L173.21 430.76 L173.66 430.76 L173.99 430.76 L174.31 430.76 L174.63 430.76 L174.95 430.76 L175.27 430.76 L175.59 430.76 L175.91 430.76 L176.24 430.76 L176.56 430.76 L176.88 430.76 L177.20 430.76 L177.52 430.76 L177.84 430.76 L178.17 430.76 L178.49 430.76 L178.81 430.76 L179.13 430.76 L179.45 430.76 L179.77 430.76 L180.10 430.76 L180.42 430.76 L180.74 430.76 L181.06 430.76 L181.38 430.76 L181.70 430.76 L182.03 430.76 L182.35 430.76 L182.67 430.76 L182.99 430.76 L183.31 430.76 L183.63 430.76 L183.95 430.76 L184.28 430.76 L184.60 430.76 L184.92 430.76 L185.24 430.76 L185.56 430.76 L185.88 430.76 L186.21 430.76 L186.53 430.76 L186.85 430.76 L187.17 430.76 L187.49 430.76 L187.81 430.76 L188.14 430.76 L188.46 430.76 L188.78 430.76 L189.10 430.76 L189.42 430.76 L189.74 430.76 L190.07 430.76 L190.39 430.76 L190.71 430.76 L191.03 430.76 L191.35 430.76 L191.67 430.76 L191.99 430.76 L192.31 430.76 L192.64 430.76 L192.96 430.76 L193.28 430.76 L193.60 430.76 L193.92 430.76 L194.24 430.76 L194.56 430.76 L194.89 430.76 L195.21 430.76 L195.53 430.76 L195.85 430.76 L196.17 430.76 L196.49 430.76 L196.82 430.76 L197.14 430.76 L197.46 430.76 L197.78 430.76 L198.10 430.76 L198.42 430.76 L198.75 430.76 L199.07 430.76 L199.39 430.76 L199.71 430.76 L200.03 430.76 L200.35 430.76 L200.68 430.76 L201.00 430.76 L201.32 430.76 L201.64 430.76 L201.96 430.76 L202.28 430.76 L202.60 430.76 L202.93 430.76 L203.25 430.76 L203.57 430.76 L203.89 430.76 L204.21 430.76 L204.53 430.76 L204.86 430.76 L205.18 430.76 L205.50 430.76 L205.82 430.76 L206.14 430.76 L206.46 430.76 L206.79 430.76 L207.11 430.76 L207.43 430.76 L207.75 430.76 L208.07 430.76 L208.39 430.76 L208.71 430.76 L209.04 430.76 L209.36 430.76 L209.68 430.76 L210.00 430.76 L210.32 430.76 L210.64 430.76 L210.97 430.76 L211.29 430.76 L211.61 430.76 L211.93 430.76 L212.25 430.76 L212.57 430.76 L212.90 430.76 L213.22 430.76 L213.54 430.76 L213.86 430.76 L214.18 430.76 L214.50 430.76 L214.82 430.76 L215.15 430.76 L215.47 430.76 L215.79 430.76 L216.11 430.76 L216.43 430.76 L216.75 430.76 L217.08 430.76 L217.40 430.76 L217.72 430.76 L218.04 430.76 L218.36 430.76 L218.68 430.76 L219.01 430.76 L219.33 430.76 L219.65 430.76 L219.97 430.76 L220.29 430.76 L220.61 430.76 L220.94 430.76 L221.26 430.76 L221.58 430.76 L221.90 430.76 L222.22 430.76 L222.54 430.76 L222.86 430.76 L223.19 430.76 L223.51 430.76 L223.83 430.76 L224.15 430.76 L224.47 430.76 L224.79 430.76 L225.12 430.76 L225.44 430.76 L225.76 430.76 L226.08 430.76 L226.40 430.76 L226.72 430.76 L227.05 430.76 L227.37 430.76 L227.69 430.76 L228.01 430.76 L228.33 430.76 L228.65 430.76 L228.98 430.76 L229.30 430.76 L229.62 430.76 L229.94 430.76 L230.26 430.76 L230.58 430.76 L230.90 430.76 L231.23 430.76 L231.55 430.76 L231.87 430.76 L232.19 430.76 L232.51 430.76 L232.83 430.76 L233.16 430.76 L233.48 430.76 L233.80 430.76 L234.12 430.76 L234.44 430.76 L234.76 430.76 L235.09 430.76 L235.41 430.76 L235.73 430.76 L236.05 430.76 L236.37 430.76 L236.69 430.76 L237.02 430.76 L237.34 430.76 L237.66 430.76 L237.98 430.76 L238.30 430.76 L238.62 430.76 L238.94 430.76 L239.27 430.76 L239.59 430.76 L239.91 430.76 L240.23 430.76 L240.77 430.76 L241.25 430.76 L241.74 430.76 L242.22 430.76 L242.70 430.76 L243.18 430.76 L243.67 430.76 L244.15 430.76 L244.63 430.76 L245.11 430.76 L245.60 430.76 L246.08 430.76 L246.56 430.76 L247.05 430.76 L247.53 430.76 L248.01 430.76 L248.49 430.76 L248.98 430.76 L249.46 430.76 L249.94 430.76 L250.42 430.76 L250.91 430.76 L251.39 430.76 L251.87 430.76 L252.35 430.76 L252.84 430.76 L253.32 430.76 L253.80 430.76 L254.28 430.76 L254.77 430.76 L255.25 430.76 L255.73 430.76 L256.21 430.76 L256.70 430.76 L257.18 430.76 L257.66 430.76 L258.14 430.76 L258.63 430.76 L259.11 430.76 L259.59 430.76 L260.07 430.76 L260.56 430.76 L261.04 430.76 L261.52 430.76 L262.00 430.76 L262.49 430.76 L262.97 430.76 L263.45 430.76 L263.93 430.76 L264.42 430.76 L264.90 430.76" fill="none" stroke="#1c1c1c" stroke-width="1.6" stroke-dasharray="5.6 2.3 1.2 2.3" stroke-dashoffset="0" stroke-linejoin="round"/>
<path d="M75.60 430.55 L75.76 430.24 L75.87 429.88 L75.97 429.32 L76.03 428.96 L76.08 428.53 L76.14 428.03 L76.19 427.44 L76.22 427.10 L76.24 426.77 L76.30 426.02 L76.35 425.17 L76.40 424.22 L76.46 423.18 L76.51 422.04 L76.56 420.80 L76.62 419.47 L76.67 418.04 L76.70 417.26 L76.72 416.53 L76.78 414.94 L76.83 413.27 L76.89 411.53 L76.94 409.72 L76.99 407.86 L77.05 405.94 L77.10 403.99 L77.15 402.00 L77.18 400.93 L77.21 399.98 L77.26 397.94 L77.31 395.88 L77.37 393.82 L77.42 391.76 L77.48 389.70 L77.53 387.66 L77.58 385.63 L77.64 383.63 L77.66 382.57 L77.69 381.66 L77.74 379.72 L77.80 377.83 L77.85 375.99 L77.90 374.21 L77.96 372.49 L78.01 370.84 L78.06 369.28 L78.12 367.80 L78.15 367.05 L78.17 366.43 L78.23 365.16 L78.28 364.00 L78.33 362.97 L78.39 362.07 L78.44 361.31 L78.49 360.69 L78.55 360.22 L78.60 359.91 L78.82 360.22 L78.87 360.69 L78.92 361.31 L78.98 362.07 L79.03 362.97 L79.08 364.00 L79.11 364.61 L79.14 365.16 L79.19 366.43 L79.24 367.80 L79.30 369.28 L79.35 370.84 L79.40 372.49 L79.46 374.21 L79.51 375.99 L79.57 377.83 L79.59 378.86 L79.62 379.72 L79.67 381.66 L79.73 383.63 L79.78 385.63 L79.83 387.66 L79.89 389.70 L79.94 391.76 L79.99 393.82 L80.05 395.88 L80.08 397.01 L80.10 397.94 L80.16 399.98 L80.21 402.00 L80.26 403.99 L80.32 405.94 L80.37 407.86 L80.42 409.72 L80.48 411.53 L80.53 413.27 L80.56 414.20 L80.58 414.94 L80.64 416.53 L80.69 418.04 L80.74 419.47 L80.80 420.80 L80.85 422.04 L80.91 423.18 L80.96 424.22 L81.01 425.17 L81.04 425.65 L81.07 426.02 L81.12 426.77 L81.17 427.44 L81.23 428.03 L81.28 428.53 L81.33 428.96 L81.39 429.32 L81.44 429.63 L81.53 429.99 L81.66 430.37" fill="none" stroke="#1c1c1c" stroke-width="1.2" stroke-dasharray="5.6 2.3 1.2 2.3" stroke-dashoffset="5.6" stroke-linejoin="round"/>
<path d="M186.63 430.74 L186.96 430.68 L187.28 430.49 L187.55 430.16 L187.71 429.85 L187.87 429.46 L187.97 429.15 L188.08 428.78 L188.17 428.44 L188.30 427.90 L188.40 427.35 L188.46 427.05 L188.51 426.73 L188.56 426.37 L188.62 426.00 L188.67 425.59 L188.73 425.14 L188.78 424.66 L188.83 424.14 L188.89 423.57 L188.94 422.95 L188.99 422.28 L189.05 421.55 L189.10 420.77 L189.14 420.20 L189.21 419.05 L189.26 418.12 L189.31 417.17 L189.37 416.21 L189.42 415.28 L189.48 414.40 L189.53 413.63 L189.58 413.00 L189.62 412.67 L189.69 412.32 L189.85 412.99 L189.90 413.62 L189.96 414.39 L190.01 415.26 L190.07 416.20 L190.10 416.86 L190.17 418.10 L190.23 419.03 L190.28 419.91 L190.33 420.75 L190.39 421.53 L190.44 422.25 L190.49 422.92 L190.55 423.54 L190.58 423.94 L190.65 424.63 L190.71 425.11 L190.76 425.55 L190.82 425.96 L190.87 426.34 L190.92 426.69 L190.98 427.01 L191.03 427.31 L191.14 427.86 L191.24 428.33 L191.35 428.74 L191.46 429.10 L191.56 429.41 L191.72 429.81 L191.88 430.12 L192.15 430.47 L192.47 430.68 L192.80 430.74" fill="none" stroke="#1c1c1c" stroke-width="1.2" stroke-dasharray="5.6 2.3 1.2 2.3" stroke-dashoffset="5.6" stroke-linejoin="round"/>
<path d="M204.53 430.70 L204.86 430.40 L205.02 430.03 L205.12 429.64 L205.23 429.11 L205.28 428.79 L205.34 428.42 L205.39 428.00 L205.45 427.52 L205.50 427.00 L205.54 426.51 L205.61 425.77 L205.66 425.07 L205.71 424.29 L205.77 423.45 L205.82 422.54 L205.87 421.55 L205.93 420.48 L205.98 419.32 L206.03 418.27 L206.09 416.73 L206.14 415.27 L206.20 413.70 L206.25 411.99 L206.30 410.14 L206.36 408.13 L206.41 405.94 L206.46 403.55 L206.51 401.34 L206.52 400.93 L206.57 398.04 L206.62 394.86 L206.68 391.34 L206.73 387.43 L206.79 383.08 L206.84 378.23 L206.89 372.80 L206.95 366.73 L206.99 361.00 L207.00 359.95 L207.05 352.39 L207.11 343.99 L207.16 334.74 L207.21 324.68 L207.27 313.90 L207.32 302.66 L207.38 291.33 L207.43 280.47 L207.47 272.09 L207.48 270.79 L207.54 263.08 L207.59 258.10 L207.64 256.38 L207.70 258.13 L207.75 263.13 L207.80 270.86 L207.86 280.55 L207.91 291.42 L207.96 301.13 L207.96 302.75 L208.02 313.99 L208.07 324.76 L208.13 334.83 L208.18 343.89 L208.23 352.29 L208.29 359.86 L208.34 366.66 L208.39 372.73 L208.44 377.55 L208.45 378.16 L208.50 383.03 L208.55 387.38 L208.61 391.30 L208.66 394.82 L208.71 398.01 L208.77 400.90 L208.82 403.52 L208.88 405.92 L208.92 407.87 L208.98 410.12 L209.04 411.97 L209.09 413.68 L209.14 415.25 L209.20 416.71 L209.25 418.06 L209.30 419.31 L209.36 420.47 L209.41 421.43 L209.46 422.53 L209.52 423.45 L209.57 424.29 L209.63 425.06 L209.68 425.77 L209.73 426.41 L209.79 426.99 L209.84 427.52 L209.89 427.94 L209.95 428.41 L210.00 428.78 L210.05 429.11 L210.16 429.64 L210.27 430.03 L210.43 430.40 L210.75 430.70" fill="none" stroke="#1c1c1c" stroke-width="1.2" stroke-dasharray="5.6 2.3 1.2 2.3" stroke-dashoffset="5.6" stroke-linejoin="round"/>
<path d="M221.36 430.75 L221.69 430.73 L222.01 430.65 L222.33 430.49 L222.65 430.22 L222.92 429.91 L223.13 429.58 L223.29 429.27 L223.45 428.90 L223.56 428.59 L223.67 428.23 L223.78 427.81 L223.88 427.32 L223.99 426.75 L224.04 426.44 L224.10 426.13 L224.15 425.82 L224.20 425.51 L224.31 424.97 L224.42 424.62 L224.69 424.98 L224.79 425.53 L224.85 425.83 L224.90 426.15 L224.96 426.47 L225.01 426.77 L225.12 427.34 L225.22 427.84 L225.33 428.27 L225.44 428.63 L225.54 428.94 L225.71 429.32 L225.87 429.63 L226.08 429.96 L226.35 430.27 L226.67 430.52 L226.99 430.67 L227.31 430.73" fill="none" stroke="#1c1c1c" stroke-width="1.2" stroke-dasharray="5.6 2.3 1.2 2.3" stroke-dashoffset="5.6" stroke-linejoin="round"/>
<path d="M24.10 431.44 L24.58 431.44 L25.07 431.44 L25.55 431.44 L26.03 431.44 L26.51 431.44 L27.00 431.44 L27.48 431.43 L27.96 431.43 L28.44 431.43 L28.93 431.43 L29.41 431.43 L29.89 431.43 L30.37 431.43 L30.86 431.42 L31.34 431.42 L31.82 431.42 L32.30 431.42 L32.79 431.42 L33.27 431.41 L33.75 431.41 L34.23 431.41 L34.72 431.41 L35.20 431.41 L35.68 431.40 L36.16 431.40 L36.65 431.40 L37.13 431.40 L37.61 431.39 L38.09 431.39 L38.58 431.39 L39.06 431.39 L39.54 431.38 L40.02 431.38 L40.51 431.38 L40.99 431.37 L41.47 431.37 L41.95 431.37 L42.44 431.36 L42.92 431.36 L43.40 431.35 L43.89 431.35 L44.37 431.35 L44.85 431.34 L45.33 431.34 L45.82 431.33 L46.30 431.33 L46.78 431.32 L47.26 431.32 L47.75 431.31 L48.23 431.30 L48.71 431.30 L49.19 431.29 L49.68 431.28 L50.16 431.27 L50.64 431.27 L51.12 431.26 L51.61 431.25 L52.09 431.24 L52.57 431.23 L53.05 431.22 L53.54 431.21 L54.02 431.20 L54.50 431.18 L54.98 431.17 L55.47 431.16 L55.95 431.14 L56.43 431.13 L56.91 431.11 L57.40 431.09 L57.88 431.07 L58.36 431.05 L58.84 431.03 L59.33 431.01 L59.81 430.98 L60.29 430.95 L60.77 430.92 L61.26 430.89 L61.74 430.85 L62.22 430.82 L62.63 430.78 L62.95 430.75 L63.27 430.72 L63.59 430.69 L63.91 430.65 L64.24 430.61 L64.56 430.57 L64.88 430.53 L65.20 430.48 L65.52 430.43 L65.84 430.38 L66.17 430.32 L66.49 430.26 L66.81 430.19 L67.13 430.12 L67.45 430.04 L67.77 429.95 L68.10 429.86 L68.42 429.76 L68.74 429.65 L69.06 429.52 L69.38 429.39 L69.70 429.24 L70.02 429.07 L70.35 428.89 L70.67 428.68 L70.99 428.45 L71.31 428.19 L71.63 427.90 L71.95 427.56 L72.22 427.25 L72.49 426.89 L72.70 426.58 L72.92 426.23 L73.13 425.85 L73.29 425.54 L73.46 425.20 L73.62 424.83 L73.78 424.42 L73.94 423.99 L74.04 423.67 L74.15 423.34 L74.26 422.98 L74.37 422.61 L74.47 422.21 L74.58 421.78 L74.69 421.32 L74.77 420.96 L74.85 420.58 L74.96 420.04 L75.06 419.47 L75.12 419.16 L75.17 418.85 L75.22 418.53 L75.28 418.19 L75.33 417.84 L75.38 417.48 L75.44 417.10 L75.49 416.71 L75.55 416.31 L75.60 415.89 L75.65 415.45 L75.71 415.00 L75.76 414.53 L75.81 414.04 L75.87 413.54 L75.92 413.01 L75.97 412.46 L76.03 411.89 L76.08 411.30 L76.14 410.69 L76.19 410.05 L76.22 409.70 L76.24 409.38 L76.30 408.69 L76.35 407.97 L76.40 407.22 L76.46 406.44 L76.51 405.63 L76.56 404.79 L76.62 403.92 L76.67 403.01 L76.70 402.51 L76.72 402.06 L76.78 401.08 L76.83 400.06 L76.89 399.00 L76.94 397.90 L76.99 396.76 L77.05 395.58 L77.10 394.36 L77.15 393.10 L77.18 392.42 L77.21 391.80 L77.26 390.46 L77.31 389.08 L77.37 387.67 L77.42 386.21 L77.48 384.73 L77.53 383.21 L77.58 381.67 L77.64 380.11 L77.66 379.27 L77.69 378.54 L77.74 376.95 L77.80 375.37 L77.85 373.79 L77.90 372.22 L77.96 370.69 L78.01 369.18 L78.06 367.73 L78.12 366.34 L78.15 365.62 L78.17 365.02 L78.23 363.78 L78.28 362.65 L78.33 361.62 L78.39 360.72 L78.44 359.94 L78.49 359.31 L78.55 358.84 L78.60 358.51 L78.82 358.84 L78.87 359.31 L78.92 359.94 L78.98 360.72 L79.03 361.62 L79.08 362.65 L79.11 363.25 L79.14 363.78 L79.19 365.02 L79.24 366.34 L79.30 367.73 L79.35 369.18 L79.40 370.69 L79.46 372.22 L79.51 373.79 L79.57 375.37 L79.59 376.23 L79.62 376.95 L79.67 378.54 L79.73 380.11 L79.78 381.67 L79.83 383.21 L79.89 384.73 L79.94 386.21 L79.99 387.66 L80.05 389.08 L80.08 389.84 L80.10 390.46 L80.16 391.80 L80.21 393.10 L80.26 394.36 L80.32 395.58 L80.37 396.76 L80.42 397.90 L80.48 399.00 L80.53 400.06 L80.56 400.62 L80.58 401.08 L80.64 402.06 L80.69 403.01 L80.74 403.92 L80.80 404.79 L80.85 405.63 L80.91 406.44 L80.96 407.22 L81.01 407.97 L81.04 408.37 L81.07 408.69 L81.12 409.38 L81.17 410.05 L81.23 410.69 L81.28 411.30 L81.33 411.89 L81.39 412.46 L81.44 413.01 L81.50 413.54 L81.55 414.04 L81.60 414.53 L81.66 415.00 L81.71 415.45 L81.76 415.89 L81.82 416.31 L81.87 416.71 L81.92 417.10 L81.98 417.48 L82.03 417.84 L82.08 418.19 L82.14 418.53 L82.19 418.85 L82.25 419.16 L82.30 419.47 L82.41 420.04 L82.49 420.47 L82.57 420.84 L82.67 421.32 L82.78 421.78 L82.89 422.21 L82.97 422.52 L83.10 422.98 L83.21 423.34 L83.32 423.67 L83.42 423.98 L83.59 424.42 L83.75 424.82 L83.91 425.19 L84.07 425.54 L84.23 425.85 L84.42 426.19 L84.60 426.50 L84.82 426.82 L85.09 427.18 L85.35 427.50 L85.68 427.84 L86.00 428.14 L86.32 428.41 L86.64 428.64 L86.96 428.85 L87.28 429.04 L87.61 429.21 L87.93 429.36 L88.25 429.50 L88.57 429.62 L88.89 429.74 L89.21 429.84 L89.54 429.94 L89.86 430.02 L90.18 430.10 L90.50 430.18 L90.82 430.25 L91.14 430.31 L91.47 430.37 L91.79 430.42 L92.11 430.47 L92.43 430.52 L92.75 430.56 L93.07 430.60 L93.39 430.64 L93.72 430.68 L94.04 430.71 L94.36 430.74 L94.68 430.77 L95.04 430.80 L95.52 430.84 L96.00 430.88 L96.48 430.91 L96.97 430.94 L97.45 430.97 L97.93 431.00 L98.42 431.02 L98.90 431.04 L99.38 431.07 L99.86 431.08 L100.35 431.10 L100.83 431.12 L101.31 431.14 L101.79 431.15 L102.28 431.17 L102.76 431.18 L103.24 431.19 L103.72 431.20 L104.21 431.21 L104.69 431.22 L105.17 431.23 L105.65 431.24 L106.14 431.25 L106.62 431.26 L107.10 431.27 L107.58 431.28 L108.07 431.28 L108.55 431.29 L109.03 431.30 L109.51 431.30 L110.00 431.31 L110.48 431.32 L110.96 431.32 L111.44 431.33 L111.93 431.33 L112.41 431.34 L112.89 431.34 L113.37 431.34 L113.86 431.35 L114.34 431.35 L114.82 431.36 L115.30 431.36 L115.79 431.36 L116.27 431.37 L116.75 431.37 L117.24 431.37 L117.72 431.38 L118.20 431.38 L118.68 431.38 L119.17 431.38 L119.65 431.39 L120.13 431.39 L120.61 431.39 L121.10 431.39 L121.58 431.40 L122.06 431.40 L122.54 431.40 L123.03 431.40 L123.51 431.40 L123.99 431.41 L124.47 431.41 L124.96 431.41 L125.44 431.41 L125.92 431.41 L126.40 431.42 L126.89 431.42 L127.37 431.42 L127.85 431.42 L128.33 431.42 L128.82 431.42 L129.30 431.42 L129.78 431.42 L130.26 431.43 L130.75 431.43 L131.23 431.43 L131.71 431.43 L132.19 431.43 L132.68 431.43 L133.16 431.43 L133.64 431.43 L134.12 431.43 L134.61 431.43 L135.09 431.44 L135.57 431.44 L136.06 431.44 L136.54 431.44 L137.02 431.44 L137.50 431.44 L137.99 431.44 L138.47 431.44 L138.95 431.44 L139.43 431.44 L139.92 431.44 L140.40 431.44 L140.88 431.44 L141.36 431.44 L141.85 431.44 L142.33 431.44 L142.81 431.44 L143.29 431.45 L143.78 431.45 L144.26 431.45 L144.74 431.45 L145.22 431.45 L145.71 431.45 L146.19 431.45 L146.67 431.45 L147.15 431.45 L147.64 431.45 L148.12 431.45 L148.60 431.45 L149.08 431.45 L149.57 431.45 L150.05 431.45 L150.53 431.45 L151.01 431.45 L151.50 431.45 L151.98 431.45 L152.46 431.45 L152.94 431.45 L153.43 431.45 L153.91 431.45 L154.39 431.45 L154.88 431.44 L155.36 431.44 L155.84 431.44 L156.32 431.44 L156.81 431.44 L157.29 431.44 L157.77 431.44 L158.25 431.44 L158.74 431.44 L159.22 431.44 L159.70 431.43 L160.18 431.43 L160.67 431.43 L161.15 431.43 L161.63 431.42 L162.11 431.42 L162.60 431.41 L163.08 431.41 L163.56 431.40 L164.04 431.38 L164.53 431.37 L165.01 431.34 L165.49 431.30 L165.97 431.24 L166.46 431.11 L166.94 430.86 L167.42 430.28 L167.90 429.37 L168.39 429.73 L168.87 430.58 L169.35 430.98 L169.83 431.16 L170.32 431.25 L170.80 431.30 L171.28 431.33 L171.76 431.35 L172.25 431.36 L172.73 431.37 L173.21 431.38 L173.66 431.38 L173.99 431.38 L174.31 431.38 L174.63 431.38 L174.95 431.38 L175.27 431.38 L175.59 431.38 L175.91 431.38 L176.24 431.38 L176.56 431.37 L176.88 431.37 L177.20 431.37 L177.52 431.36 L177.84 431.36 L178.17 431.36 L178.49 431.35 L178.81 431.35 L179.13 431.34 L179.45 431.34 L179.77 431.33 L180.10 431.32 L180.42 431.32 L180.74 431.31 L181.06 431.30 L181.38 431.29 L181.70 431.28 L182.03 431.27 L182.35 431.25 L182.67 431.23 L182.99 431.22 L183.31 431.20 L183.63 431.17 L183.95 431.14 L184.28 431.11 L184.60 431.07 L184.92 431.03 L185.24 430.97 L185.56 430.90 L185.88 430.82 L186.21 430.71 L186.53 430.58 L186.85 430.39 L187.17 430.14 L187.49 429.79 L187.71 429.47 L187.87 429.17 L188.03 428.79 L188.14 428.48 L188.24 428.12 L188.35 427.69 L188.46 427.19 L188.56 426.58 L188.62 426.23 L188.67 425.85 L188.73 425.42 L188.78 424.96 L188.83 424.45 L188.89 423.90 L188.94 423.29 L188.99 422.62 L189.05 421.89 L189.10 421.10 L189.14 420.52 L189.21 419.35 L189.26 418.40 L189.31 417.42 L189.37 416.44 L189.42 415.48 L189.48 414.58 L189.53 413.78 L189.58 413.13 L189.62 412.78 L189.69 412.42 L189.85 413.12 L189.90 413.77 L189.96 414.57 L190.01 415.47 L190.07 416.43 L190.10 417.11 L190.12 417.41 L190.17 418.39 L190.23 419.33 L190.28 420.23 L190.33 421.08 L190.39 421.87 L190.44 422.59 L190.49 423.26 L190.55 423.87 L190.58 424.26 L190.65 424.93 L190.71 425.39 L190.76 425.81 L190.82 426.19 L190.87 426.54 L190.92 426.85 L191.03 427.40 L191.14 427.87 L191.24 428.25 L191.35 428.58 L191.51 428.98 L191.67 429.30 L191.88 429.64 L192.15 429.95 L192.47 430.22 L192.80 430.41 L193.12 430.54 L193.44 430.65 L193.76 430.72 L194.08 430.78 L194.40 430.82 L194.73 430.86 L195.05 430.88 L195.37 430.89 L195.69 430.90 L196.01 430.91 L196.33 430.90 L196.66 430.90 L196.98 430.89 L197.30 430.87 L197.62 430.85 L197.94 430.83 L198.26 430.80 L198.58 430.77 L198.91 430.73 L199.23 430.69 L199.55 430.63 L199.87 430.58 L200.19 430.51 L200.51 430.43 L200.84 430.34 L201.16 430.23 L201.48 430.11 L201.80 429.96 L202.12 429.79 L202.44 429.59 L202.77 429.34 L203.09 429.04 L203.36 428.74 L203.61 428.39 L203.84 428.02 L204.00 427.72 L204.16 427.38 L204.32 426.99 L204.43 426.69 L204.53 426.37 L204.64 426.01 L204.75 425.62 L204.86 425.18 L204.96 424.68 L205.06 424.18 L205.12 423.83 L205.18 423.51 L205.23 423.17 L205.28 422.81 L205.34 422.43 L205.39 422.01 L205.45 421.57 L205.50 421.10 L205.54 420.68 L205.61 420.06 L205.66 419.48 L205.71 418.85 L205.77 418.17 L205.82 417.44 L205.87 416.65 L205.93 415.80 L205.98 414.87 L206.03 414.02 L206.09 412.75 L206.14 411.55 L206.20 410.22 L206.25 408.77 L206.30 407.18 L206.36 405.42 L206.41 403.47 L206.46 401.31 L206.51 399.29 L206.52 398.91 L206.57 396.24 L206.62 393.26 L206.68 389.93 L206.73 386.19 L206.79 381.98 L206.84 377.26 L206.89 371.94 L206.95 365.96 L206.99 360.29 L207.00 359.24 L207.05 351.72 L207.11 343.33 L207.16 334.06 L207.21 323.94 L207.27 313.10 L207.32 301.76 L207.38 290.32 L207.43 279.35 L207.47 270.87 L207.48 269.56 L207.54 261.76 L207.59 256.72 L207.64 254.98 L207.70 256.75 L207.75 261.81 L207.80 269.63 L207.86 279.43 L207.91 290.42 L207.96 300.22 L207.96 301.86 L208.02 313.19 L208.07 324.03 L208.13 334.14 L208.18 343.22 L208.23 351.62 L208.29 359.16 L208.34 365.89 L208.39 371.88 L208.44 376.60 L208.45 377.20 L208.50 381.93 L208.55 386.14 L208.61 389.89 L208.66 393.23 L208.71 396.21 L208.77 398.89 L208.82 401.29 L208.88 403.45 L208.92 405.18 L208.98 407.16 L209.04 408.76 L209.09 410.21 L209.14 411.54 L209.20 412.74 L209.25 413.85 L209.30 414.86 L209.36 415.79 L209.41 416.56 L209.46 417.44 L209.52 418.17 L209.57 418.85 L209.63 419.48 L209.68 420.06 L209.73 420.60 L209.79 421.11 L209.84 421.58 L209.89 421.97 L209.95 422.43 L210.00 422.82 L210.05 423.18 L210.11 423.52 L210.16 423.84 L210.22 424.14 L210.32 424.69 L210.43 425.19 L210.54 425.63 L210.64 426.02 L210.75 426.38 L210.85 426.69 L210.97 427.00 L211.13 427.39 L211.29 427.74 L211.45 428.04 L211.66 428.39 L211.93 428.75 L212.20 429.06 L212.52 429.36 L212.84 429.61 L213.16 429.82 L213.48 429.99 L213.81 430.14 L214.13 430.26 L214.45 430.37 L214.77 430.46 L215.09 430.55 L215.41 430.62 L215.74 430.68 L216.06 430.73 L216.38 430.78 L216.70 430.83 L217.02 430.86 L217.34 430.90 L217.67 430.92 L217.99 430.95 L218.31 430.97 L218.63 430.99 L218.95 431.00 L219.27 431.01 L219.60 431.02 L219.92 431.02 L220.24 431.02 L220.56 431.01 L220.88 430.99 L221.20 430.96 L221.52 430.92 L221.85 430.85 L222.17 430.76 L222.49 430.62 L222.81 430.40 L223.13 430.03 L223.35 429.66 L223.51 429.27 L223.62 428.94 L223.72 428.55 L223.83 428.07 L223.94 427.52 L223.99 427.21 L224.04 426.89 L224.10 426.56 L224.15 426.23 L224.20 425.90 L224.26 425.59 L224.36 425.11 L224.69 425.33 L224.79 425.92 L224.85 426.24 L224.90 426.58 L224.96 426.92 L225.01 427.24 L225.06 427.55 L225.17 428.11 L225.28 428.58 L225.38 428.98 L225.49 429.32 L225.65 429.71 L225.87 430.09 L226.13 430.42 L226.46 430.68 L226.78 430.84 L227.10 430.96 L227.42 431.04 L227.74 431.11 L228.06 431.15 L228.39 431.19 L228.71 431.22 L229.03 431.25 L229.35 431.27 L229.67 431.28 L229.99 431.30 L230.32 431.31 L230.64 431.32 L230.96 431.33 L231.28 431.34 L231.60 431.35 L231.92 431.36 L232.24 431.36 L232.57 431.37 L232.89 431.38 L233.21 431.38 L233.53 431.39 L233.85 431.39 L234.17 431.39 L234.50 431.40 L234.82 431.40 L235.14 431.40 L235.46 431.41 L235.78 431.41 L236.10 431.41 L236.43 431.42 L236.75 431.42 L237.07 431.42 L237.39 431.42 L237.71 431.42 L238.03 431.43 L238.36 431.43 L238.68 431.43 L239.00 431.43 L239.32 431.43 L239.64 431.44 L239.96 431.44 L240.28 431.44 L240.77 431.44 L241.25 431.44 L241.74 431.44 L242.22 431.45 L242.70 431.45 L243.18 431.45 L243.67 431.45 L244.15 431.45 L244.63 431.45 L245.11 431.46 L245.60 431.46 L246.08 431.46 L246.56 431.46 L247.05 431.46 L247.53 431.46 L248.01 431.46 L248.49 431.46 L248.98 431.46 L249.46 431.47 L249.94 431.47 L250.42 431.47 L250.91 431.47 L251.39 431.47 L251.87 431.47 L252.35 431.47 L252.84 431.47 L253.32 431.47 L253.80 431.47 L254.28 431.47 L254.77 431.47 L255.25 431.47 L255.73 431.48 L256.21 431.48 L256.70 431.48 L257.18 431.48 L257.66 431.48 L258.14 431.48 L258.63 431.48 L259.11 431.48 L259.59 431.48 L260.07 431.48 L260.56 431.48 L261.04 431.48 L261.52 431.48 L262.00 431.48 L262.49 431.48 L262.97 431.48 L263.45 431.48 L263.93 431.48 L264.42 431.48 L264.90 431.48" fill="none" stroke="#24997a" stroke-width="1.55" stroke-dasharray="5.6 2.3 1.2 2.3" stroke-dashoffset="0" stroke-linejoin="round"/>
<path d="M24.10 431.62 L24.58 431.62 L25.07 431.62 L25.55 431.62 L26.03 431.62 L26.51 431.61 L27.00 431.61 L27.48 431.61 L27.96 431.61 L28.44 431.60 L28.93 431.60 L29.41 431.60 L29.89 431.59 L30.37 431.59 L30.86 431.59 L31.34 431.59 L31.82 431.58 L32.30 431.58 L32.79 431.58 L33.27 431.57 L33.75 431.57 L34.23 431.57 L34.72 431.56 L35.20 431.56 L35.68 431.55 L36.16 431.55 L36.65 431.55 L37.13 431.54 L37.61 431.54 L38.09 431.53 L38.58 431.53 L39.06 431.52 L39.54 431.52 L40.02 431.51 L40.51 431.51 L40.99 431.50 L41.47 431.50 L41.95 431.49 L42.44 431.48 L42.92 431.48 L43.40 431.47 L43.89 431.46 L44.37 431.46 L44.85 431.45 L45.33 431.44 L45.82 431.43 L46.30 431.43 L46.78 431.42 L47.26 431.41 L47.75 431.40 L48.23 431.39 L48.71 431.38 L49.19 431.37 L49.68 431.36 L50.16 431.34 L50.64 431.33 L51.12 431.32 L51.61 431.30 L52.09 431.29 L52.57 431.27 L53.05 431.26 L53.54 431.24 L54.02 431.22 L54.50 431.20 L54.98 431.18 L55.47 431.16 L55.95 431.14 L56.43 431.11 L56.91 431.09 L57.40 431.06 L57.88 431.03 L58.36 431.00 L58.84 430.96 L59.33 430.93 L59.81 430.89 L60.29 430.84 L60.77 430.80 L61.26 430.75 L61.74 430.70 L62.22 430.64 L62.63 430.58 L62.95 430.54 L63.27 430.49 L63.59 430.44 L63.91 430.39 L64.24 430.33 L64.56 430.27 L64.88 430.20 L65.20 430.13 L65.52 430.06 L65.84 429.98 L66.17 429.89 L66.49 429.80 L66.81 429.70 L67.13 429.59 L67.45 429.48 L67.77 429.35 L68.10 429.21 L68.42 429.06 L68.74 428.90 L69.06 428.72 L69.38 428.52 L69.70 428.30 L70.02 428.07 L70.35 427.80 L70.67 427.51 L70.99 427.18 L71.26 426.88 L71.53 426.54 L71.79 426.18 L72.01 425.85 L72.22 425.50 L72.44 425.12 L72.60 424.81 L72.76 424.49 L72.92 424.13 L73.08 423.76 L73.24 423.35 L73.40 422.92 L73.51 422.61 L73.62 422.29 L73.72 421.95 L73.83 421.59 L73.94 421.22 L74.04 420.82 L74.15 420.41 L74.26 419.97 L74.37 419.51 L74.47 419.02 L74.58 418.51 L74.69 417.97 L74.77 417.54 L74.85 417.10 L74.90 416.79 L74.96 416.48 L75.01 416.16 L75.06 415.83 L75.12 415.48 L75.17 415.13 L75.22 414.77 L75.28 414.40 L75.33 414.02 L75.38 413.63 L75.44 413.22 L75.49 412.81 L75.55 412.38 L75.60 411.95 L75.65 411.50 L75.71 411.03 L75.76 410.56 L75.81 410.07 L75.87 409.56 L75.92 409.05 L75.97 408.52 L76.03 407.97 L76.08 407.41 L76.14 406.84 L76.19 406.25 L76.22 405.93 L76.30 405.03 L76.35 404.39 L76.40 403.74 L76.46 403.07 L76.51 402.39 L76.56 401.70 L76.62 400.98 L76.67 400.26 L76.70 399.87 L76.72 399.51 L76.78 398.76 L76.83 397.99 L76.89 397.20 L76.94 396.41 L76.99 395.60 L77.05 394.78 L77.10 393.95 L77.15 393.11 L77.18 392.66 L77.21 392.27 L77.26 391.42 L77.31 390.56 L77.37 389.71 L77.42 388.85 L77.48 388.00 L77.53 387.15 L77.58 386.30 L77.64 385.47 L77.66 385.03 L77.69 384.65 L77.74 383.85 L77.80 383.06 L77.85 382.30 L77.90 381.56 L77.96 380.86 L78.01 380.18 L78.06 379.54 L78.12 378.94 L78.15 378.64 L78.23 377.87 L78.28 377.41 L78.33 377.00 L78.39 376.64 L78.44 376.33 L78.55 375.91 L78.87 376.09 L78.98 376.64 L79.03 377.00 L79.08 377.41 L79.14 377.87 L79.19 378.38 L79.24 378.94 L79.30 379.54 L79.35 380.18 L79.40 380.86 L79.46 381.56 L79.51 382.30 L79.57 383.06 L79.59 383.49 L79.62 383.85 L79.67 384.65 L79.73 385.47 L79.78 386.30 L79.83 387.14 L79.89 387.99 L79.94 388.85 L79.99 389.70 L80.05 390.56 L80.08 391.03 L80.10 391.41 L80.16 392.26 L80.21 393.11 L80.26 393.95 L80.32 394.77 L80.37 395.59 L80.42 396.40 L80.48 397.20 L80.53 397.98 L80.56 398.41 L80.58 398.75 L80.64 399.51 L80.69 400.25 L80.74 400.98 L80.80 401.69 L80.85 402.39 L80.91 403.07 L80.96 403.74 L81.01 404.39 L81.04 404.74 L81.12 405.64 L81.17 406.24 L81.23 406.83 L81.28 407.41 L81.33 407.97 L81.39 408.51 L81.44 409.04 L81.50 409.56 L81.55 410.06 L81.60 410.55 L81.66 411.03 L81.71 411.49 L81.76 411.94 L81.82 412.38 L81.87 412.80 L81.92 413.22 L81.98 413.62 L82.03 414.01 L82.08 414.40 L82.14 414.77 L82.19 415.13 L82.25 415.48 L82.30 415.82 L82.35 416.15 L82.41 416.47 L82.46 416.79 L82.51 417.09 L82.62 417.68 L82.73 418.24 L82.84 418.76 L82.94 419.26 L83.05 419.73 L83.16 420.18 L83.26 420.61 L83.37 421.01 L83.46 421.32 L83.59 421.76 L83.69 422.11 L83.80 422.44 L83.91 422.76 L84.07 423.20 L84.23 423.61 L84.39 424.00 L84.55 424.36 L84.71 424.70 L84.87 425.01 L85.09 425.40 L85.30 425.76 L85.52 426.08 L85.73 426.39 L86.00 426.73 L86.27 427.05 L86.59 427.39 L86.91 427.69 L87.23 427.96 L87.55 428.21 L87.87 428.43 L88.20 428.64 L88.52 428.82 L88.84 428.99 L89.16 429.14 L89.48 429.28 L89.80 429.41 L90.13 429.53 L90.45 429.64 L90.77 429.74 L91.09 429.84 L91.41 429.93 L91.73 430.01 L92.05 430.08 L92.38 430.15 L92.70 430.22 L93.02 430.28 L93.34 430.34 L93.66 430.39 L93.98 430.45 L94.31 430.49 L94.63 430.54 L95.04 430.59 L95.52 430.65 L96.00 430.70 L96.48 430.75 L96.97 430.80 L97.45 430.84 L97.93 430.88 L98.42 430.92 L98.90 430.95 L99.38 430.98 L99.86 431.01 L100.35 431.04 L100.83 431.06 L101.31 431.09 L101.79 431.11 L102.28 431.13 L102.76 431.15 L103.24 431.17 L103.72 431.19 L104.21 431.20 L104.69 431.22 L105.17 431.23 L105.65 431.25 L106.14 431.26 L106.62 431.27 L107.10 431.29 L107.58 431.30 L108.07 431.31 L108.55 431.32 L109.03 431.33 L109.51 431.34 L110.00 431.34 L110.48 431.35 L110.96 431.36 L111.44 431.37 L111.93 431.38 L112.41 431.38 L112.89 431.39 L113.37 431.40 L113.86 431.40 L114.34 431.41 L114.82 431.41 L115.30 431.42 L115.79 431.42 L116.27 431.43 L116.75 431.43 L117.24 431.44 L117.72 431.44 L118.20 431.44 L118.68 431.45 L119.17 431.45 L119.65 431.46 L120.13 431.46 L120.61 431.46 L121.10 431.47 L121.58 431.47 L122.06 431.47 L122.54 431.47 L123.03 431.48 L123.51 431.48 L123.99 431.48 L124.47 431.48 L124.96 431.49 L125.44 431.49 L125.92 431.49 L126.40 431.49 L126.89 431.49 L127.37 431.50 L127.85 431.50 L128.33 431.50 L128.82 431.50 L129.30 431.50 L129.78 431.51 L130.26 431.51 L130.75 431.51 L131.23 431.51 L131.71 431.51 L132.19 431.51 L132.68 431.51 L133.16 431.51 L133.64 431.52 L134.12 431.52 L134.61 431.52 L135.09 431.52 L135.57 431.52 L136.06 431.52 L136.54 431.52 L137.02 431.52 L137.50 431.52 L137.99 431.52 L138.47 431.52 L138.95 431.52 L139.43 431.52 L139.92 431.52 L140.40 431.53 L140.88 431.53 L141.36 431.53 L141.85 431.53 L142.33 431.53 L142.81 431.53 L143.29 431.53 L143.78 431.53 L144.26 431.53 L144.74 431.53 L145.22 431.53 L145.71 431.53 L146.19 431.53 L146.67 431.53 L147.15 431.53 L147.64 431.53 L148.12 431.53 L148.60 431.53 L149.08 431.53 L149.57 431.53 L150.05 431.53 L150.53 431.53 L151.01 431.53 L151.50 431.53 L151.98 431.53 L152.46 431.53 L152.94 431.53 L153.43 431.53 L153.91 431.53 L154.39 431.53 L154.88 431.53 L155.36 431.53 L155.84 431.53 L156.32 431.52 L156.81 431.52 L157.29 431.52 L157.77 431.52 L158.25 431.52 L158.74 431.52 L159.22 431.52 L159.70 431.52 L160.18 431.52 L160.67 431.52 L161.15 431.52 L161.63 431.52 L162.11 431.52 L162.60 431.52 L163.08 431.51 L163.56 431.51 L164.04 431.51 L164.53 431.51 L165.01 431.51 L165.49 431.51 L165.97 431.51 L166.46 431.51 L166.94 431.50 L167.42 431.50 L167.90 431.50 L168.39 431.50 L168.87 431.50 L169.35 431.49 L169.83 431.49 L170.32 431.49 L170.80 431.49 L171.28 431.49 L171.76 431.48 L172.25 431.48 L172.73 431.48 L173.21 431.47 L173.66 431.47 L173.99 431.47 L174.31 431.47 L174.63 431.46 L174.95 431.46 L175.27 431.46 L175.59 431.46 L175.91 431.45 L176.24 431.45 L176.56 431.45 L176.88 431.44 L177.20 431.44 L177.52 431.44 L177.84 431.43 L178.17 431.43 L178.49 431.42 L178.81 431.42 L179.13 431.41 L179.45 431.41 L179.77 431.40 L180.10 431.39 L180.42 431.39 L180.74 431.38 L181.06 431.37 L181.38 431.36 L181.70 431.35 L182.03 431.34 L182.35 431.33 L182.67 431.31 L182.99 431.30 L183.31 431.28 L183.63 431.26 L183.95 431.24 L184.28 431.21 L184.60 431.18 L184.92 431.14 L185.24 431.10 L185.56 431.05 L185.88 430.98 L186.21 430.90 L186.53 430.80 L186.85 430.67 L187.17 430.49 L187.49 430.25 L187.81 429.91 L188.03 429.60 L188.24 429.20 L188.40 428.83 L188.56 428.37 L188.65 428.07 L188.78 427.60 L188.89 427.14 L188.99 426.64 L189.10 426.09 L189.21 425.53 L189.31 424.98 L189.42 424.49 L189.53 424.10 L189.85 423.95 L189.96 424.27 L190.07 424.71 L190.17 425.23 L190.28 425.79 L190.39 426.34 L190.49 426.85 L190.58 427.26 L190.71 427.76 L190.82 428.14 L190.92 428.47 L191.07 428.85 L191.24 429.24 L191.46 429.59 L191.72 429.93 L192.03 430.21 L192.37 430.42 L192.69 430.56 L193.00 430.66 L193.33 430.74 L193.65 430.79 L193.96 430.83 L194.30 430.86 L194.62 430.88 L194.93 430.89 L195.26 430.89 L195.58 430.89 L195.89 430.88 L196.23 430.87 L196.55 430.85 L196.86 430.83 L197.19 430.80 L197.51 430.77 L197.82 430.73 L198.16 430.69 L198.48 430.64 L198.79 430.59 L199.12 430.53 L199.44 430.46 L199.75 430.38 L200.09 430.29 L200.41 430.18 L200.72 430.07 L201.05 429.93 L201.37 429.77 L201.68 429.58 L202.02 429.36 L202.34 429.10 L202.65 428.80 L202.93 428.48 L203.19 428.12 L203.41 427.78 L203.61 427.40 L203.78 427.05 L203.94 426.67 L204.10 426.26 L204.21 425.92 L204.32 425.57 L204.43 425.19 L204.53 424.77 L204.64 424.31 L204.75 423.80 L204.86 423.24 L204.91 422.94 L204.96 422.61 L205.02 422.28 L205.07 421.92 L205.12 421.54 L205.18 421.14 L205.23 420.71 L205.28 420.26 L205.34 419.78 L205.39 419.27 L205.45 418.73 L205.50 418.16 L205.54 417.64 L205.61 416.89 L205.66 416.19 L205.71 415.44 L205.77 414.63 L205.82 413.77 L205.87 412.85 L205.93 411.85 L205.98 410.78 L206.03 409.81 L206.09 408.38 L206.14 407.03 L206.20 405.58 L206.25 404.00 L206.30 402.29 L206.36 400.43 L206.41 398.42 L206.46 396.22 L206.51 394.21 L206.52 393.84 L206.57 391.24 L206.62 388.42 L206.68 385.35 L206.73 382.02 L206.79 378.40 L206.84 374.48 L206.89 370.26 L206.95 365.72 L206.99 361.61 L207.00 360.87 L207.05 355.73 L207.11 350.35 L207.16 344.77 L207.21 339.08 L207.27 333.41 L207.32 327.90 L207.38 322.73 L207.43 318.10 L207.47 314.73 L207.48 314.22 L207.54 311.28 L207.59 309.45 L207.64 308.83 L207.70 309.46 L207.75 311.30 L207.80 314.25 L207.86 318.14 L207.91 322.77 L207.96 327.18 L207.96 327.95 L208.02 333.46 L208.07 339.13 L208.13 344.81 L208.18 350.28 L208.23 355.67 L208.29 360.81 L208.34 365.66 L208.39 370.20 L208.44 373.95 L208.45 374.43 L208.50 378.35 L208.55 381.97 L208.61 385.31 L208.66 388.39 L208.71 391.21 L208.77 393.81 L208.82 396.20 L208.88 398.39 L208.92 400.18 L208.98 402.27 L209.04 403.98 L209.09 405.56 L209.14 407.02 L209.20 408.36 L209.25 409.61 L209.30 410.77 L209.36 411.84 L209.41 412.73 L209.46 413.76 L209.52 414.62 L209.57 415.43 L209.63 416.18 L209.68 416.88 L209.73 417.54 L209.79 418.15 L209.84 418.73 L209.89 419.21 L209.95 419.78 L210.00 420.26 L210.05 420.71 L210.11 421.13 L210.16 421.53 L210.22 421.91 L210.27 422.27 L210.32 422.61 L210.38 422.93 L210.43 423.24 L210.54 423.80 L210.64 424.31 L210.75 424.77 L210.85 425.17 L210.97 425.57 L211.07 425.92 L211.18 426.24 L211.34 426.66 L211.50 427.05 L211.66 427.39 L211.82 427.69 L212.04 428.04 L212.25 428.35 L212.52 428.67 L212.84 429.01 L213.16 429.28 L213.48 429.51 L213.81 429.71 L214.13 429.88 L214.45 430.03 L214.77 430.15 L215.09 430.26 L215.41 430.36 L215.74 430.44 L216.06 430.52 L216.38 430.58 L216.70 430.64 L217.02 430.69 L217.34 430.73 L217.67 430.77 L217.99 430.81 L218.31 430.84 L218.63 430.86 L218.95 430.88 L219.27 430.90 L219.60 430.91 L219.92 430.92 L220.24 430.92 L220.56 430.91 L220.88 430.89 L221.20 430.86 L221.52 430.82 L221.85 430.76 L222.17 430.66 L222.49 430.52 L222.81 430.32 L223.13 430.00 L223.40 429.62 L223.56 429.32 L223.72 428.97 L223.88 428.56 L224.04 428.14 L224.20 427.75 L224.42 427.44 L224.74 427.66 L224.90 428.02 L225.06 428.45 L225.22 428.88 L225.38 429.26 L225.54 429.59 L225.76 429.94 L226.03 430.26 L226.35 430.54 L226.67 430.73 L226.99 430.86 L227.31 430.96 L227.64 431.03 L227.96 431.09 L228.28 431.14 L228.60 431.18 L228.92 431.21 L229.24 431.23 L229.56 431.25 L229.89 431.27 L230.21 431.29 L230.53 431.30 L230.85 431.31 L231.17 431.32 L231.49 431.33 L231.82 431.34 L232.14 431.35 L232.46 431.36 L232.78 431.36 L233.10 431.37 L233.42 431.38 L233.75 431.38 L234.07 431.39 L234.39 431.39 L234.71 431.39 L235.03 431.40 L235.35 431.40 L235.68 431.41 L236.00 431.41 L236.32 431.41 L236.64 431.41 L236.96 431.42 L237.28 431.42 L237.60 431.42 L237.93 431.42 L238.25 431.43 L238.57 431.43 L238.89 431.43 L239.21 431.43 L239.53 431.43 L239.86 431.44 L240.18 431.44 L240.77 431.44 L241.25 431.44 L241.74 431.45 L242.22 431.45 L242.70 431.45 L243.18 431.45 L243.67 431.45 L244.15 431.45 L244.63 431.46 L245.11 431.46 L245.60 431.46 L246.08 431.46 L246.56 431.46 L247.05 431.46 L247.53 431.46 L248.01 431.46 L248.49 431.46 L248.98 431.46 L249.46 431.47 L249.94 431.47 L250.42 431.47 L250.91 431.47 L251.39 431.47 L251.87 431.47 L252.35 431.47 L252.84 431.47 L253.32 431.47 L253.80 431.47 L254.28 431.47 L254.77 431.47 L255.25 431.47 L255.73 431.47 L256.21 431.47 L256.70 431.47 L257.18 431.47 L257.66 431.47 L258.14 431.47 L258.63 431.47 L259.11 431.47 L259.59 431.47 L260.07 431.47 L260.56 431.48 L261.04 431.48 L261.52 431.48 L262.00 431.48 L262.49 431.48 L262.97 431.48 L263.45 431.48 L263.93 431.48 L264.42 431.48 L264.90 431.48" fill="none" stroke="#e2c460" stroke-width="1.55" stroke-dasharray="5.6 2.3 1.2 2.3" stroke-dashoffset="0" stroke-linejoin="round"/>
<path d="M24.10 432.04 L24.58 432.04 L25.07 432.04 L25.55 432.03 L26.03 432.03 L26.51 432.03 L27.00 432.02 L27.48 432.02 L27.96 432.02 L28.44 432.01 L28.93 432.01 L29.41 432.01 L29.89 432.00 L30.37 432.00 L30.86 431.99 L31.34 431.99 L31.82 431.99 L32.30 431.98 L32.79 431.98 L33.27 431.97 L33.75 431.97 L34.23 431.96 L34.72 431.96 L35.20 431.95 L35.68 431.95 L36.16 431.94 L36.65 431.94 L37.13 431.93 L37.61 431.93 L38.09 431.92 L38.58 431.92 L39.06 431.91 L39.54 431.90 L40.02 431.90 L40.51 431.89 L40.99 431.88 L41.47 431.88 L41.95 431.87 L42.44 431.86 L42.92 431.85 L43.40 431.85 L43.89 431.84 L44.37 431.83 L44.85 431.82 L45.33 431.81 L45.82 431.80 L46.30 431.79 L46.78 431.78 L47.26 431.77 L47.75 431.76 L48.23 431.75 L48.71 431.74 L49.19 431.72 L49.68 431.71 L50.16 431.70 L50.64 431.68 L51.12 431.67 L51.61 431.65 L52.09 431.64 L52.57 431.62 L53.05 431.60 L53.54 431.58 L54.02 431.56 L54.50 431.54 L54.98 431.52 L55.47 431.50 L55.95 431.47 L56.43 431.45 L56.91 431.42 L57.40 431.39 L57.88 431.36 L58.36 431.32 L58.84 431.29 L59.33 431.25 L59.81 431.21 L60.29 431.16 L60.77 431.12 L61.26 431.07 L61.74 431.01 L62.22 430.95 L62.63 430.90 L62.95 430.86 L63.27 430.81 L63.59 430.76 L63.91 430.70 L64.24 430.65 L64.56 430.59 L64.88 430.53 L65.20 430.46 L65.52 430.39 L65.84 430.31 L66.17 430.23 L66.49 430.14 L66.81 430.05 L67.13 429.95 L67.45 429.84 L67.77 429.73 L68.10 429.61 L68.42 429.48 L68.74 429.33 L69.06 429.18 L69.38 429.01 L69.70 428.83 L70.02 428.64 L70.35 428.43 L70.67 428.20 L70.99 427.95 L71.31 427.68 L71.63 427.38 L71.95 427.05 L72.28 426.70 L72.54 426.38 L72.81 426.04 L73.08 425.66 L73.29 425.35 L73.51 425.01 L73.72 424.66 L73.94 424.28 L74.15 423.89 L74.31 423.58 L74.47 423.25 L74.63 422.92 L74.80 422.57 L74.96 422.21 L75.12 421.84 L75.25 421.52 L75.38 421.20 L75.55 420.80 L75.71 420.40 L75.87 419.98 L76.03 419.57 L76.19 419.15 L76.35 418.73 L76.51 418.31 L76.67 417.90 L76.83 417.49 L76.99 417.10 L77.15 416.73 L77.31 416.38 L77.48 416.05 L77.66 415.70 L77.90 415.33 L78.17 415.02 L78.49 414.81 L78.82 414.80 L79.14 414.97 L79.46 415.33 L79.67 415.65 L79.89 416.04 L80.05 416.37 L80.21 416.72 L80.37 417.09 L80.53 417.48 L80.69 417.88 L80.85 418.30 L81.01 418.71 L81.17 419.13 L81.33 419.55 L81.50 419.97 L81.66 420.38 L81.82 420.78 L81.98 421.18 L82.14 421.57 L82.30 421.94 L82.46 422.31 L82.62 422.66 L82.78 423.01 L82.94 423.34 L83.10 423.66 L83.26 423.96 L83.46 424.31 L83.64 424.63 L83.85 424.98 L84.07 425.32 L84.28 425.63 L84.55 426.00 L84.82 426.35 L85.09 426.66 L85.39 426.99 L85.73 427.34 L86.05 427.63 L86.37 427.90 L86.69 428.15 L87.02 428.38 L87.34 428.59 L87.66 428.78 L87.98 428.96 L88.28 429.11 L88.62 429.28 L88.95 429.42 L89.25 429.54 L89.59 429.67 L89.91 429.78 L90.21 429.88 L90.55 429.98 L90.88 430.07 L91.18 430.15 L91.52 430.24 L91.84 430.31 L92.14 430.38 L92.48 430.45 L92.81 430.51 L93.11 430.56 L93.45 430.62 L93.77 430.67 L94.07 430.72 L94.41 430.77 L94.73 430.81 L95.04 430.85 L95.52 430.90 L96.00 430.96 L96.48 431.01 L96.97 431.05 L97.45 431.09 L97.93 431.13 L98.42 431.17 L98.90 431.20 L99.38 431.23 L99.86 431.26 L100.35 431.29 L100.83 431.31 L101.31 431.34 L101.79 431.36 L102.28 431.38 L102.76 431.40 L103.24 431.42 L103.72 431.44 L104.21 431.45 L104.69 431.47 L105.17 431.48 L105.65 431.50 L106.14 431.51 L106.62 431.52 L107.10 431.53 L107.58 431.54 L108.07 431.55 L108.55 431.56 L109.03 431.57 L109.51 431.58 L110.00 431.59 L110.48 431.60 L110.96 431.61 L111.44 431.61 L111.93 431.62 L112.41 431.63 L112.89 431.63 L113.37 431.64 L113.86 431.64 L114.34 431.65 L114.82 431.65 L115.30 431.66 L115.79 431.66 L116.27 431.67 L116.75 431.67 L117.24 431.67 L117.72 431.68 L118.20 431.68 L118.68 431.68 L119.17 431.69 L119.65 431.69 L120.13 431.69 L120.61 431.70 L121.10 431.70 L121.58 431.70 L122.06 431.70 L122.54 431.70 L123.03 431.71 L123.51 431.71 L123.99 431.71 L124.47 431.71 L124.96 431.71 L125.44 431.71 L125.92 431.72 L126.40 431.72 L126.89 431.72 L127.37 431.72 L127.85 431.72 L128.33 431.72 L128.82 431.72 L129.30 431.72 L129.78 431.72 L130.26 431.72 L130.75 431.72 L131.23 431.73 L131.71 431.73 L132.19 431.73 L132.68 431.73 L133.16 431.73 L133.64 431.73 L134.12 431.73 L134.61 431.73 L135.09 431.73 L135.57 431.73 L136.06 431.73 L136.54 431.73 L137.02 431.73 L137.50 431.73 L137.99 431.73 L138.47 431.72 L138.95 431.72 L139.43 431.72 L139.92 431.72 L140.40 431.72 L140.88 431.72 L141.36 431.72 L141.85 431.72 L142.33 431.72 L142.81 431.72 L143.29 431.72 L143.78 431.72 L144.26 431.72 L144.74 431.72 L145.22 431.72 L145.71 431.71 L146.19 431.71 L146.67 431.71 L147.15 431.71 L147.64 431.71 L148.12 431.71 L148.60 431.71 L149.08 431.71 L149.57 431.71 L150.05 431.70 L150.53 431.70 L151.01 431.70 L151.50 431.70 L151.98 431.70 L152.46 431.70 L152.94 431.70 L153.43 431.69 L153.91 431.69 L154.39 431.69 L154.88 431.69 L155.36 431.69 L155.84 431.69 L156.32 431.68 L156.81 431.68 L157.29 431.68 L157.77 431.68 L158.25 431.68 L158.74 431.67 L159.22 431.67 L159.70 431.67 L160.18 431.67 L160.67 431.66 L161.15 431.66 L161.63 431.66 L162.11 431.66 L162.60 431.65 L163.08 431.65 L163.56 431.65 L164.04 431.65 L164.53 431.64 L165.01 431.64 L165.49 431.64 L165.97 431.63 L166.46 431.63 L166.94 431.63 L167.42 431.62 L167.90 431.62 L168.39 431.62 L168.87 431.61 L169.35 431.61 L169.83 431.60 L170.32 431.60 L170.80 431.59 L171.28 431.59 L171.76 431.58 L172.25 431.58 L172.73 431.57 L173.21 431.57 L173.66 431.56 L173.99 431.56 L174.31 431.55 L174.63 431.55 L174.95 431.54 L175.27 431.54 L175.59 431.53 L175.91 431.53 L176.24 431.52 L176.56 431.52 L176.88 431.51 L177.20 431.51 L177.52 431.50 L177.84 431.49 L178.17 431.49 L178.49 431.48 L178.81 431.47 L179.13 431.46 L179.45 431.45 L179.77 431.44 L180.10 431.44 L180.42 431.42 L180.74 431.41 L181.06 431.40 L181.38 431.39 L181.70 431.37 L182.03 431.36 L182.35 431.34 L182.67 431.32 L182.99 431.30 L183.31 431.28 L183.63 431.26 L183.95 431.23 L184.28 431.20 L184.60 431.16 L184.92 431.12 L185.24 431.07 L185.56 431.02 L185.88 430.95 L186.21 430.87 L186.53 430.77 L186.85 430.65 L187.17 430.50 L187.49 430.32 L187.81 430.09 L188.14 429.80 L188.46 429.45 L188.73 429.12 L188.99 428.79 L189.31 428.45 L189.62 428.26 L189.96 428.30 L190.28 428.55 L190.58 428.89 L190.87 429.22 L191.19 429.55 L191.51 429.83 L191.83 430.05 L192.15 430.22 L192.47 430.34 L192.80 430.44 L193.12 430.51 L193.44 430.56 L193.76 430.59 L194.08 430.62 L194.40 430.63 L194.73 430.63 L195.05 430.62 L195.37 430.61 L195.69 430.59 L196.01 430.57 L196.33 430.54 L196.66 430.50 L196.98 430.46 L197.30 430.41 L197.62 430.36 L197.94 430.30 L198.26 430.23 L198.58 430.16 L198.91 430.08 L199.23 429.99 L199.55 429.89 L199.87 429.78 L200.19 429.65 L200.51 429.52 L200.84 429.36 L201.16 429.20 L201.48 429.01 L201.80 428.79 L202.12 428.55 L202.44 428.28 L202.77 427.98 L203.09 427.63 L203.36 427.31 L203.61 426.96 L203.84 426.62 L204.05 426.27 L204.27 425.88 L204.43 425.57 L204.58 425.25 L204.75 424.87 L204.91 424.48 L205.06 424.09 L205.18 423.77 L205.28 423.46 L205.39 423.14 L205.50 422.80 L205.61 422.44 L205.71 422.07 L205.82 421.68 L205.93 421.28 L206.03 420.89 L206.14 420.42 L206.25 419.96 L206.36 419.49 L206.46 419.00 L206.57 418.49 L206.68 417.97 L206.79 417.44 L206.89 416.89 L206.99 416.38 L207.05 416.06 L207.16 415.50 L207.27 414.94 L207.38 414.39 L207.47 413.88 L207.54 413.57 L207.64 413.05 L207.75 412.55 L207.86 412.08 L207.96 411.67 L208.07 411.25 L208.18 410.91 L208.34 410.50 L208.55 410.16 L208.88 410.16 L209.09 410.50 L209.25 410.91 L209.36 411.26 L209.46 411.65 L209.57 412.09 L209.68 412.56 L209.79 413.06 L209.89 413.55 L209.95 413.86 L210.05 414.40 L210.16 414.95 L210.27 415.51 L210.37 416.04 L210.43 416.35 L210.54 416.90 L210.64 417.44 L210.75 417.98 L210.85 418.47 L210.97 419.00 L211.07 419.49 L211.18 419.96 L211.29 420.42 L211.39 420.86 L211.50 421.28 L211.61 421.68 L211.72 422.07 L211.82 422.42 L211.93 422.79 L212.04 423.13 L212.14 423.45 L212.25 423.76 L212.41 424.20 L212.57 424.61 L212.73 424.98 L212.90 425.34 L213.06 425.66 L213.22 425.97 L213.43 426.35 L213.65 426.69 L213.86 427.00 L214.13 427.36 L214.40 427.67 L214.71 428.00 L215.04 428.30 L215.36 428.57 L215.68 428.80 L216.00 429.00 L216.33 429.19 L216.64 429.35 L216.97 429.50 L217.29 429.63 L217.61 429.75 L217.93 429.85 L218.26 429.94 L218.57 430.03 L218.90 430.10 L219.22 430.17 L219.54 430.22 L219.86 430.27 L220.18 430.31 L220.50 430.33 L220.83 430.35 L221.15 430.35 L221.47 430.34 L221.79 430.31 L222.11 430.26 L222.43 430.18 L222.76 430.05 L223.08 429.86 L223.40 429.62 L223.72 429.32 L224.04 429.03 L224.36 428.85 L224.69 428.90 L225.01 429.15 L225.33 429.50 L225.65 429.83 L225.97 430.12 L226.29 430.34 L226.62 430.51 L226.94 430.64 L227.26 430.74 L227.58 430.82 L227.90 430.89 L228.22 430.94 L228.55 430.99 L228.87 431.03 L229.19 431.06 L229.51 431.09 L229.83 431.12 L230.15 431.14 L230.48 431.16 L230.80 431.18 L231.12 431.19 L231.44 431.21 L231.76 431.22 L232.08 431.24 L232.41 431.25 L232.73 431.26 L233.05 431.27 L233.37 431.28 L233.69 431.29 L234.01 431.29 L234.34 431.30 L234.66 431.31 L234.98 431.32 L235.30 431.32 L235.62 431.33 L235.94 431.33 L236.26 431.34 L236.59 431.35 L236.91 431.35 L237.23 431.36 L237.55 431.36 L237.87 431.36 L238.19 431.37 L238.52 431.37 L238.84 431.38 L239.16 431.38 L239.48 431.38 L239.80 431.39 L240.12 431.39 L240.77 431.39 L241.25 431.40 L241.74 431.40 L242.22 431.41 L242.70 431.41 L243.18 431.41 L243.67 431.42 L244.15 431.42 L244.63 431.42 L245.11 431.42 L245.60 431.43 L246.08 431.43 L246.56 431.43 L247.05 431.43 L247.53 431.43 L248.01 431.43 L248.49 431.44 L248.98 431.44 L249.46 431.44 L249.94 431.44 L250.42 431.44 L250.91 431.44 L251.39 431.44 L251.87 431.44 L252.35 431.44 L252.84 431.44 L253.32 431.45 L253.80 431.45 L254.28 431.45 L254.77 431.45 L255.25 431.45 L255.73 431.45 L256.21 431.45 L256.70 431.45 L257.18 431.45 L257.66 431.45 L258.14 431.45 L258.63 431.45 L259.11 431.45 L259.59 431.45 L260.07 431.45 L260.56 431.45 L261.04 431.45 L261.52 431.45 L262.00 431.45 L262.49 431.45 L262.97 431.45 L263.45 431.45 L263.93 431.45 L264.42 431.45 L264.90 431.45" fill="none" stroke="#bb7a3c" stroke-width="1.55" stroke-dasharray="5.6 2.3 1.2 2.3" stroke-dashoffset="0" stroke-linejoin="round"/>
<path d="M24.10 432.37 L24.58 432.37 L25.07 432.37 L25.55 432.37 L26.03 432.37 L26.51 432.37 L27.00 432.37 L27.48 432.37 L27.96 432.37 L28.44 432.37 L28.93 432.37 L29.41 432.37 L29.89 432.37 L30.37 432.37 L30.86 432.37 L31.34 432.37 L31.82 432.37 L32.30 432.37 L32.79 432.37 L33.27 432.37 L33.75 432.37 L34.23 432.37 L34.72 432.37 L35.20 432.37 L35.68 432.37 L36.16 432.37 L36.65 432.37 L37.13 432.37 L37.61 432.37 L38.09 432.37 L38.58 432.37 L39.06 432.37 L39.54 432.36 L40.02 432.36 L40.51 432.35 L40.99 432.35 L41.47 432.34 L41.95 432.34 L42.44 432.33 L42.92 432.32 L43.40 432.31 L43.89 432.30 L44.37 432.29 L44.85 432.28 L45.33 432.27 L45.82 432.26 L46.30 432.24 L46.78 432.23 L47.26 432.22 L47.75 432.20 L48.23 432.18 L48.71 432.17 L49.19 432.15 L49.68 432.13 L50.16 432.11 L50.64 432.09 L51.12 432.07 L51.61 432.05 L52.09 432.03 L52.57 432.01 L53.05 431.99 L53.54 431.97 L54.02 431.94 L54.50 431.91 L54.98 431.87 L55.47 431.82 L55.95 431.77 L56.43 431.70 L56.91 431.62 L57.40 431.54 L57.88 431.46 L58.36 431.36 L58.84 431.27 L59.33 431.17 L59.81 431.06 L60.29 430.95 L60.77 430.83 L61.26 430.70 L61.74 430.54 L62.22 430.37 L62.63 430.22 L62.95 430.10 L63.27 429.97 L63.59 429.84 L63.91 429.71 L64.24 429.58 L64.56 429.44 L64.88 429.31 L65.20 429.17 L65.52 429.03 L65.84 428.88 L66.17 428.73 L66.49 428.57 L66.81 428.41 L67.13 428.24 L67.45 428.08 L67.77 427.91 L68.10 427.73 L68.42 427.56 L68.74 427.39 L69.06 427.21 L69.38 427.03 L69.70 426.85 L70.02 426.68 L70.35 426.50 L70.67 426.32 L70.99 426.15 L71.31 425.98 L71.63 425.81 L71.95 425.64 L72.28 425.47 L72.60 425.30 L72.92 425.13 L73.24 424.95 L73.56 424.77 L73.88 424.59 L74.21 424.42 L74.53 424.26 L74.85 424.11 L75.17 423.97 L75.49 423.86 L75.81 423.76 L76.14 423.65 L76.46 423.55 L76.78 423.45 L77.10 423.36 L77.42 423.28 L77.74 423.21 L78.06 423.16 L78.39 423.12 L78.71 423.11 L79.03 423.13 L79.35 423.17 L79.67 423.24 L79.99 423.32 L80.32 423.41 L80.64 423.52 L80.96 423.64 L81.28 423.75 L81.60 423.87 L81.92 423.99 L82.25 424.11 L82.57 424.25 L82.89 424.41 L83.21 424.58 L83.53 424.75 L83.85 424.94 L84.18 425.12 L84.50 425.31 L84.82 425.49 L85.14 425.66 L85.46 425.83 L85.78 425.98 L86.10 426.14 L86.43 426.29 L86.75 426.45 L87.07 426.61 L87.39 426.77 L87.71 426.93 L88.03 427.09 L88.36 427.24 L88.68 427.40 L89.00 427.55 L89.32 427.71 L89.64 427.86 L89.96 428.01 L90.29 428.15 L90.61 428.29 L90.93 428.43 L91.25 428.56 L91.57 428.68 L91.89 428.81 L92.22 428.92 L92.54 429.03 L92.86 429.13 L93.18 429.23 L93.50 429.31 L93.82 429.40 L94.15 429.47 L94.47 429.55 L95.04 429.69 L95.52 429.80 L96.00 429.90 L96.48 430.01 L96.97 430.10 L97.45 430.20 L97.93 430.28 L98.42 430.37 L98.90 430.44 L99.38 430.51 L99.86 430.58 L100.35 430.64 L100.83 430.69 L101.31 430.73 L101.79 430.76 L102.28 430.79 L102.76 430.82 L103.24 430.85 L103.72 430.88 L104.21 430.91 L104.69 430.93 L105.17 430.96 L105.65 430.98 L106.14 431.00 L106.62 431.02 L107.10 431.04 L107.58 431.05 L108.07 431.06 L108.55 431.07 L109.03 431.07 L109.51 431.08 L110.00 431.08 L110.48 431.07 L110.96 431.06 L111.44 431.05 L111.93 431.04 L112.41 431.02 L112.89 431.00 L113.37 430.98 L113.86 430.97 L114.34 430.95 L114.82 430.93 L115.30 430.91 L115.79 430.89 L116.27 430.88 L116.75 430.87 L117.24 430.87 L117.72 430.86 L118.20 430.86 L118.68 430.86 L119.17 430.86 L119.65 430.86 L120.13 430.86 L120.61 430.86 L121.10 430.86 L121.58 430.86 L122.06 430.86 L122.54 430.86 L123.03 430.86 L123.51 430.86 L123.99 430.86 L124.47 430.86 L124.96 430.86 L125.44 430.86 L125.92 430.86 L126.40 430.86 L126.89 430.86 L127.37 430.86 L127.85 430.86 L128.33 430.86 L128.82 430.86 L129.30 430.86 L129.78 430.86 L130.26 430.86 L130.75 430.86 L131.23 430.86 L131.71 430.86 L132.19 430.86 L132.68 430.87 L133.16 430.87 L133.64 430.87 L134.12 430.88 L134.61 430.88 L135.09 430.89 L135.57 430.89 L136.06 430.90 L136.54 430.91 L137.02 430.91 L137.50 430.92 L137.99 430.93 L138.47 430.94 L138.95 430.94 L139.43 430.95 L139.92 430.96 L140.40 430.97 L140.88 430.98 L141.36 430.99 L141.85 430.99 L142.33 431.00 L142.81 431.01 L143.29 431.02 L143.78 431.02 L144.26 431.03 L144.74 431.04 L145.22 431.05 L145.71 431.05 L146.19 431.06 L146.67 431.06 L147.15 431.07 L147.64 431.07 L148.12 431.07 L148.60 431.08 L149.08 431.08 L149.57 431.08 L150.05 431.08 L150.53 431.08 L151.01 431.08 L151.50 431.08 L151.98 431.08 L152.46 431.07 L152.94 431.07 L153.43 431.07 L153.91 431.07 L154.39 431.07 L154.88 431.07 L155.36 431.06 L155.84 431.06 L156.32 431.06 L156.81 431.05 L157.29 431.05 L157.77 431.05 L158.25 431.04 L158.74 431.04 L159.22 431.03 L159.70 431.03 L160.18 431.02 L160.67 431.02 L161.15 431.01 L161.63 431.01 L162.11 431.00 L162.60 431.00 L163.08 430.99 L163.56 430.98 L164.04 430.98 L164.53 430.97 L165.01 430.96 L165.49 430.96 L165.97 430.95 L166.46 430.94 L166.94 430.93 L167.42 430.93 L167.90 430.92 L168.39 430.91 L168.87 430.90 L169.35 430.89 L169.83 430.88 L170.32 430.87 L170.80 430.86 L171.28 430.85 L171.76 430.83 L172.25 430.81 L172.73 430.78 L173.21 430.75 L173.66 430.72 L173.99 430.69 L174.31 430.66 L174.63 430.64 L174.95 430.61 L175.27 430.57 L175.59 430.54 L175.91 430.51 L176.24 430.47 L176.56 430.44 L176.88 430.40 L177.20 430.36 L177.52 430.32 L177.84 430.28 L178.17 430.24 L178.49 430.20 L178.81 430.15 L179.13 430.11 L179.45 430.07 L179.77 430.02 L180.10 429.98 L180.42 429.93 L180.74 429.89 L181.06 429.84 L181.38 429.79 L181.70 429.74 L182.03 429.69 L182.35 429.63 L182.67 429.57 L182.99 429.50 L183.31 429.43 L183.63 429.35 L183.95 429.27 L184.28 429.19 L184.60 429.11 L184.92 429.02 L185.24 428.93 L185.56 428.84 L185.88 428.74 L186.21 428.65 L186.53 428.56 L186.85 428.46 L187.17 428.37 L187.49 428.27 L187.81 428.18 L188.14 428.08 L188.46 427.99 L188.78 427.90 L189.10 427.81 L189.42 427.72 L189.74 427.63 L190.07 427.55 L190.39 427.47 L190.71 427.39 L191.03 427.32 L191.35 427.25 L191.67 427.19 L191.99 427.12 L192.31 427.06 L192.64 426.99 L192.96 426.92 L193.28 426.85 L193.60 426.78 L193.92 426.71 L194.24 426.64 L194.56 426.57 L194.89 426.50 L195.21 426.43 L195.53 426.37 L195.85 426.30 L196.17 426.23 L196.49 426.17 L196.82 426.10 L197.14 426.04 L197.46 425.98 L197.78 425.92 L198.10 425.87 L198.42 425.82 L198.75 425.77 L199.07 425.72 L199.39 425.68 L199.71 425.64 L200.03 425.61 L200.35 425.57 L200.68 425.55 L201.00 425.52 L201.32 425.51 L201.64 425.49 L201.96 425.49 L202.28 425.48 L202.60 425.48 L202.93 425.48 L203.25 425.49 L203.57 425.49 L203.89 425.49 L204.21 425.49 L204.53 425.50 L204.86 425.50 L205.18 425.51 L205.50 425.52 L205.82 425.52 L206.14 425.53 L206.46 425.54 L206.79 425.55 L207.11 425.56 L207.43 425.57 L207.75 425.58 L208.07 425.59 L208.39 425.60 L208.71 425.61 L209.04 425.63 L209.36 425.64 L209.68 425.65 L210.00 425.67 L210.32 425.68 L210.64 425.70 L210.97 425.73 L211.29 425.78 L211.61 425.84 L211.93 425.92 L212.25 426.01 L212.57 426.12 L212.90 426.24 L213.22 426.36 L213.54 426.50 L213.86 426.64 L214.18 426.79 L214.50 426.95 L214.82 427.11 L215.15 427.27 L215.47 427.43 L215.79 427.60 L216.11 427.76 L216.43 427.92 L216.75 428.07 L217.08 428.25 L217.40 428.45 L217.72 428.69 L218.04 428.94 L218.36 429.19 L218.68 429.45 L219.01 429.71 L219.33 429.95 L219.65 430.16 L219.97 430.35 L220.29 430.50 L220.61 430.60 L220.94 430.65 L221.26 430.64 L221.58 430.61 L221.90 430.55 L222.22 430.48 L222.54 430.40 L222.86 430.31 L223.19 430.21 L223.51 430.11 L223.83 430.02 L224.15 429.94 L224.47 429.87 L224.79 429.82 L225.12 429.79 L225.44 429.79 L225.76 429.81 L226.08 429.86 L226.40 429.92 L226.72 430.00 L227.05 430.09 L227.37 430.19 L227.69 430.30 L228.01 430.42 L228.33 430.53 L228.65 430.65 L228.98 430.76 L229.30 430.86 L229.62 430.96 L229.94 431.04 L230.26 431.11 L230.58 431.17 L230.90 431.24 L231.23 431.30 L231.55 431.37 L231.87 431.43 L232.19 431.50 L232.51 431.56 L232.83 431.62 L233.16 431.67 L233.48 431.72 L233.80 431.77 L234.12 431.81 L234.44 431.85 L234.76 431.89 L235.09 431.91 L235.41 431.94 L235.73 431.95 L236.05 431.97 L236.37 431.98 L236.69 432.00 L237.02 432.02 L237.34 432.03 L237.66 432.05 L237.98 432.06 L238.30 432.07 L238.62 432.09 L238.94 432.10 L239.27 432.12 L239.59 432.13 L239.91 432.14 L240.23 432.15 L240.77 432.17 L241.25 432.19 L241.74 432.21 L242.22 432.22 L242.70 432.24 L243.18 432.25 L243.67 432.26 L244.15 432.28 L244.63 432.29 L245.11 432.30 L245.60 432.31 L246.08 432.32 L246.56 432.33 L247.05 432.33 L247.53 432.34 L248.01 432.35 L248.49 432.35 L248.98 432.36 L249.46 432.36 L249.94 432.36 L250.42 432.37 L250.91 432.37 L251.39 432.37 L251.87 432.37 L252.35 432.37 L252.84 432.37 L253.32 432.37 L253.80 432.37 L254.28 432.37 L254.77 432.37 L255.25 432.37 L255.73 432.37 L256.21 432.37 L256.70 432.37 L257.18 432.37 L257.66 432.37 L258.14 432.37 L258.63 432.37 L259.11 432.37 L259.59 432.37 L260.07 432.37 L260.56 432.37 L261.04 432.37 L261.52 432.37 L262.00 432.37 L262.49 432.37 L262.97 432.37 L263.45 432.37 L263.93 432.37 L264.42 432.37 L264.90 432.37" fill="none" stroke="#7a1824" stroke-width="1.8" stroke-linejoin="round"/>
<line x1="118.9" y1="263.9" x2="140.0" y2="263.9" stroke="#1c1c1c" stroke-width="1.5" stroke-dasharray="5.6 2.3 1.2 2.3"/>
<text x="144.3" y="267.40" class="lg">2×10S/m</text>
<line x1="118.9" y1="275.9" x2="140.0" y2="275.9" stroke="#24997a" stroke-width="1.5" stroke-dasharray="5.6 2.3 1.2 2.3"/>
<text x="144.3" y="279.40" class="lg">2×10<tspan class="sup" dy="-3.0">2</tspan><tspan dy="3.0">S/m</tspan></text>
<line x1="118.9" y1="287.8" x2="140.0" y2="287.8" stroke="#e2c460" stroke-width="1.5" stroke-dasharray="5.6 2.3 1.2 2.3"/>
<text x="144.3" y="291.30" class="lg">2×10<tspan class="sup" dy="-3.0">3</tspan><tspan dy="3.0">S/m</tspan></text>
<line x1="118.9" y1="299.8" x2="140.0" y2="299.8" stroke="#bb7a3c" stroke-width="1.5" stroke-dasharray="5.6 2.3 1.2 2.3"/>
<text x="144.3" y="303.30" class="lg">2×10<tspan class="sup" dy="-3.0">4</tspan><tspan dy="3.0">S/m</tspan></text>
<line x1="118.9" y1="311.8" x2="140.0" y2="311.8" stroke="#7a1824" stroke-width="1.6"/>
<text x="144.3" y="315.30" class="lg">2×10<tspan class="sup" dy="-3.0">5</tspan><tspan dy="3.0">S/m</tspan></text>
<text x="144" y="461.5" class="ax" text-anchor="middle">Frequency (THz)</text>
<text transform="translate(10.5 345) rotate(-90)" class="ax" text-anchor="middle">Re(Zr)</text>
<text x="140.4" y="484.6" class="pl" text-anchor="middle">(b)</text>
<rect x="302.0" y="248.7" width="240.89999999999998" height="193.7" fill="none" stroke="#1a1a1a" stroke-width="1.6"/>
<line x1="302.00" y1="442.4" x2="302.00" y2="439.79999999999995" stroke="#1a1a1a" stroke-width="1.1"/>
<line x1="315.38" y1="442.4" x2="315.38" y2="440.79999999999995" stroke="#1a1a1a" stroke-width="1.1"/>
<line x1="328.77" y1="442.4" x2="328.77" y2="439.79999999999995" stroke="#1a1a1a" stroke-width="1.1"/>
<line x1="342.15" y1="442.4" x2="342.15" y2="440.79999999999995" stroke="#1a1a1a" stroke-width="1.1"/>
<line x1="355.53" y1="442.4" x2="355.53" y2="439.79999999999995" stroke="#1a1a1a" stroke-width="1.1"/>
<line x1="368.92" y1="442.4" x2="368.92" y2="440.79999999999995" stroke="#1a1a1a" stroke-width="1.1"/>
<line x1="382.30" y1="442.4" x2="382.30" y2="439.79999999999995" stroke="#1a1a1a" stroke-width="1.1"/>
<line x1="395.68" y1="442.4" x2="395.68" y2="440.79999999999995" stroke="#1a1a1a" stroke-width="1.1"/>
<line x1="409.07" y1="442.4" x2="409.07" y2="439.79999999999995" stroke="#1a1a1a" stroke-width="1.1"/>
<line x1="422.45" y1="442.4" x2="422.45" y2="440.79999999999995" stroke="#1a1a1a" stroke-width="1.1"/>
<line x1="435.83" y1="442.4" x2="435.83" y2="439.79999999999995" stroke="#1a1a1a" stroke-width="1.1"/>
<line x1="449.22" y1="442.4" x2="449.22" y2="440.79999999999995" stroke="#1a1a1a" stroke-width="1.1"/>
<line x1="462.60" y1="442.4" x2="462.60" y2="439.79999999999995" stroke="#1a1a1a" stroke-width="1.1"/>
<line x1="475.98" y1="442.4" x2="475.98" y2="440.79999999999995" stroke="#1a1a1a" stroke-width="1.1"/>
<line x1="489.37" y1="442.4" x2="489.37" y2="439.79999999999995" stroke="#1a1a1a" stroke-width="1.1"/>
<line x1="502.75" y1="442.4" x2="502.75" y2="440.79999999999995" stroke="#1a1a1a" stroke-width="1.1"/>
<line x1="516.13" y1="442.4" x2="516.13" y2="439.79999999999995" stroke="#1a1a1a" stroke-width="1.1"/>
<line x1="529.52" y1="442.4" x2="529.52" y2="440.79999999999995" stroke="#1a1a1a" stroke-width="1.1"/>
<line x1="542.90" y1="442.4" x2="542.90" y2="439.79999999999995" stroke="#1a1a1a" stroke-width="1.1"/>
<line x1="302.0" y1="442.40" x2="303.6" y2="442.40" stroke="#1a1a1a" stroke-width="1.1"/>
<line x1="302.0" y1="431.64" x2="304.6" y2="431.64" stroke="#1a1a1a" stroke-width="1.1"/>
<line x1="302.0" y1="420.88" x2="303.6" y2="420.88" stroke="#1a1a1a" stroke-width="1.1"/>
<line x1="302.0" y1="410.12" x2="304.6" y2="410.12" stroke="#1a1a1a" stroke-width="1.1"/>
<line x1="302.0" y1="399.36" x2="303.6" y2="399.36" stroke="#1a1a1a" stroke-width="1.1"/>
<line x1="302.0" y1="388.59" x2="304.6" y2="388.59" stroke="#1a1a1a" stroke-width="1.1"/>
<line x1="302.0" y1="377.83" x2="303.6" y2="377.83" stroke="#1a1a1a" stroke-width="1.1"/>
<line x1="302.0" y1="367.07" x2="304.6" y2="367.07" stroke="#1a1a1a" stroke-width="1.1"/>
<line x1="302.0" y1="356.31" x2="303.6" y2="356.31" stroke="#1a1a1a" stroke-width="1.1"/>
<line x1="302.0" y1="345.55" x2="304.6" y2="345.55" stroke="#1a1a1a" stroke-width="1.1"/>
<line x1="302.0" y1="334.79" x2="303.6" y2="334.79" stroke="#1a1a1a" stroke-width="1.1"/>
<line x1="302.0" y1="324.03" x2="304.6" y2="324.03" stroke="#1a1a1a" stroke-width="1.1"/>
<line x1="302.0" y1="313.27" x2="303.6" y2="313.27" stroke="#1a1a1a" stroke-width="1.1"/>
<line x1="302.0" y1="302.51" x2="304.6" y2="302.51" stroke="#1a1a1a" stroke-width="1.1"/>
<line x1="302.0" y1="291.74" x2="303.6" y2="291.74" stroke="#1a1a1a" stroke-width="1.1"/>
<line x1="302.0" y1="280.98" x2="304.6" y2="280.98" stroke="#1a1a1a" stroke-width="1.1"/>
<line x1="302.0" y1="270.22" x2="303.6" y2="270.22" stroke="#1a1a1a" stroke-width="1.1"/>
<line x1="302.0" y1="259.46" x2="304.6" y2="259.46" stroke="#1a1a1a" stroke-width="1.1"/>
<line x1="302.0" y1="248.70" x2="303.6" y2="248.70" stroke="#1a1a1a" stroke-width="1.1"/>
<text x="302.00" y="451.0" class="tk" text-anchor="middle">1</text>
<text x="328.77" y="451.0" class="tk" text-anchor="middle">2</text>
<text x="355.53" y="451.0" class="tk" text-anchor="middle">3</text>
<text x="382.30" y="451.0" class="tk" text-anchor="middle">4</text>
<text x="409.07" y="451.0" class="tk" text-anchor="middle">5</text>
<text x="435.83" y="451.0" class="tk" text-anchor="middle">6</text>
<text x="462.60" y="451.0" class="tk" text-anchor="middle">7</text>
<text x="489.37" y="451.0" class="tk" text-anchor="middle">8</text>
<text x="516.13" y="451.0" class="tk" text-anchor="middle">9</text>
<text x="542.90" y="451.0" class="tk" text-anchor="middle">10</text>
<text x="299.6" y="434.24" class="tk" text-anchor="end">-40</text>
<text x="299.6" y="412.72" class="tk" text-anchor="end">-30</text>
<text x="299.6" y="391.19" class="tk" text-anchor="end">-20</text>
<text x="299.6" y="369.67" class="tk" text-anchor="end">-10</text>
<text x="299.6" y="348.15" class="tk" text-anchor="end">0</text>
<text x="299.6" y="326.63" class="tk" text-anchor="end">10</text>
<text x="299.6" y="305.11" class="tk" text-anchor="end">20</text>
<text x="299.6" y="283.58" class="tk" text-anchor="end">30</text>
<text x="299.6" y="262.06" class="tk" text-anchor="end">40</text>
<path d="M302.00 345.55 L302.48 345.55 L302.97 345.55 L303.45 345.55 L303.93 345.55 L304.41 345.55 L304.90 345.55 L305.38 345.55 L305.86 345.55 L306.34 345.55 L306.83 345.55 L307.31 345.55 L307.79 345.55 L308.28 345.55 L308.76 345.55 L309.24 345.55 L309.72 345.55 L310.21 345.55 L310.69 345.55 L311.17 345.55 L311.66 345.55 L312.14 345.55 L312.62 345.55 L313.10 345.55 L313.59 345.55 L314.07 345.55 L314.55 345.55 L315.03 345.55 L315.52 345.55 L316.00 345.55 L316.48 345.55 L316.97 345.55 L317.45 345.55 L317.93 345.55 L318.41 345.55 L318.90 345.55 L319.38 345.55 L319.86 345.55 L320.35 345.55 L320.83 345.55 L321.31 345.55 L321.79 345.55 L322.28 345.55 L322.76 345.55 L323.24 345.55 L323.72 345.55 L324.21 345.55 L324.69 345.55 L325.17 345.55 L325.66 345.55 L326.14 345.55 L326.62 345.55 L327.10 345.55 L327.59 345.55 L328.07 345.55 L328.55 345.55 L329.03 345.55 L329.52 345.55 L330.00 345.55 L330.48 345.55 L330.97 345.55 L331.45 345.55 L331.93 345.55 L332.41 345.55 L332.90 345.55 L333.38 345.55 L333.86 345.55 L334.35 345.55 L334.83 345.55 L335.31 345.55 L335.79 345.55 L336.28 345.55 L336.76 345.55 L337.24 345.55 L337.72 345.55 L338.21 345.55 L338.69 345.55 L339.17 345.55 L339.66 345.55 L340.01 345.55 L340.33 345.55 L340.65 345.55 L340.97 345.55 L341.30 345.55 L341.62 345.55 L341.94 345.55 L342.26 345.55 L342.58 345.55 L342.90 345.55 L343.23 345.55 L343.55 345.55 L343.87 345.55 L344.19 345.55 L344.51 345.55 L344.83 345.55 L345.16 345.55 L345.48 345.55 L345.80 345.55 L346.12 345.55 L346.44 345.55 L346.77 345.55 L347.09 345.55 L347.41 345.55 L347.73 345.55 L348.05 345.55 L348.37 345.55 L348.70 345.55 L349.02 345.55 L349.34 345.55 L349.66 345.55 L349.98 345.55 L350.30 345.55 L350.63 345.55 L350.95 345.55 L351.27 345.55 L351.59 345.55 L351.91 345.55 L352.23 345.55 L352.56 345.55 L352.88 345.55 L353.20 345.55 L353.52 345.55 L353.84 345.55 L354.17 345.55 L354.49 345.55 L354.81 345.55 L355.13 345.55 L355.45 345.55 L355.77 345.55 L356.10 345.55 L356.42 345.55 L356.74 345.55 L357.06 345.55 L357.38 345.55 L357.70 345.55 L358.03 345.55 L358.35 345.55 L358.67 345.55 L358.99 345.55 L359.31 345.55 L359.63 345.55 L359.96 345.55 L360.28 345.55 L360.60 345.55 L360.92 345.55 L361.24 345.55 L361.57 345.55 L361.89 345.55 L362.21 345.55 L362.53 345.55 L362.85 345.55 L363.17 345.55 L363.50 345.55 L363.82 345.55 L364.14 345.55 L364.46 345.55 L364.78 345.55 L365.10 345.55 L365.43 345.55 L365.75 345.55 L366.07 345.55 L366.39 345.55 L366.71 345.55 L367.03 345.55 L367.36 345.55 L367.68 345.55 L368.00 345.55 L368.32 345.55 L368.62 345.55 L368.97 345.55 L369.29 345.55 L369.59 345.55 L369.93 345.55 L370.25 345.55 L370.55 345.55 L370.90 345.55 L371.22 345.55 L371.52 345.55 L371.86 345.55 L372.48 345.55 L372.97 345.55 L373.45 345.55 L373.93 345.55 L374.41 345.55 L374.90 345.55 L375.38 345.55 L375.86 345.55 L376.35 345.55 L376.83 345.55 L377.31 345.55 L377.79 345.55 L378.28 345.55 L378.76 345.55 L379.24 345.55 L379.73 345.55 L380.21 345.55 L380.69 345.55 L381.17 345.55 L381.66 345.55 L382.14 345.55 L382.62 345.55 L383.10 345.55 L383.59 345.55 L384.07 345.55 L384.55 345.55 L385.04 345.55 L385.52 345.55 L386.00 345.55 L386.48 345.55 L386.97 345.55 L387.45 345.55 L387.93 345.55 L388.42 345.55 L388.90 345.55 L389.38 345.55 L389.86 345.55 L390.35 345.55 L390.83 345.55 L391.31 345.55 L391.79 345.55 L392.28 345.55 L392.76 345.55 L393.24 345.55 L393.73 345.55 L394.21 345.55 L394.69 345.55 L395.17 345.55 L395.66 345.55 L396.14 345.55 L396.62 345.55 L397.10 345.55 L397.59 345.55 L398.07 345.55 L398.55 345.55 L399.04 345.55 L399.52 345.55 L400.00 345.55 L400.48 345.55 L400.97 345.55 L401.45 345.55 L401.93 345.55 L402.42 345.55 L402.90 345.55 L403.38 345.55 L403.86 345.55 L404.35 345.55 L404.83 345.55 L405.31 345.55 L405.79 345.55 L406.28 345.55 L406.76 345.55 L407.24 345.55 L407.73 345.55 L408.21 345.55 L408.69 345.55 L409.17 345.55 L409.66 345.55 L410.14 345.55 L410.62 345.55 L411.11 345.55 L411.59 345.55 L412.07 345.55 L412.55 345.55 L413.04 345.55 L413.52 345.55 L414.00 345.55 L414.48 345.55 L414.97 345.55 L415.45 345.55 L415.93 345.55 L416.42 345.55 L416.90 345.55 L417.38 345.55 L417.86 345.55 L418.35 345.55 L418.83 345.55 L419.31 345.55 L419.79 345.55 L420.28 345.55 L420.76 345.55 L421.24 345.55 L421.73 345.55 L422.21 345.55 L422.69 345.55 L423.17 345.55 L423.66 345.55 L424.14 345.55 L424.62 345.55 L425.11 345.55 L425.59 345.55 L426.07 345.55 L426.55 345.55 L427.04 345.55 L427.52 345.55 L428.00 345.55 L428.48 345.55 L428.97 345.55 L429.45 345.55 L429.93 345.55 L430.42 345.55 L430.90 345.55 L431.38 345.55 L431.86 345.55 L432.35 345.55 L432.83 345.55 L433.31 345.55 L433.79 345.55 L434.28 345.55 L434.76 345.55 L435.24 345.55 L435.73 345.55 L436.21 345.55 L436.69 345.55 L437.17 345.55 L437.66 345.55 L438.14 345.55 L438.62 345.55 L439.11 345.55 L439.59 345.55 L440.07 345.55 L440.55 345.55 L441.04 345.55 L441.52 345.55 L442.00 345.55 L442.48 345.55 L442.97 345.55 L443.45 345.55 L443.93 345.55 L444.42 345.55 L444.90 345.55 L445.38 345.55 L445.86 345.55 L446.35 345.55 L446.83 345.55 L447.31 345.55 L447.80 345.55 L448.28 345.55 L448.76 345.55 L449.24 345.55 L449.73 345.55 L450.21 345.55 L450.69 345.55 L451.17 345.55 L451.63 345.55 L451.95 345.55 L452.27 345.55 L452.59 345.55 L452.91 345.55 L453.23 345.55 L453.56 345.55 L453.88 345.55 L454.20 345.55 L454.52 345.55 L454.84 345.55 L455.16 345.55 L455.49 345.55 L455.81 345.55 L456.13 345.55 L456.45 345.55 L456.77 345.55 L457.10 345.55 L457.42 345.55 L457.74 345.55 L458.06 345.55 L458.38 345.55 L458.70 345.55 L459.03 345.55 L459.35 345.55 L459.67 345.55 L459.99 345.55 L460.31 345.55 L460.63 345.55 L460.96 345.55 L461.28 345.55 L461.60 345.55 L461.92 345.55 L462.24 345.55 L462.56 345.55 L462.89 345.55 L463.21 345.55 L463.53 345.55 L463.85 345.55 L464.17 345.55 L464.50 345.55 L464.82 345.55 L465.14 345.55 L465.46 345.55 L465.78 345.55 L466.10 345.55 L466.43 345.55 L466.75 345.55 L467.07 345.55 L467.39 345.55 L467.71 345.55 L468.03 345.55 L468.36 345.55 L468.68 345.55 L469.00 345.55 L469.32 345.55 L469.64 345.55 L469.96 345.55 L470.29 345.55 L470.61 345.55 L470.93 345.55 L471.25 345.55 L471.57 345.55 L471.90 345.55 L472.22 345.55 L472.54 345.55 L472.86 345.55 L473.18 345.55 L473.50 345.55 L473.83 345.55 L474.15 345.55 L474.47 345.55 L474.79 345.55 L475.11 345.55 L475.43 345.55 L475.76 345.55 L476.08 345.55 L476.40 345.55 L476.72 345.55 L477.04 345.55 L477.36 345.55 L477.69 345.55 L478.01 345.55 L478.33 345.55 L478.65 345.55 L478.97 345.55 L479.29 345.55 L479.62 345.55 L479.94 345.55 L480.26 345.55 L480.58 345.55 L480.90 345.55 L481.23 345.55 L481.55 345.55 L481.87 345.55 L482.19 345.55 L482.51 345.55 L482.83 345.55 L483.16 345.55 L483.48 345.55 L483.82 345.55 L484.14 345.55 L484.47 345.55 L484.79 345.55 L485.11 345.55 L485.43 345.55 L485.75 345.55 L486.08 345.55 L486.40 345.55 L486.72 345.55 L487.04 345.55 L487.36 345.55 L487.68 345.55 L488.01 345.55 L488.33 345.55 L488.65 345.55 L488.97 345.55 L489.29 345.55 L489.61 345.55 L489.94 345.55 L490.26 345.55 L490.58 345.55 L490.90 345.55 L491.22 345.55 L491.54 345.55 L491.87 345.55 L492.19 345.55 L492.51 345.55 L492.83 345.55 L493.15 345.55 L493.48 345.55 L493.80 345.55 L494.12 345.55 L494.44 345.55 L494.76 345.55 L495.08 345.55 L495.41 345.55 L495.73 345.55 L496.05 345.55 L496.37 345.55 L496.69 345.55 L497.01 345.55 L497.34 345.55 L497.66 345.55 L497.98 345.55 L498.30 345.55 L498.62 345.55 L498.94 345.55 L499.27 345.55 L499.59 345.55 L499.91 345.55 L500.23 345.55 L500.55 345.55 L500.87 345.55 L501.20 345.55 L501.52 345.55 L501.86 345.55 L502.19 345.55 L502.51 345.55 L502.83 345.55 L503.15 345.55 L503.47 345.55 L503.80 345.55 L504.12 345.55 L504.44 345.55 L504.76 345.55 L505.08 345.55 L505.40 345.55 L505.73 345.55 L506.05 345.55 L506.37 345.55 L506.69 345.55 L507.01 345.55 L507.33 345.55 L507.66 345.55 L507.98 345.55 L508.30 345.55 L508.62 345.55 L508.94 345.55 L509.27 345.55 L509.59 345.55 L509.91 345.55 L510.23 345.55 L510.55 345.55 L510.87 345.55 L511.20 345.55 L511.52 345.55 L511.84 345.55 L512.16 345.55 L512.48 345.55 L512.80 345.55 L513.13 345.55 L513.45 345.55 L513.77 345.55 L514.09 345.55 L514.41 345.55 L514.73 345.55 L515.06 345.55 L515.38 345.55 L515.70 345.55 L516.02 345.55 L516.34 345.55 L516.67 345.55 L516.99 345.55 L517.31 345.55 L517.63 345.55 L517.95 345.55 L518.27 345.55 L518.60 345.55 L519.24 345.55 L519.73 345.55 L520.21 345.55 L520.69 345.55 L521.18 345.55 L521.66 345.55 L522.14 345.55 L522.62 345.55 L523.11 345.55 L523.59 345.55 L524.07 345.55 L524.55 345.55 L525.04 345.55 L525.52 345.55 L526.00 345.55 L526.49 345.55 L526.97 345.55 L527.45 345.55 L527.93 345.55 L528.42 345.55 L528.90 345.55 L529.38 345.55 L529.87 345.55 L530.35 345.55 L530.83 345.55 L531.31 345.55 L531.80 345.55 L532.28 345.55 L532.76 345.55 L533.24 345.55 L533.73 345.55 L534.21 345.55 L534.69 345.55 L535.18 345.55 L535.66 345.55 L536.14 345.55 L536.62 345.55 L537.11 345.55 L537.59 345.55 L538.07 345.55 L538.56 345.55 L539.04 345.55 L539.52 345.55 L540.00 345.55 L540.49 345.55 L540.97 345.55 L541.45 345.55 L541.93 345.55 L542.42 345.55 L542.90 345.55" fill="none" stroke="#1c1c1c" stroke-width="1.8" stroke-dasharray="5.6 2.3 1.2 2.3" stroke-dashoffset="0" stroke-linejoin="round"/>
<path d="M353.63 345.18 L353.74 344.73 L353.79 344.38 L353.84 343.93 L353.90 343.35 L353.95 342.63 L354.00 341.76 L354.06 340.73 L354.11 339.53 L354.14 338.87 L354.17 338.18 L354.22 336.67 L354.27 335.03 L354.33 333.28 L354.38 331.44 L354.43 329.56 L354.49 327.66 L354.54 325.79 L354.59 323.98 L354.62 323.09 L354.65 322.26 L354.70 320.68 L354.76 319.27 L354.81 318.04 L354.86 317.02 L354.92 316.23 L354.97 315.69 L355.08 315.37 L355.18 316.09 L355.24 316.83 L355.29 317.82 L355.34 319.05 L355.40 320.50 L355.45 322.18 L355.51 324.05 L355.56 326.12 L355.59 327.24 L355.61 328.35 L355.67 330.73 L355.72 333.24 L355.77 335.86 L355.83 338.57 L355.88 341.34 L355.93 344.14 L355.99 346.77 L356.04 349.21 L356.07 350.45 L356.10 351.62 L356.15 353.98 L356.20 356.30 L356.26 358.53 L356.31 360.68 L356.36 362.72 L356.42 364.64 L356.47 366.42 L356.52 368.04 L356.55 368.82 L356.58 369.50 L356.63 370.77 L356.69 371.84 L356.74 372.69 L356.79 373.33 L356.85 373.72 L357.04 373.19 L357.06 372.89 L357.11 372.08 L357.17 371.05 L357.22 369.82 L357.28 368.41 L357.33 366.85 L357.38 365.17 L357.44 363.40 L357.49 361.59 L357.52 360.63 L357.54 359.77 L357.60 357.98 L357.65 356.26 L357.70 354.63 L357.76 353.12 L357.81 351.75 L357.87 350.53 L357.92 349.48 L357.97 348.59 L358.00 348.18 L358.03 347.85 L358.08 347.25 L358.13 346.78 L358.19 346.41 L358.29 345.95" fill="none" stroke="#1c1c1c" stroke-width="1.2" stroke-dasharray="5.6 2.3 1.2 2.3" stroke-dashoffset="5.6" stroke-linejoin="round"/>
<path d="M465.35 345.54 L465.66 345.41 L465.84 345.10 L465.94 344.73 L466.05 344.18 L466.10 343.83 L466.16 343.43 L466.21 342.97 L466.26 342.47 L466.32 341.92 L466.37 341.33 L466.43 340.71 L466.48 340.06 L466.53 339.40 L466.59 338.73 L466.62 338.28 L466.69 337.41 L466.75 336.78 L466.80 336.17 L466.85 335.60 L466.91 335.07 L466.96 334.59 L467.02 334.17 L467.07 333.80 L467.18 333.28 L467.50 333.92 L467.55 334.43 L467.59 334.85 L467.66 335.84 L467.71 336.75 L467.77 337.77 L467.82 338.90 L467.87 340.10 L467.93 341.36 L467.98 342.26 L468.03 342.81 L468.07 343.18 L468.14 343.82 L468.20 344.27 L468.25 344.66 L468.30 345.00 L468.41 345.50 L468.52 345.80 L468.84 345.88 L469.11 345.55 L469.43 345.27 L469.75 345.31" fill="none" stroke="#1c1c1c" stroke-width="1.2" stroke-dasharray="5.6 2.3 1.2 2.3" stroke-dashoffset="5.6" stroke-linejoin="round"/>
<path d="M483.29 345.10 L483.37 344.69 L483.42 344.30 L483.48 343.77 L483.52 343.24 L483.55 342.71 L483.58 342.20 L483.61 341.74 L483.64 341.09 L483.66 340.53 L483.69 339.74 L483.72 339.06 L483.75 338.12 L483.77 337.31 L483.82 335.28 L483.88 332.96 L483.93 330.33 L483.98 327.43 L484.00 326.35 L484.04 324.26 L484.09 320.84 L484.14 317.21 L484.20 313.39 L484.25 309.43 L484.31 305.35 L484.36 301.19 L484.41 296.99 L484.47 292.78 L484.49 291.30 L484.52 288.59 L484.57 284.46 L484.63 280.41 L484.68 276.47 L484.73 272.69 L484.79 269.11 L484.84 265.77 L484.90 262.76 L484.95 260.16 L484.97 259.36 L485.00 258.10 L485.06 256.74 L485.11 256.29 L485.16 256.99 L485.22 259.16 L485.27 263.15 L485.32 269.30 L485.38 277.92 L485.43 289.18 L485.45 293.86 L485.49 303.01 L485.54 319.04 L485.59 336.57 L485.65 354.63 L485.70 372.16 L485.75 388.19 L485.81 402.02 L485.86 413.28 L485.91 421.90 L485.93 424.40 L485.97 428.05 L486.02 432.04 L486.08 434.21 L486.13 434.92 L486.18 434.46 L486.24 433.10 L486.29 431.04 L486.34 428.44 L486.40 425.43 L486.42 424.24 L486.45 422.09 L486.50 418.50 L486.56 414.72 L486.61 410.78 L486.66 406.73 L486.69 404.81 L486.72 402.59 L486.74 400.64 L486.77 398.40 L486.80 396.43 L486.83 394.19 L486.85 392.22 L486.88 389.98 L486.90 388.44 L486.90 388.03 L486.93 385.82 L486.96 383.90 L486.99 381.73 L487.01 379.86 L487.04 377.76 L487.07 375.96 L487.09 373.94 L487.12 372.22 L487.15 370.30 L487.17 368.68 L487.20 366.88 L487.23 365.37 L487.25 363.71 L487.28 362.31 L487.31 360.80 L487.33 359.54 L487.36 358.17 L487.38 357.27 L487.42 355.84 L487.44 354.85 L487.47 353.80 L487.49 352.95 L487.52 352.06 L487.55 351.34 L487.58 350.59 L487.60 349.99 L487.63 349.37 L487.66 348.89 L487.68 348.39 L487.71 348.01 L487.74 347.62 L487.79 347.02 L487.84 346.57 L487.90 346.24" fill="none" stroke="#1c1c1c" stroke-width="1.2" stroke-dasharray="5.6 2.3 1.2 2.3" stroke-dashoffset="5.6" stroke-linejoin="round"/>
<path d="M500.42 345.58 L500.74 345.76 L501.01 346.08 L501.28 346.40 L501.60 346.51 L501.92 346.40 L502.24 346.61 L502.40 347.12 L502.51 347.65 L502.56 347.98 L502.62 348.34 L502.67 348.73 L502.72 349.13 L502.78 349.75 L502.83 350.58 L502.88 351.38 L502.94 352.12 L502.99 352.79 L503.04 353.39 L503.10 353.89 L503.15 354.31 L503.21 354.64 L503.31 355.04 L503.63 354.55 L503.74 353.95 L503.80 353.58 L503.85 353.18 L503.90 352.75 L503.96 352.29 L504.01 351.81 L504.06 351.32 L504.12 350.81 L504.17 350.30 L504.22 349.80 L504.28 349.30 L504.33 348.82 L504.39 348.37 L504.44 347.95 L504.49 347.56 L504.55 347.20 L504.60 346.89 L504.71 346.39 L504.81 346.03 L504.98 345.73" fill="none" stroke="#1c1c1c" stroke-width="1.2" stroke-dasharray="5.6 2.3 1.2 2.3" stroke-dashoffset="5.6" stroke-linejoin="round"/>
<path d="M302.00 345.52 L302.48 345.51 L302.97 345.51 L303.45 345.51 L303.93 345.50 L304.41 345.50 L304.90 345.50 L305.38 345.49 L305.86 345.49 L306.34 345.48 L306.83 345.48 L307.31 345.47 L307.79 345.47 L308.28 345.46 L308.76 345.45 L309.24 345.45 L309.72 345.44 L310.21 345.43 L310.69 345.42 L311.17 345.41 L311.66 345.40 L312.14 345.39 L312.62 345.38 L313.10 345.37 L313.59 345.35 L314.07 345.34 L314.55 345.32 L315.03 345.31 L315.52 345.29 L316.00 345.27 L316.48 345.25 L316.97 345.23 L317.45 345.21 L317.93 345.19 L318.41 345.17 L318.90 345.14 L319.38 345.12 L319.86 345.09 L320.35 345.06 L320.83 345.03 L321.31 344.99 L321.79 344.96 L322.28 344.92 L322.76 344.88 L323.24 344.84 L323.72 344.80 L324.21 344.76 L324.69 344.71 L325.17 344.66 L325.66 344.61 L326.14 344.55 L326.62 344.50 L327.10 344.44 L327.59 344.37 L328.07 344.31 L328.55 344.24 L329.03 344.16 L329.52 344.09 L330.00 344.01 L330.48 343.92 L330.97 343.83 L331.45 343.74 L331.93 343.64 L332.41 343.54 L332.90 343.43 L333.38 343.32 L333.86 343.20 L334.35 343.08 L334.83 342.95 L335.31 342.81 L335.79 342.67 L336.28 342.52 L336.76 342.36 L337.24 342.19 L337.72 342.02 L338.21 341.83 L338.69 341.64 L339.17 341.44 L339.66 341.22 L340.01 341.06 L340.33 340.90 L340.65 340.74 L340.97 340.57 L341.30 340.39 L341.62 340.21 L341.94 340.02 L342.26 339.82 L342.58 339.61 L342.90 339.40 L343.23 339.17 L343.55 338.94 L343.87 338.69 L344.19 338.43 L344.51 338.16 L344.83 337.88 L345.16 337.58 L345.48 337.26 L345.80 336.93 L346.12 336.58 L346.39 336.27 L346.66 335.95 L346.90 335.65 L347.14 335.32 L347.38 334.99 L347.62 334.64 L347.84 334.31 L348.05 333.97 L348.27 333.61 L348.48 333.24 L348.70 332.84 L348.86 332.53 L349.02 332.21 L349.18 331.88 L349.34 331.53 L349.50 331.17 L349.66 330.80 L349.79 330.47 L349.93 330.13 L350.09 329.71 L350.25 329.28 L350.36 328.97 L350.47 328.66 L350.57 328.34 L350.68 328.00 L350.79 327.66 L350.89 327.31 L351.00 326.94 L351.11 326.56 L351.22 326.17 L351.32 325.77 L351.43 325.36 L351.54 324.93 L351.64 324.48 L351.72 324.14 L351.81 323.79 L351.91 323.30 L352.02 322.80 L352.13 322.28 L352.21 321.89 L352.29 321.48 L352.40 320.91 L352.50 320.33 L352.61 319.73 L352.66 319.43 L352.72 319.11 L352.77 318.80 L352.82 318.48 L352.88 318.15 L352.93 317.82 L352.99 317.49 L353.04 317.15 L353.09 316.81 L353.15 316.46 L353.20 316.11 L353.25 315.75 L353.31 315.40 L353.36 315.04 L353.41 314.68 L353.47 314.31 L353.52 313.95 L353.58 313.58 L353.63 313.22 L353.68 312.85 L353.74 312.49 L353.79 312.14 L353.84 311.78 L353.90 311.44 L353.95 311.10 L354.00 310.77 L354.06 310.45 L354.11 310.15 L354.22 309.60 L354.33 309.14 L354.43 308.81 L354.76 308.98 L354.86 309.60 L354.92 310.05 L354.97 310.61 L355.02 311.28 L355.08 312.07 L355.10 312.52 L355.13 312.99 L355.18 314.05 L355.24 315.26 L355.29 316.63 L355.34 318.15 L355.40 319.82 L355.45 321.66 L355.51 323.66 L355.56 325.81 L355.59 326.97 L355.61 328.11 L355.67 330.54 L355.72 333.09 L355.77 335.75 L355.83 338.48 L355.88 341.29 L355.93 344.12 L355.99 346.77 L356.04 349.21 L356.07 350.45 L356.10 351.62 L356.15 353.99 L356.20 356.30 L356.26 358.55 L356.31 360.71 L356.36 362.79 L356.42 364.76 L356.47 366.63 L356.52 368.39 L356.55 369.25 L356.58 370.02 L356.63 371.54 L356.69 372.94 L356.74 374.23 L356.79 375.39 L356.85 376.44 L356.90 377.39 L356.95 378.22 L357.01 378.96 L357.04 379.31 L357.11 380.15 L357.17 380.62 L357.22 381.01 L357.28 381.33 L357.38 381.76 L357.70 381.86 L357.87 381.43 L357.97 381.03 L358.08 380.56 L358.19 380.04 L358.29 379.47 L358.40 378.88 L358.46 378.57 L358.51 378.27 L358.56 377.96 L358.62 377.64 L358.67 377.33 L358.72 377.01 L358.78 376.70 L358.83 376.38 L358.88 376.07 L358.94 375.76 L358.99 375.45 L359.04 375.14 L359.10 374.83 L359.15 374.52 L359.21 374.22 L359.31 373.62 L359.42 373.04 L359.53 372.47 L359.63 371.91 L359.74 371.36 L359.85 370.83 L359.93 370.43 L360.01 370.06 L360.12 369.57 L360.22 369.09 L360.33 368.62 L360.41 368.27 L360.49 367.94 L360.60 367.50 L360.71 367.08 L360.81 366.67 L360.90 366.36 L361.03 365.88 L361.14 365.51 L361.24 365.14 L361.35 364.78 L361.46 364.44 L361.57 364.10 L361.67 363.77 L361.78 363.45 L361.89 363.14 L361.99 362.84 L362.16 362.40 L362.32 361.98 L362.48 361.58 L362.64 361.19 L362.80 360.81 L362.96 360.45 L363.12 360.10 L363.28 359.76 L363.44 359.44 L363.60 359.13 L363.76 358.82 L363.98 358.43 L364.19 358.06 L364.41 357.71 L364.62 357.37 L364.84 357.04 L365.05 356.72 L365.27 356.42 L365.53 356.06 L365.80 355.71 L366.07 355.38 L366.34 355.07 L366.61 354.77 L366.93 354.42 L367.25 354.09 L367.57 353.78 L367.89 353.48 L368.21 353.20 L368.54 352.92 L368.86 352.66 L369.18 352.42 L369.50 352.18 L369.82 351.95 L370.14 351.73 L370.47 351.52 L370.79 351.31 L371.11 351.12 L371.43 350.93 L371.75 350.75 L372.48 350.36 L372.97 350.12 L373.45 349.90 L373.93 349.68 L374.41 349.48 L374.90 349.29 L375.38 349.10 L375.86 348.93 L376.35 348.76 L376.83 348.60 L377.31 348.45 L377.79 348.30 L378.28 348.16 L378.76 348.03 L379.24 347.91 L379.73 347.79 L380.21 347.67 L380.69 347.57 L381.17 347.46 L381.66 347.36 L382.14 347.27 L382.62 347.18 L383.10 347.09 L383.59 347.01 L384.07 346.93 L384.55 346.86 L385.04 346.79 L385.52 346.72 L386.00 346.66 L386.48 346.60 L386.97 346.54 L387.45 346.48 L387.93 346.43 L388.42 346.38 L388.90 346.33 L389.38 346.29 L389.86 346.24 L390.35 346.20 L390.83 346.16 L391.31 346.13 L391.79 346.09 L392.28 346.06 L392.76 346.03 L393.24 346.00 L393.73 345.97 L394.21 345.94 L394.69 345.92 L395.17 345.90 L395.66 345.87 L396.14 345.85 L396.62 345.83 L397.10 345.81 L397.59 345.79 L398.07 345.78 L398.55 345.76 L399.04 345.75 L399.52 345.73 L400.00 345.72 L400.48 345.71 L400.97 345.69 L401.45 345.68 L401.93 345.67 L402.42 345.66 L402.90 345.65 L403.38 345.64 L403.86 345.63 L404.35 345.63 L404.83 345.62 L405.31 345.61 L405.79 345.60 L406.28 345.60 L406.76 345.59 L407.24 345.58 L407.73 345.58 L408.21 345.57 L408.69 345.57 L409.17 345.56 L409.66 345.55 L410.14 345.55 L410.62 345.54 L411.11 345.54 L411.59 345.53 L412.07 345.53 L412.55 345.52 L413.04 345.52 L413.52 345.51 L414.00 345.51 L414.48 345.50 L414.97 345.50 L415.45 345.49 L415.93 345.49 L416.42 345.48 L416.90 345.48 L417.38 345.47 L417.86 345.46 L418.35 345.46 L418.83 345.45 L419.31 345.44 L419.79 345.44 L420.28 345.43 L420.76 345.42 L421.24 345.41 L421.73 345.40 L422.21 345.39 L422.69 345.38 L423.17 345.37 L423.66 345.36 L424.14 345.35 L424.62 345.34 L425.11 345.33 L425.59 345.32 L426.07 345.30 L426.55 345.29 L427.04 345.27 L427.52 345.26 L428.00 345.24 L428.48 345.22 L428.97 345.20 L429.45 345.18 L429.93 345.16 L430.42 345.13 L430.90 345.11 L431.38 345.08 L431.86 345.05 L432.35 345.02 L432.83 344.99 L433.31 344.95 L433.79 344.91 L434.28 344.87 L434.76 344.82 L435.24 344.77 L435.73 344.72 L436.21 344.65 L436.69 344.58 L437.17 344.50 L437.66 344.41 L438.14 344.31 L438.62 344.19 L439.11 344.05 L439.59 343.87 L440.07 343.66 L440.55 343.39 L441.04 343.04 L441.52 342.61 L442.00 342.15 L442.48 342.16 L442.97 344.29 L443.45 346.30 L443.93 346.62 L444.42 346.38 L444.90 346.09 L445.38 345.85 L445.86 345.65 L446.35 345.48 L446.83 345.34 L447.31 345.21 L447.80 345.10 L448.28 344.99 L448.76 344.88 L449.24 344.78 L449.73 344.68 L450.21 344.58 L450.69 344.48 L451.17 344.38 L451.63 344.29 L451.95 344.22 L452.27 344.15 L452.59 344.07 L452.91 344.00 L453.23 343.92 L453.56 343.84 L453.88 343.76 L454.20 343.68 L454.52 343.59 L454.84 343.51 L455.16 343.41 L455.49 343.32 L455.81 343.22 L456.13 343.12 L456.45 343.02 L456.77 342.91 L457.10 342.79 L457.42 342.67 L457.74 342.55 L458.06 342.42 L458.38 342.29 L458.70 342.14 L459.03 341.99 L459.35 341.84 L459.67 341.67 L459.99 341.49 L460.31 341.31 L460.63 341.11 L460.96 340.90 L461.28 340.67 L461.60 340.43 L461.92 340.17 L462.24 339.89 L462.56 339.58 L462.89 339.25 L463.15 338.95 L463.42 338.62 L463.69 338.26 L463.91 337.95 L464.12 337.61 L464.33 337.25 L464.55 336.86 L464.71 336.54 L464.87 336.20 L465.03 335.83 L465.17 335.49 L465.30 335.17 L465.46 334.73 L465.57 334.42 L465.67 334.10 L465.78 333.76 L465.89 333.41 L466.00 333.05 L466.10 332.67 L466.21 332.28 L466.32 331.89 L466.43 331.49 L466.53 331.11 L466.62 330.79 L466.75 330.41 L466.91 330.03 L467.23 330.24 L467.34 330.82 L467.39 331.24 L467.44 331.76 L467.50 332.40 L467.55 333.15 L467.59 333.74 L467.66 335.01 L467.71 336.11 L467.77 337.32 L467.82 338.60 L467.87 339.96 L467.93 341.35 L467.98 342.35 L468.03 342.96 L468.07 343.36 L468.14 344.07 L468.20 344.56 L468.25 345.00 L468.30 345.37 L468.36 345.68 L468.46 346.13 L468.62 346.43 L468.95 346.27 L469.16 345.91 L469.32 345.61 L469.48 345.30 L469.64 344.99 L469.83 344.66 L470.02 344.34 L470.23 344.00 L470.45 343.69 L470.69 343.36 L470.93 343.05 L471.20 342.73 L471.47 342.42 L471.76 342.10 L472.06 341.79 L472.38 341.46 L472.70 341.14 L473.02 340.82 L473.34 340.50 L473.66 340.18 L473.99 339.85 L474.28 339.55 L474.58 339.23 L474.87 338.92 L475.14 338.62 L475.40 338.31 L475.67 337.99 L475.92 337.68 L476.15 337.38 L476.40 337.05 L476.64 336.72 L476.85 336.41 L477.07 336.09 L477.28 335.76 L477.47 335.45 L477.66 335.14 L477.85 334.80 L478.03 334.46 L478.19 334.16 L478.35 333.84 L478.51 333.51 L478.68 333.17 L478.81 332.86 L478.97 332.49 L479.10 332.18 L479.24 331.84 L479.37 331.50 L479.51 331.14 L479.64 330.77 L479.75 330.46 L479.85 330.14 L479.96 329.81 L480.07 329.47 L480.18 329.12 L480.28 328.75 L480.39 328.37 L480.47 328.06 L480.58 327.65 L480.66 327.35 L480.74 327.01 L480.82 326.69 L480.90 326.33 L480.98 325.98 L481.06 325.60 L481.14 325.23 L481.23 324.82 L481.30 324.43 L481.39 323.99 L481.46 323.57 L481.55 323.10 L481.60 322.79 L481.65 322.47 L481.71 322.15 L481.76 321.81 L481.82 321.47 L481.87 321.12 L481.92 320.75 L481.98 320.38 L482.03 320.00 L482.07 319.70 L482.14 319.21 L482.19 318.79 L482.24 318.36 L482.30 317.93 L482.35 317.47 L482.41 317.01 L482.46 316.53 L482.51 316.03 L482.55 315.64 L482.59 315.29 L482.64 314.76 L482.67 314.46 L482.73 313.89 L482.78 313.32 L482.83 312.72 L482.89 312.10 L482.94 311.46 L482.99 310.79 L483.02 310.49 L483.05 310.10 L483.07 309.79 L483.10 309.39 L483.13 309.07 L483.16 308.65 L483.18 308.32 L483.21 307.88 L483.23 307.54 L483.26 307.09 L483.29 306.73 L483.32 306.26 L483.34 305.89 L483.37 305.40 L483.39 305.01 L483.42 304.51 L483.45 304.10 L483.48 303.58 L483.50 303.15 L483.52 302.82 L483.55 302.17 L483.58 301.60 L483.61 301.14 L483.64 300.54 L483.66 300.07 L483.69 299.45 L483.72 298.95 L483.75 298.30 L483.77 297.78 L483.82 296.56 L483.88 295.29 L483.93 293.95 L483.98 292.56 L484.00 292.06 L484.04 291.11 L484.09 289.58 L484.14 287.99 L484.20 286.33 L484.25 284.59 L484.31 282.77 L484.36 280.88 L484.41 278.91 L484.47 276.86 L484.49 276.12 L484.52 274.74 L484.57 272.56 L484.63 270.33 L484.68 268.07 L484.73 265.80 L484.79 263.56 L484.84 261.40 L484.90 259.41 L484.95 257.67 L484.97 257.14 L485.00 256.32 L485.06 255.53 L485.16 256.55 L485.22 258.96 L485.27 263.11 L485.32 269.36 L485.38 278.03 L485.43 289.31 L485.45 294.00 L485.49 303.15 L485.54 319.18 L485.59 336.71 L485.65 355.77 L485.70 375.10 L485.75 392.43 L485.81 406.88 L485.86 418.12 L485.91 426.22 L485.93 428.45 L485.97 431.57 L486.02 434.65 L486.08 435.95 L486.18 434.99 L486.24 433.38 L486.29 431.34 L486.34 429.04 L486.40 426.59 L486.42 425.68 L486.45 424.08 L486.50 421.56 L486.56 419.07 L486.61 416.65 L486.66 414.31 L486.69 413.25 L486.72 412.06 L486.74 411.04 L486.77 409.90 L486.80 408.92 L486.83 407.84 L486.85 406.91 L486.88 405.87 L486.90 405.17 L486.93 403.99 L486.96 403.15 L486.99 402.21 L487.01 401.41 L487.04 400.51 L487.07 399.75 L487.09 398.90 L487.12 398.17 L487.15 397.36 L487.17 396.67 L487.20 395.90 L487.23 395.24 L487.25 394.50 L487.28 393.88 L487.31 393.18 L487.33 392.58 L487.36 391.91 L487.38 391.46 L487.42 390.71 L487.44 390.16 L487.47 389.56 L487.49 389.04 L487.52 388.46 L487.55 387.96 L487.58 387.41 L487.60 386.93 L487.63 386.40 L487.66 385.95 L487.68 385.44 L487.71 385.01 L487.74 384.52 L487.76 384.10 L487.79 383.64 L487.82 383.24 L487.84 382.79 L487.86 382.48 L487.90 381.98 L487.92 381.61 L487.95 381.20 L487.98 380.85 L488.01 380.45 L488.03 380.11 L488.06 379.73 L488.08 379.40 L488.11 379.04 L488.14 378.72 L488.17 378.37 L488.19 378.06 L488.22 377.72 L488.27 377.10 L488.33 376.50 L488.38 375.93 L488.43 375.37 L488.49 374.83 L488.54 374.31 L488.60 373.80 L488.65 373.32 L488.70 372.84 L488.76 372.38 L488.81 371.94 L488.86 371.51 L488.92 371.09 L488.97 370.69 L489.02 370.29 L489.08 369.91 L489.13 369.54 L489.19 369.18 L489.24 368.83 L489.29 368.49 L489.35 368.15 L489.40 367.83 L489.45 367.51 L489.51 367.21 L489.59 366.77 L489.67 366.33 L489.75 365.92 L489.83 365.52 L489.91 365.14 L489.99 364.76 L490.07 364.41 L490.15 364.05 L490.23 363.72 L490.31 363.39 L490.39 363.08 L490.47 362.77 L490.58 362.37 L490.69 361.99 L490.79 361.63 L490.90 361.28 L491.01 360.95 L491.12 360.62 L491.22 360.31 L491.33 360.01 L491.46 359.65 L491.60 359.30 L491.73 358.98 L491.87 358.64 L492.00 358.34 L492.13 358.04 L492.30 357.70 L492.46 357.37 L492.62 357.06 L492.80 356.71 L492.99 356.38 L493.18 356.07 L493.37 355.75 L493.58 355.42 L493.80 355.11 L494.01 354.81 L494.25 354.48 L494.49 354.17 L494.76 353.85 L495.03 353.54 L495.32 353.21 L495.62 352.90 L495.94 352.58 L496.26 352.28 L496.59 351.99 L496.91 351.71 L497.23 351.44 L497.55 351.18 L497.87 350.93 L498.19 350.69 L498.52 350.45 L498.84 350.21 L499.16 349.98 L499.48 349.74 L499.80 349.51 L500.12 349.26 L500.45 349.01 L500.77 348.73 L501.09 348.44 L501.41 348.12 L501.70 347.81 L502.03 347.52 L502.35 347.59 L502.51 347.95 L502.62 348.35 L502.72 348.84 L502.78 349.37 L502.83 350.16 L502.88 350.91 L502.94 351.58 L502.99 352.17 L503.04 352.67 L503.10 353.07 L503.15 353.38 L503.26 353.76 L503.58 353.72 L503.74 353.41 L503.90 353.05 L504.06 352.69 L504.22 352.35 L504.39 352.03 L504.60 351.64 L504.81 351.30 L505.03 351.00 L505.30 350.67 L505.62 350.33 L505.94 350.03 L506.26 349.77 L506.58 349.54 L506.91 349.33 L507.23 349.14 L507.55 348.97 L507.87 348.81 L508.19 348.66 L508.51 348.53 L508.84 348.40 L509.16 348.28 L509.48 348.17 L509.80 348.06 L510.12 347.96 L510.44 347.87 L510.77 347.78 L511.09 347.69 L511.41 347.61 L511.73 347.53 L512.05 347.46 L512.38 347.39 L512.70 347.32 L513.02 347.25 L513.34 347.19 L513.66 347.13 L513.98 347.07 L514.31 347.02 L514.63 346.96 L514.95 346.91 L515.27 346.86 L515.59 346.81 L515.91 346.77 L516.24 346.72 L516.56 346.68 L516.88 346.64 L517.20 346.60 L517.52 346.56 L517.84 346.52 L518.17 346.49 L518.49 346.45 L518.81 346.42 L519.24 346.37 L519.73 346.33 L520.21 346.29 L520.69 346.24 L521.18 346.21 L521.66 346.17 L522.14 346.13 L522.62 346.10 L523.11 346.07 L523.59 346.04 L524.07 346.01 L524.55 345.98 L525.04 345.96 L525.52 345.93 L526.00 345.91 L526.49 345.89 L526.97 345.87 L527.45 345.85 L527.93 345.83 L528.42 345.82 L528.90 345.80 L529.38 345.78 L529.87 345.77 L530.35 345.76 L530.83 345.74 L531.31 345.73 L531.80 345.72 L532.28 345.71 L532.76 345.70 L533.24 345.69 L533.73 345.68 L534.21 345.67 L534.69 345.66 L535.18 345.66 L535.66 345.65 L536.14 345.64 L536.62 345.64 L537.11 345.63 L537.59 345.63 L538.07 345.62 L538.56 345.62 L539.04 345.61 L539.52 345.61 L540.00 345.60 L540.49 345.60 L540.97 345.60 L541.45 345.59 L541.93 345.59 L542.42 345.59 L542.90 345.58" fill="none" stroke="#24997a" stroke-width="1.55" stroke-dasharray="5.6 2.3 1.2 2.3" stroke-dashoffset="0" stroke-linejoin="round"/>
<path d="M302.00 345.51 L302.48 345.51 L302.97 345.51 L303.45 345.50 L303.93 345.50 L304.41 345.49 L304.90 345.49 L305.38 345.49 L305.86 345.48 L306.34 345.47 L306.83 345.47 L307.31 345.46 L307.79 345.46 L308.28 345.45 L308.76 345.44 L309.24 345.43 L309.72 345.42 L310.21 345.41 L310.69 345.40 L311.17 345.39 L311.66 345.38 L312.14 345.37 L312.62 345.35 L313.10 345.34 L313.59 345.33 L314.07 345.31 L314.55 345.29 L315.03 345.28 L315.52 345.26 L316.00 345.24 L316.48 345.22 L316.97 345.19 L317.45 345.17 L317.93 345.14 L318.41 345.12 L318.90 345.09 L319.38 345.06 L319.86 345.03 L320.35 344.99 L320.83 344.96 L321.31 344.92 L321.79 344.88 L322.28 344.84 L322.76 344.80 L323.24 344.75 L323.72 344.70 L324.21 344.65 L324.69 344.60 L325.17 344.55 L325.66 344.49 L326.14 344.42 L326.62 344.36 L327.10 344.29 L327.59 344.22 L328.07 344.15 L328.55 344.07 L329.03 343.98 L329.52 343.90 L330.00 343.81 L330.48 343.71 L330.97 343.61 L331.45 343.51 L331.93 343.40 L332.41 343.28 L332.90 343.16 L333.38 343.03 L333.86 342.90 L334.35 342.76 L334.83 342.62 L335.31 342.46 L335.79 342.30 L336.28 342.14 L336.76 341.96 L337.24 341.77 L337.72 341.58 L338.21 341.37 L338.69 341.16 L339.17 340.93 L339.66 340.69 L340.01 340.50 L340.33 340.33 L340.65 340.15 L340.97 339.96 L341.30 339.77 L341.62 339.56 L341.94 339.35 L342.26 339.14 L342.58 338.91 L342.90 338.67 L343.23 338.42 L343.55 338.16 L343.87 337.89 L344.19 337.61 L344.51 337.32 L344.83 337.01 L345.16 336.68 L345.45 336.37 L345.75 336.04 L346.01 335.73 L346.28 335.41 L346.55 335.07 L346.82 334.72 L347.09 334.35 L347.30 334.04 L347.52 333.71 L347.73 333.38 L347.95 333.03 L348.16 332.67 L348.35 332.34 L348.53 332.00 L348.70 331.69 L348.86 331.38 L349.02 331.06 L349.18 330.72 L349.34 330.38 L349.50 330.02 L349.66 329.65 L349.79 329.33 L349.93 329.00 L350.09 328.60 L350.25 328.18 L350.41 327.74 L350.57 327.30 L350.68 326.99 L350.79 326.67 L350.89 326.35 L351.00 326.02 L351.11 325.69 L351.22 325.34 L351.32 324.99 L351.43 324.64 L351.54 324.27 L351.64 323.90 L351.75 323.52 L351.86 323.14 L351.97 322.75 L352.07 322.35 L352.18 321.95 L352.29 321.55 L352.40 321.15 L352.50 320.74 L352.61 320.33 L352.69 320.03 L352.77 319.73 L352.88 319.33 L352.99 318.94 L353.09 318.56 L353.20 318.20 L353.31 317.87 L353.41 317.55 L353.58 317.15 L353.74 316.85 L354.06 316.68 L354.27 317.04 L354.38 317.40 L354.49 317.91 L354.54 318.22 L354.59 318.58 L354.65 318.99 L354.70 319.44 L354.76 319.95 L354.81 320.50 L354.86 321.11 L354.92 321.78 L354.97 322.50 L355.02 323.29 L355.08 324.13 L355.10 324.58 L355.13 325.03 L355.18 326.00 L355.24 327.02 L355.29 328.10 L355.34 329.25 L355.40 330.45 L355.45 331.70 L355.51 333.01 L355.56 334.36 L355.59 335.07 L355.61 335.76 L355.67 337.19 L355.72 338.67 L355.77 340.16 L355.83 341.69 L355.88 343.23 L355.93 344.77 L355.99 346.16 L356.04 347.37 L356.07 348.00 L356.10 348.58 L356.15 349.78 L356.20 350.97 L356.26 352.13 L356.31 353.28 L356.36 354.40 L356.42 355.50 L356.47 356.56 L356.52 357.59 L356.55 358.11 L356.58 358.59 L356.63 359.54 L356.69 360.46 L356.74 361.34 L356.79 362.18 L356.85 362.98 L356.90 363.73 L356.95 364.45 L357.01 365.12 L357.04 365.45 L357.11 366.34 L357.17 366.89 L357.22 367.39 L357.28 367.86 L357.33 368.30 L357.38 368.69 L357.44 369.05 L357.49 369.38 L357.60 369.94 L357.70 370.38 L357.81 370.71 L357.97 371.04 L358.29 371.17 L358.62 370.82 L358.83 370.41 L358.97 370.10 L359.10 369.76 L359.26 369.33 L359.37 369.03 L359.47 368.72 L359.58 368.40 L359.69 368.08 L359.80 367.76 L359.90 367.44 L360.01 367.11 L360.12 366.79 L360.22 366.47 L360.33 366.15 L360.44 365.83 L360.55 365.52 L360.65 365.22 L360.76 364.91 L360.90 364.53 L361.03 364.17 L361.19 363.74 L361.35 363.32 L361.51 362.92 L361.67 362.52 L361.83 362.13 L361.99 361.76 L362.16 361.40 L362.32 361.04 L362.48 360.70 L362.64 360.37 L362.80 360.05 L362.96 359.73 L363.12 359.43 L363.31 359.08 L363.50 358.76 L363.71 358.39 L363.92 358.04 L364.14 357.70 L364.35 357.37 L364.57 357.06 L364.78 356.76 L365.05 356.39 L365.32 356.04 L365.59 355.71 L365.85 355.39 L366.12 355.08 L366.44 354.73 L366.77 354.40 L367.09 354.08 L367.41 353.77 L367.73 353.48 L368.05 353.20 L368.38 352.94 L368.70 352.68 L369.02 352.44 L369.34 352.20 L369.66 351.97 L369.98 351.76 L370.31 351.55 L370.63 351.35 L370.95 351.15 L371.27 350.96 L371.59 350.78 L371.91 350.61 L372.48 350.32 L372.97 350.08 L373.45 349.86 L373.93 349.65 L374.41 349.45 L374.90 349.26 L375.38 349.08 L375.86 348.90 L376.35 348.74 L376.83 348.58 L377.31 348.43 L377.79 348.29 L378.28 348.15 L378.76 348.02 L379.24 347.90 L379.73 347.78 L380.21 347.66 L380.69 347.56 L381.17 347.45 L381.66 347.36 L382.14 347.26 L382.62 347.17 L383.10 347.09 L383.59 347.01 L384.07 346.93 L384.55 346.85 L385.04 346.78 L385.52 346.72 L386.00 346.65 L386.48 346.59 L386.97 346.54 L387.45 346.48 L387.93 346.43 L388.42 346.38 L388.90 346.33 L389.38 346.29 L389.86 346.24 L390.35 346.20 L390.83 346.16 L391.31 346.13 L391.79 346.09 L392.28 346.06 L392.76 346.03 L393.24 346.00 L393.73 345.97 L394.21 345.95 L394.69 345.92 L395.17 345.90 L395.66 345.88 L396.14 345.86 L396.62 345.84 L397.10 345.82 L397.59 345.80 L398.07 345.78 L398.55 345.77 L399.04 345.75 L399.52 345.74 L400.00 345.73 L400.48 345.72 L400.97 345.70 L401.45 345.69 L401.93 345.68 L402.42 345.67 L402.90 345.66 L403.38 345.66 L403.86 345.65 L404.35 345.64 L404.83 345.63 L405.31 345.63 L405.79 345.62 L406.28 345.62 L406.76 345.61 L407.24 345.61 L407.73 345.60 L408.21 345.60 L408.69 345.59 L409.17 345.59 L409.66 345.59 L410.14 345.58 L410.62 345.58 L411.11 345.58 L411.59 345.57 L412.07 345.57 L412.55 345.57 L413.04 345.57 L413.52 345.56 L414.00 345.56 L414.48 345.56 L414.97 345.56 L415.45 345.56 L415.93 345.55 L416.42 345.55 L416.90 345.55 L417.38 345.55 L417.86 345.55 L418.35 345.55 L418.83 345.54 L419.31 345.54 L419.79 345.54 L420.28 345.54 L420.76 345.54 L421.24 345.53 L421.73 345.53 L422.21 345.53 L422.69 345.53 L423.17 345.53 L423.66 345.52 L424.14 345.52 L424.62 345.52 L425.11 345.52 L425.59 345.51 L426.07 345.51 L426.55 345.51 L427.04 345.50 L427.52 345.50 L428.00 345.50 L428.48 345.49 L428.97 345.49 L429.45 345.48 L429.93 345.48 L430.42 345.47 L430.90 345.47 L431.38 345.46 L431.86 345.45 L432.35 345.45 L432.83 345.44 L433.31 345.43 L433.79 345.42 L434.28 345.41 L434.76 345.40 L435.24 345.39 L435.73 345.38 L436.21 345.37 L436.69 345.36 L437.17 345.35 L437.66 345.34 L438.14 345.32 L438.62 345.31 L439.11 345.29 L439.59 345.27 L440.07 345.26 L440.55 345.24 L441.04 345.22 L441.52 345.20 L442.00 345.18 L442.48 345.15 L442.97 345.13 L443.45 345.10 L443.93 345.08 L444.42 345.05 L444.90 345.02 L445.38 344.99 L445.86 344.95 L446.35 344.92 L446.83 344.88 L447.31 344.84 L447.80 344.80 L448.28 344.76 L448.76 344.71 L449.24 344.66 L449.73 344.61 L450.21 344.56 L450.69 344.50 L451.17 344.44 L451.63 344.38 L451.95 344.34 L452.27 344.29 L452.59 344.24 L452.91 344.19 L453.23 344.14 L453.56 344.09 L453.88 344.04 L454.20 343.98 L454.52 343.92 L454.84 343.86 L455.16 343.79 L455.49 343.73 L455.81 343.66 L456.13 343.59 L456.45 343.51 L456.77 343.43 L457.10 343.35 L457.42 343.27 L457.74 343.18 L458.06 343.08 L458.38 342.99 L458.70 342.88 L459.03 342.77 L459.35 342.66 L459.67 342.54 L459.99 342.42 L460.31 342.28 L460.63 342.14 L460.96 341.99 L461.28 341.83 L461.60 341.66 L461.92 341.48 L462.24 341.29 L462.56 341.08 L462.89 340.85 L463.21 340.61 L463.53 340.34 L463.85 340.05 L464.17 339.73 L464.50 339.39 L464.76 339.08 L465.03 338.75 L465.30 338.40 L465.57 338.06 L465.84 337.72 L466.14 337.41 L466.48 337.27 L466.80 337.57 L466.96 337.96 L467.07 338.34 L467.18 338.81 L467.28 339.39 L467.34 339.71 L467.39 340.06 L467.44 340.42 L467.50 340.80 L467.55 341.20 L467.61 341.60 L467.66 342.01 L467.71 342.31 L467.82 342.68 L467.93 343.03 L468.03 343.35 L468.20 343.75 L468.41 344.11 L468.73 344.33 L469.04 344.28 L469.37 344.07 L469.70 343.79 L470.00 343.50 L470.31 343.21 L470.63 342.91 L470.95 342.61 L471.28 342.31 L471.60 342.03 L471.92 341.74 L472.24 341.46 L472.56 341.18 L472.88 340.90 L473.21 340.61 L473.53 340.32 L473.85 340.02 L474.17 339.72 L474.49 339.40 L474.81 339.08 L475.11 338.77 L475.40 338.45 L475.67 338.15 L475.94 337.84 L476.21 337.51 L476.45 337.20 L476.69 336.89 L476.94 336.55 L477.15 336.24 L477.36 335.92 L477.58 335.59 L477.76 335.29 L477.95 334.96 L478.14 334.64 L478.33 334.29 L478.49 333.98 L478.65 333.66 L478.81 333.32 L478.97 332.97 L479.13 332.61 L479.27 332.30 L479.40 331.97 L479.53 331.64 L479.66 331.31 L479.78 330.98 L479.88 330.68 L479.99 330.37 L480.10 330.05 L480.21 329.71 L480.31 329.37 L480.42 329.01 L480.53 328.64 L480.62 328.30 L480.71 327.97 L480.80 327.65 L480.87 327.34 L480.96 327.01 L481.03 326.68 L481.11 326.38 L481.20 325.98 L481.28 325.60 L481.36 325.23 L481.44 324.82 L481.52 324.43 L481.59 324.06 L481.65 323.71 L481.73 323.28 L481.79 322.98 L481.84 322.67 L481.89 322.35 L481.95 322.02 L482.00 321.68 L482.05 321.34 L482.11 320.99 L482.16 320.63 L482.21 320.25 L482.27 319.87 L482.32 319.48 L482.38 319.08 L482.43 318.67 L482.48 318.25 L482.54 317.82 L482.59 317.37 L482.64 316.91 L482.70 316.44 L482.75 315.95 L482.80 315.46 L482.86 314.94 L482.91 314.41 L482.94 314.11 L482.99 313.56 L483.04 313.11 L483.07 312.73 L483.10 312.41 L483.16 311.80 L483.21 311.18 L483.26 310.54 L483.32 309.88 L483.37 309.20 L483.39 308.90 L483.42 308.50 L483.45 308.19 L483.48 307.78 L483.50 307.46 L483.53 307.04 L483.55 306.71 L483.58 306.28 L483.61 305.94 L483.64 305.49 L483.66 305.14 L483.69 304.69 L483.72 304.32 L483.75 303.86 L483.77 303.48 L483.82 302.62 L483.88 301.74 L483.93 300.84 L483.98 299.91 L484.00 299.59 L484.04 298.97 L484.09 298.02 L484.14 297.05 L484.20 296.07 L484.25 295.09 L484.31 294.12 L484.36 293.15 L484.41 292.21 L484.47 291.30 L484.49 290.98 L484.52 290.43 L484.57 289.64 L484.63 288.94 L484.68 288.35 L484.73 287.91 L484.95 288.54 L484.97 288.86 L485.00 289.57 L485.06 291.07 L485.11 293.12 L485.16 295.79 L485.22 299.14 L485.27 303.23 L485.32 308.06 L485.38 313.63 L485.43 319.91 L485.45 322.31 L485.49 326.78 L485.54 334.13 L485.59 341.78 L485.65 349.53 L485.70 357.17 L485.75 364.52 L485.81 371.40 L485.86 377.67 L485.91 383.25 L485.93 385.08 L485.97 388.08 L486.02 392.16 L486.08 395.51 L486.13 398.18 L486.18 400.24 L486.24 401.74 L486.29 402.76 L486.34 403.38 L486.56 402.96 L486.61 402.37 L486.66 401.67 L486.69 401.31 L486.72 400.87 L486.74 400.48 L486.77 400.01 L486.80 399.59 L486.83 399.10 L486.85 398.66 L486.88 398.16 L486.90 397.80 L486.93 397.19 L486.96 396.74 L486.99 396.21 L487.01 395.76 L487.04 395.23 L487.07 394.78 L487.09 394.26 L487.12 393.80 L487.15 393.29 L487.17 392.84 L487.20 392.33 L487.23 391.89 L487.25 391.39 L487.28 390.96 L487.31 390.47 L487.33 390.05 L487.36 389.57 L487.38 389.24 L487.42 388.69 L487.44 388.28 L487.47 387.82 L487.49 387.43 L487.52 386.99 L487.55 386.60 L487.58 386.17 L487.60 385.79 L487.63 385.37 L487.66 385.01 L487.68 384.60 L487.71 384.25 L487.74 383.85 L487.76 383.51 L487.79 383.12 L487.82 382.79 L487.84 382.41 L487.87 382.09 L487.90 381.73 L487.92 381.41 L487.95 381.06 L487.98 380.75 L488.01 380.41 L488.06 379.78 L488.11 379.17 L488.17 378.58 L488.22 378.00 L488.27 377.44 L488.33 376.90 L488.38 376.37 L488.43 375.86 L488.49 375.36 L488.54 374.88 L488.60 374.40 L488.65 373.95 L488.70 373.50 L488.76 373.07 L488.81 372.64 L488.86 372.23 L488.92 371.83 L488.97 371.44 L489.02 371.06 L489.08 370.69 L489.13 370.33 L489.19 369.98 L489.24 369.64 L489.29 369.30 L489.35 368.97 L489.40 368.65 L489.45 368.34 L489.51 368.04 L489.59 367.60 L489.67 367.17 L489.75 366.76 L489.83 366.35 L489.91 365.97 L489.99 365.59 L490.07 365.23 L490.15 364.87 L490.23 364.54 L490.31 364.20 L490.39 363.89 L490.47 363.57 L490.58 363.17 L490.69 362.78 L490.79 362.41 L490.90 362.05 L491.01 361.70 L491.12 361.36 L491.22 361.04 L491.33 360.73 L491.44 360.43 L491.57 360.07 L491.71 359.71 L491.84 359.38 L491.97 359.05 L492.11 358.74 L492.24 358.44 L492.40 358.09 L492.56 357.76 L492.72 357.44 L492.89 357.13 L493.07 356.79 L493.26 356.45 L493.45 356.14 L493.64 355.84 L493.85 355.50 L494.06 355.19 L494.28 354.88 L494.52 354.56 L494.76 354.24 L495.03 353.91 L495.30 353.59 L495.57 353.29 L495.86 352.97 L496.16 352.66 L496.48 352.34 L496.80 352.03 L497.12 351.73 L497.44 351.44 L497.76 351.16 L498.09 350.88 L498.41 350.62 L498.73 350.35 L499.05 350.08 L499.37 349.82 L499.70 349.55 L500.02 349.28 L500.34 349.00 L500.66 348.72 L500.98 348.43 L501.30 348.16 L501.63 347.94 L501.97 347.87 L502.29 348.13 L502.51 348.55 L502.67 348.97 L502.78 349.35 L502.83 349.65 L502.94 350.22 L503.04 350.74 L503.15 351.17 L503.26 351.51 L503.42 351.85 L503.74 352.05 L504.06 351.88 L504.39 351.56 L504.71 351.22 L505.03 350.88 L505.35 350.57 L505.67 350.29 L505.99 350.03 L506.32 349.80 L506.64 349.58 L506.96 349.39 L507.28 349.21 L507.60 349.04 L507.92 348.89 L508.25 348.74 L508.57 348.61 L508.89 348.48 L509.21 348.36 L509.53 348.25 L509.86 348.14 L510.18 348.04 L510.50 347.95 L510.82 347.86 L511.14 347.77 L511.46 347.68 L511.79 347.60 L512.11 347.53 L512.43 347.45 L512.75 347.38 L513.07 347.32 L513.39 347.25 L513.72 347.19 L514.04 347.13 L514.36 347.07 L514.68 347.02 L515.00 346.96 L515.32 346.91 L515.65 346.86 L515.97 346.81 L516.29 346.77 L516.61 346.72 L516.93 346.68 L517.25 346.64 L517.58 346.60 L517.90 346.56 L518.22 346.52 L518.54 346.49 L519.24 346.41 L519.73 346.36 L520.21 346.32 L520.69 346.28 L521.18 346.23 L521.66 346.20 L522.14 346.16 L522.62 346.12 L523.11 346.09 L523.59 346.06 L524.07 346.03 L524.55 346.00 L525.04 345.98 L525.52 345.95 L526.00 345.93 L526.49 345.91 L526.97 345.88 L527.45 345.86 L527.93 345.84 L528.42 345.83 L528.90 345.81 L529.38 345.79 L529.87 345.78 L530.35 345.76 L530.83 345.75 L531.31 345.74 L531.80 345.73 L532.28 345.72 L532.76 345.70 L533.24 345.69 L533.73 345.69 L534.21 345.68 L534.69 345.67 L535.18 345.66 L535.66 345.65 L536.14 345.65 L536.62 345.64 L537.11 345.63 L537.59 345.63 L538.07 345.62 L538.56 345.62 L539.04 345.61 L539.52 345.61 L540.00 345.60 L540.49 345.60 L540.97 345.60 L541.45 345.59 L541.93 345.59 L542.42 345.59 L542.90 345.58" fill="none" stroke="#e2c460" stroke-width="1.55" stroke-dasharray="5.6 2.3 1.2 2.3" stroke-dashoffset="0" stroke-linejoin="round"/>
<path d="M302.00 345.53 L302.48 345.52 L302.97 345.52 L303.45 345.52 L303.93 345.52 L304.41 345.51 L304.90 345.51 L305.38 345.51 L305.86 345.50 L306.34 345.50 L306.83 345.50 L307.31 345.49 L307.79 345.49 L308.28 345.48 L308.76 345.48 L309.24 345.47 L309.72 345.47 L310.21 345.46 L310.69 345.45 L311.17 345.45 L311.66 345.44 L312.14 345.43 L312.62 345.42 L313.10 345.41 L313.59 345.40 L314.07 345.39 L314.55 345.38 L315.03 345.37 L315.52 345.36 L316.00 345.35 L316.48 345.33 L316.97 345.32 L317.45 345.30 L317.93 345.29 L318.41 345.27 L318.90 345.25 L319.38 345.23 L319.86 345.21 L320.35 345.19 L320.83 345.17 L321.31 345.14 L321.79 345.12 L322.28 345.09 L322.76 345.06 L323.24 345.03 L323.72 345.00 L324.21 344.97 L324.69 344.93 L325.17 344.90 L325.66 344.86 L326.14 344.82 L326.62 344.78 L327.10 344.73 L327.59 344.69 L328.07 344.64 L328.55 344.59 L329.03 344.54 L329.52 344.48 L330.00 344.42 L330.48 344.36 L330.97 344.30 L331.45 344.23 L331.93 344.16 L332.41 344.09 L332.90 344.02 L333.38 343.94 L333.86 343.86 L334.35 343.77 L334.83 343.68 L335.31 343.59 L335.79 343.49 L336.28 343.39 L336.76 343.28 L337.24 343.17 L337.72 343.05 L338.21 342.93 L338.69 342.81 L339.17 342.67 L339.66 342.54 L340.01 342.43 L340.33 342.34 L340.65 342.24 L340.97 342.13 L341.30 342.03 L341.62 341.92 L341.94 341.80 L342.26 341.69 L342.58 341.57 L342.90 341.45 L343.23 341.33 L343.55 341.20 L343.87 341.07 L344.19 340.93 L344.51 340.79 L344.83 340.65 L345.16 340.51 L345.48 340.36 L345.80 340.21 L346.12 340.06 L346.44 339.90 L346.77 339.74 L347.09 339.58 L347.41 339.42 L347.73 339.26 L348.05 339.10 L348.37 338.94 L348.70 338.78 L349.02 338.62 L349.34 338.48 L349.66 338.34 L349.98 338.21 L350.30 338.09 L350.63 337.99 L350.95 337.92 L351.27 337.87 L351.59 337.85 L351.91 337.88 L352.23 337.95 L352.56 338.08 L352.88 338.27 L353.20 338.53 L353.52 338.88 L353.79 339.23 L354.00 339.56 L354.22 339.93 L354.38 340.24 L354.54 340.57 L354.70 340.93 L354.86 341.30 L355.02 341.70 L355.18 342.12 L355.34 342.56 L355.45 342.87 L355.56 343.17 L355.67 343.49 L355.77 343.81 L355.88 344.14 L355.99 344.47 L356.10 344.80 L356.20 345.13 L356.31 345.47 L356.42 345.78 L356.52 346.09 L356.63 346.40 L356.74 346.70 L356.85 347.00 L357.01 347.45 L357.17 347.88 L357.33 348.30 L357.49 348.70 L357.65 349.09 L357.81 349.45 L357.97 349.80 L358.13 350.13 L358.29 350.43 L358.48 350.76 L358.72 351.13 L358.97 351.46 L359.26 351.80 L359.58 352.09 L359.90 352.31 L360.22 352.46 L360.55 352.56 L360.87 352.61 L361.19 352.62 L361.51 352.60 L361.83 352.54 L362.16 352.47 L362.48 352.37 L362.80 352.26 L363.12 352.14 L363.44 352.01 L363.76 351.87 L364.09 351.72 L364.41 351.58 L364.73 351.43 L365.05 351.28 L365.37 351.13 L365.69 350.98 L366.02 350.84 L366.34 350.69 L366.66 350.55 L366.98 350.41 L367.30 350.27 L367.62 350.14 L367.95 350.01 L368.27 349.88 L368.59 349.75 L368.91 349.63 L369.23 349.51 L369.55 349.39 L369.88 349.28 L370.20 349.17 L370.52 349.06 L370.84 348.96 L371.16 348.85 L371.49 348.76 L371.81 348.66 L372.48 348.46 L372.97 348.33 L373.45 348.21 L373.93 348.08 L374.41 347.97 L374.90 347.86 L375.38 347.75 L375.86 347.65 L376.35 347.55 L376.83 347.45 L377.31 347.36 L377.79 347.28 L378.28 347.19 L378.76 347.11 L379.24 347.04 L379.73 346.97 L380.21 346.90 L380.69 346.83 L381.17 346.77 L381.66 346.70 L382.14 346.65 L382.62 346.59 L383.10 346.54 L383.59 346.49 L384.07 346.44 L384.55 346.39 L385.04 346.35 L385.52 346.30 L386.00 346.26 L386.48 346.23 L386.97 346.19 L387.45 346.15 L387.93 346.12 L388.42 346.09 L388.90 346.06 L389.38 346.03 L389.86 346.00 L390.35 345.98 L390.83 345.95 L391.31 345.93 L391.79 345.91 L392.28 345.88 L392.76 345.86 L393.24 345.85 L393.73 345.83 L394.21 345.81 L394.69 345.79 L395.17 345.78 L395.66 345.77 L396.14 345.75 L396.62 345.74 L397.10 345.73 L397.59 345.72 L398.07 345.70 L398.55 345.69 L399.04 345.68 L399.52 345.68 L400.00 345.67 L400.48 345.66 L400.97 345.65 L401.45 345.64 L401.93 345.64 L402.42 345.63 L402.90 345.63 L403.38 345.62 L403.86 345.62 L404.35 345.61 L404.83 345.61 L405.31 345.60 L405.79 345.60 L406.28 345.59 L406.76 345.59 L407.24 345.59 L407.73 345.58 L408.21 345.58 L408.69 345.58 L409.17 345.58 L409.66 345.57 L410.14 345.57 L410.62 345.57 L411.11 345.57 L411.59 345.57 L412.07 345.57 L412.55 345.56 L413.04 345.56 L413.52 345.56 L414.00 345.56 L414.48 345.56 L414.97 345.56 L415.45 345.56 L415.93 345.55 L416.42 345.55 L416.90 345.55 L417.38 345.55 L417.86 345.55 L418.35 345.55 L418.83 345.55 L419.31 345.55 L419.79 345.55 L420.28 345.54 L420.76 345.54 L421.24 345.54 L421.73 345.54 L422.21 345.54 L422.69 345.54 L423.17 345.54 L423.66 345.54 L424.14 345.53 L424.62 345.53 L425.11 345.53 L425.59 345.53 L426.07 345.53 L426.55 345.53 L427.04 345.52 L427.52 345.52 L428.00 345.52 L428.48 345.52 L428.97 345.51 L429.45 345.51 L429.93 345.51 L430.42 345.51 L430.90 345.50 L431.38 345.50 L431.86 345.49 L432.35 345.49 L432.83 345.49 L433.31 345.48 L433.79 345.48 L434.28 345.47 L434.76 345.47 L435.24 345.46 L435.73 345.45 L436.21 345.45 L436.69 345.44 L437.17 345.43 L437.66 345.42 L438.14 345.42 L438.62 345.41 L439.11 345.40 L439.59 345.39 L440.07 345.38 L440.55 345.37 L441.04 345.36 L441.52 345.34 L442.00 345.33 L442.48 345.32 L442.97 345.30 L443.45 345.29 L443.93 345.27 L444.42 345.25 L444.90 345.23 L445.38 345.21 L445.86 345.19 L446.35 345.17 L446.83 345.15 L447.31 345.13 L447.80 345.10 L448.28 345.07 L448.76 345.05 L449.24 345.02 L449.73 344.98 L450.21 344.95 L450.69 344.92 L451.17 344.88 L451.63 344.84 L451.95 344.82 L452.27 344.79 L452.59 344.76 L452.91 344.73 L453.23 344.70 L453.56 344.67 L453.88 344.64 L454.20 344.60 L454.52 344.57 L454.84 344.53 L455.16 344.49 L455.49 344.45 L455.81 344.41 L456.13 344.37 L456.45 344.32 L456.77 344.27 L457.10 344.23 L457.42 344.18 L457.74 344.12 L458.06 344.07 L458.38 344.01 L458.70 343.95 L459.03 343.89 L459.35 343.83 L459.67 343.76 L459.99 343.69 L460.31 343.62 L460.63 343.54 L460.96 343.46 L461.28 343.37 L461.60 343.29 L461.92 343.19 L462.24 343.09 L462.56 342.99 L462.89 342.88 L463.21 342.77 L463.53 342.66 L463.85 342.54 L464.17 342.41 L464.50 342.29 L464.82 342.17 L465.14 342.06 L465.46 341.97 L465.78 341.92 L466.10 341.91 L466.43 341.98 L466.75 342.15 L467.07 342.43 L467.34 342.73 L467.59 343.06 L467.93 343.37 L468.25 343.58 L468.55 343.72 L468.89 343.80 L469.21 343.81 L469.52 343.76 L469.83 343.68 L470.15 343.57 L470.47 343.43 L470.79 343.29 L471.11 343.14 L471.44 342.98 L471.76 342.82 L472.08 342.65 L472.40 342.48 L472.72 342.31 L473.04 342.14 L473.37 341.96 L473.69 341.78 L474.01 341.59 L474.33 341.40 L474.65 341.20 L474.98 341.00 L475.30 340.79 L475.62 340.57 L475.94 340.34 L476.26 340.11 L476.58 339.87 L476.91 339.61 L477.23 339.35 L477.55 339.07 L477.87 338.79 L478.19 338.48 L478.51 338.17 L478.81 337.86 L479.10 337.55 L479.40 337.22 L479.67 336.91 L479.94 336.59 L480.21 336.26 L480.44 335.95 L480.69 335.64 L480.93 335.32 L481.17 334.99 L481.41 334.67 L481.65 334.35 L481.89 334.04 L482.14 333.73 L482.41 333.43 L482.73 333.13 L483.04 332.94 L483.34 332.89 L483.66 333.05 L483.93 333.41 L484.09 333.75 L484.25 334.20 L484.36 334.56 L484.47 334.97 L484.57 335.45 L484.68 335.98 L484.79 336.57 L484.84 336.89 L484.90 337.22 L484.95 337.57 L485.00 337.94 L485.06 338.32 L485.11 338.71 L485.16 339.12 L485.22 339.54 L485.27 339.97 L485.32 340.42 L485.38 340.87 L485.43 341.34 L485.49 341.82 L485.54 342.31 L485.59 342.80 L485.65 343.30 L485.70 343.81 L485.75 344.32 L485.81 344.83 L485.86 345.34 L485.91 345.86 L485.97 346.38 L486.02 346.89 L486.08 347.40 L486.13 347.90 L486.18 348.41 L486.24 348.90 L486.29 349.38 L486.34 349.86 L486.40 350.33 L486.45 350.79 L486.50 351.23 L486.56 351.66 L486.61 352.09 L486.66 352.49 L486.72 352.89 L486.77 353.26 L486.83 353.63 L486.88 353.98 L486.93 354.31 L486.99 354.63 L487.04 354.93 L487.12 355.35 L487.20 355.75 L487.28 356.11 L487.36 356.44 L487.47 356.83 L487.58 357.16 L487.71 357.51 L487.86 357.82 L488.11 358.15 L488.43 358.31 L488.76 358.25 L489.08 358.05 L489.40 357.74 L489.67 357.43 L489.94 357.10 L490.18 356.78 L490.42 356.46 L490.66 356.14 L490.90 355.81 L491.14 355.50 L491.38 355.18 L491.62 354.88 L491.89 354.56 L492.16 354.24 L492.43 353.93 L492.72 353.61 L493.02 353.30 L493.34 352.97 L493.66 352.67 L493.98 352.37 L494.30 352.08 L494.62 351.82 L494.95 351.55 L495.27 351.31 L495.59 351.07 L495.91 350.84 L496.23 350.62 L496.55 350.40 L496.88 350.20 L497.20 350.00 L497.52 349.80 L497.84 349.61 L498.17 349.42 L498.49 349.24 L498.81 349.06 L499.13 348.89 L499.45 348.71 L499.77 348.54 L500.10 348.37 L500.42 348.21 L500.74 348.06 L501.06 347.93 L501.38 347.83 L501.70 347.79 L502.03 347.83 L502.35 347.97 L502.67 348.20 L502.88 348.51 L503.10 348.88 L503.31 349.18 L503.63 349.48 L503.96 349.59 L504.28 349.58 L504.60 349.49 L504.92 349.35 L505.24 349.20 L505.57 349.04 L505.89 348.89 L506.21 348.74 L506.53 348.60 L506.85 348.46 L507.17 348.34 L507.50 348.22 L507.82 348.11 L508.14 348.00 L508.46 347.90 L508.78 347.81 L509.10 347.72 L509.43 347.63 L509.75 347.55 L510.07 347.48 L510.39 347.40 L510.71 347.33 L511.03 347.27 L511.36 347.20 L511.68 347.14 L512.00 347.08 L512.32 347.03 L512.64 346.97 L512.97 346.92 L513.29 346.87 L513.61 346.82 L513.93 346.78 L514.25 346.73 L514.57 346.69 L514.90 346.65 L515.22 346.61 L515.54 346.57 L515.86 346.53 L516.18 346.50 L516.50 346.46 L516.83 346.43 L517.15 346.40 L517.47 346.37 L517.79 346.34 L518.11 346.31 L518.43 346.28 L518.76 346.25 L519.24 346.22 L519.73 346.18 L520.21 346.14 L520.69 346.11 L521.18 346.08 L521.66 346.05 L522.14 346.02 L522.62 346.00 L523.11 345.97 L523.59 345.95 L524.07 345.92 L524.55 345.90 L525.04 345.88 L525.52 345.86 L526.00 345.84 L526.49 345.83 L526.97 345.81 L527.45 345.79 L527.93 345.78 L528.42 345.77 L528.90 345.75 L529.38 345.74 L529.87 345.73 L530.35 345.72 L530.83 345.71 L531.31 345.70 L531.80 345.69 L532.28 345.68 L532.76 345.67 L533.24 345.66 L533.73 345.66 L534.21 345.65 L534.69 345.64 L535.18 345.64 L535.66 345.63 L536.14 345.63 L536.62 345.62 L537.11 345.62 L537.59 345.61 L538.07 345.61 L538.56 345.60 L539.04 345.60 L539.52 345.60 L540.00 345.59 L540.49 345.59 L540.97 345.59 L541.45 345.58 L541.93 345.58 L542.42 345.58 L542.90 345.58" fill="none" stroke="#bb7a3c" stroke-width="1.55" stroke-dasharray="5.6 2.3 1.2 2.3" stroke-dashoffset="0" stroke-linejoin="round"/>
<path d="M302.00 344.58 L302.48 344.55 L302.97 344.52 L303.45 344.49 L303.93 344.46 L304.41 344.43 L304.90 344.40 L305.38 344.36 L305.86 344.33 L306.34 344.30 L306.83 344.26 L307.31 344.23 L307.79 344.20 L308.28 344.16 L308.76 344.13 L309.24 344.09 L309.72 344.05 L310.21 344.02 L310.69 343.98 L311.17 343.95 L311.66 343.91 L312.14 343.87 L312.62 343.83 L313.10 343.80 L313.59 343.76 L314.07 343.72 L314.55 343.68 L315.03 343.64 L315.52 343.60 L316.00 343.56 L316.48 343.52 L316.97 343.48 L317.45 343.44 L317.93 343.40 L318.41 343.36 L318.90 343.32 L319.38 343.27 L319.86 343.23 L320.35 343.19 L320.83 343.15 L321.31 343.10 L321.79 343.06 L322.28 343.01 L322.76 342.97 L323.24 342.92 L323.72 342.87 L324.21 342.83 L324.69 342.78 L325.17 342.73 L325.66 342.68 L326.14 342.63 L326.62 342.58 L327.10 342.53 L327.59 342.48 L328.07 342.42 L328.55 342.37 L329.03 342.31 L329.52 342.25 L330.00 342.20 L330.48 342.14 L330.97 342.08 L331.45 342.01 L331.93 341.95 L332.41 341.89 L332.90 341.83 L333.38 341.76 L333.86 341.70 L334.35 341.64 L334.83 341.57 L335.31 341.51 L335.79 341.45 L336.28 341.39 L336.76 341.32 L337.24 341.26 L337.72 341.20 L338.21 341.13 L338.69 341.07 L339.17 341.01 L339.66 340.94 L340.01 340.90 L340.33 340.85 L340.65 340.81 L340.97 340.77 L341.30 340.72 L341.62 340.68 L341.94 340.64 L342.26 340.60 L342.58 340.56 L342.90 340.52 L343.23 340.47 L343.55 340.43 L343.87 340.39 L344.19 340.35 L344.51 340.31 L344.83 340.28 L345.16 340.24 L345.48 340.19 L345.80 340.15 L346.12 340.10 L346.44 340.05 L346.77 340.00 L347.09 339.96 L347.41 339.91 L347.73 339.87 L348.05 339.83 L348.37 339.80 L348.70 339.78 L349.02 339.76 L349.34 339.74 L349.66 339.74 L349.98 339.74 L350.30 339.75 L350.63 339.76 L350.95 339.78 L351.27 339.80 L351.59 339.82 L351.91 339.85 L352.23 339.88 L352.56 339.92 L352.88 339.96 L353.20 340.03 L353.52 340.14 L353.84 340.30 L354.17 340.49 L354.49 340.70 L354.81 340.92 L355.13 341.16 L355.45 341.40 L355.77 341.65 L356.10 341.95 L356.42 342.29 L356.74 342.65 L357.01 342.96 L357.28 343.27 L357.54 343.57 L357.87 343.92 L358.19 344.24 L358.51 344.53 L358.83 344.83 L359.15 345.12 L359.47 345.40 L359.80 345.67 L360.12 345.92 L360.44 346.14 L360.76 346.34 L361.08 346.51 L361.40 346.68 L361.73 346.83 L362.05 346.99 L362.37 347.13 L362.69 347.27 L363.01 347.39 L363.33 347.51 L363.66 347.62 L363.98 347.71 L364.30 347.80 L364.62 347.87 L364.94 347.92 L365.27 347.98 L365.59 348.03 L365.91 348.07 L366.23 348.12 L366.55 348.17 L366.87 348.21 L367.20 348.25 L367.52 348.29 L367.84 348.33 L368.16 348.37 L368.48 348.40 L368.80 348.43 L369.10 348.46 L369.45 348.48 L369.77 348.50 L370.07 348.52 L370.41 348.54 L370.73 348.55 L371.04 348.56 L371.38 348.56 L371.70 348.56 L372.00 348.56 L372.48 348.55 L372.97 348.54 L373.45 348.52 L373.93 348.50 L374.41 348.48 L374.90 348.45 L375.38 348.42 L375.86 348.39 L376.35 348.36 L376.83 348.32 L377.31 348.29 L377.79 348.26 L378.28 348.22 L378.76 348.19 L379.24 348.16 L379.73 348.13 L380.21 348.10 L380.69 348.07 L381.17 348.03 L381.66 348.00 L382.14 347.97 L382.62 347.93 L383.10 347.90 L383.59 347.86 L384.07 347.83 L384.55 347.79 L385.04 347.76 L385.52 347.72 L386.00 347.68 L386.48 347.65 L386.97 347.61 L387.45 347.57 L387.93 347.54 L388.42 347.50 L388.90 347.47 L389.38 347.43 L389.86 347.40 L390.35 347.36 L390.83 347.33 L391.31 347.30 L391.79 347.26 L392.28 347.23 L392.76 347.20 L393.24 347.17 L393.73 347.13 L394.21 347.10 L394.69 347.07 L395.17 347.03 L395.66 347.00 L396.14 346.97 L396.62 346.93 L397.10 346.90 L397.59 346.87 L398.07 346.83 L398.55 346.80 L399.04 346.77 L399.52 346.74 L400.00 346.70 L400.48 346.67 L400.97 346.64 L401.45 346.61 L401.93 346.58 L402.42 346.55 L402.90 346.52 L403.38 346.49 L403.86 346.46 L404.35 346.43 L404.83 346.40 L405.31 346.38 L405.79 346.35 L406.28 346.33 L406.76 346.30 L407.24 346.28 L407.73 346.25 L408.21 346.23 L408.69 346.21 L409.17 346.19 L409.66 346.17 L410.14 346.15 L410.62 346.13 L411.11 346.12 L411.59 346.10 L412.07 346.08 L412.55 346.07 L413.04 346.05 L413.52 346.04 L414.00 346.02 L414.48 346.01 L414.97 346.00 L415.45 345.98 L415.93 345.97 L416.42 345.96 L416.90 345.94 L417.38 345.93 L417.86 345.92 L418.35 345.91 L418.83 345.90 L419.31 345.88 L419.79 345.87 L420.28 345.86 L420.76 345.85 L421.24 345.83 L421.73 345.82 L422.21 345.81 L422.69 345.80 L423.17 345.78 L423.66 345.77 L424.14 345.76 L424.62 345.74 L425.11 345.73 L425.59 345.72 L426.07 345.70 L426.55 345.69 L427.04 345.67 L427.52 345.65 L428.00 345.64 L428.48 345.62 L428.97 345.60 L429.45 345.58 L429.93 345.56 L430.42 345.54 L430.90 345.52 L431.38 345.50 L431.86 345.47 L432.35 345.45 L432.83 345.42 L433.31 345.40 L433.79 345.37 L434.28 345.34 L434.76 345.32 L435.24 345.29 L435.73 345.26 L436.21 345.23 L436.69 345.20 L437.17 345.16 L437.66 345.13 L438.14 345.10 L438.62 345.07 L439.11 345.03 L439.59 345.00 L440.07 344.97 L440.55 344.93 L441.04 344.90 L441.52 344.86 L442.00 344.83 L442.48 344.79 L442.97 344.76 L443.45 344.72 L443.93 344.68 L444.42 344.65 L444.90 344.61 L445.38 344.57 L445.86 344.53 L446.35 344.49 L446.83 344.45 L447.31 344.41 L447.80 344.37 L448.28 344.32 L448.76 344.28 L449.24 344.24 L449.73 344.19 L450.21 344.15 L450.69 344.10 L451.17 344.06 L451.63 344.01 L451.95 343.98 L452.27 343.95 L452.59 343.92 L452.91 343.89 L453.23 343.86 L453.56 343.83 L453.88 343.80 L454.20 343.77 L454.52 343.74 L454.84 343.71 L455.16 343.68 L455.49 343.65 L455.81 343.62 L456.13 343.59 L456.45 343.56 L456.77 343.53 L457.10 343.50 L457.42 343.48 L457.74 343.45 L458.06 343.42 L458.38 343.39 L458.70 343.36 L459.03 343.33 L459.35 343.30 L459.67 343.27 L459.99 343.24 L460.31 343.21 L460.63 343.17 L460.96 343.14 L461.28 343.10 L461.60 343.07 L461.92 343.03 L462.24 343.00 L462.56 342.96 L462.89 342.93 L463.21 342.89 L463.53 342.86 L463.85 342.82 L464.17 342.79 L464.50 342.76 L464.82 342.73 L465.14 342.70 L465.46 342.67 L465.78 342.64 L466.10 342.61 L466.43 342.59 L466.75 342.56 L467.07 342.54 L467.39 342.52 L467.71 342.50 L468.03 342.48 L468.36 342.47 L468.68 342.46 L469.00 342.44 L469.32 342.44 L469.64 342.43 L469.96 342.43 L470.29 342.43 L470.61 342.43 L470.93 342.44 L471.25 342.46 L471.57 342.47 L471.90 342.49 L472.22 342.51 L472.54 342.54 L472.86 342.57 L473.18 342.60 L473.50 342.63 L473.83 342.66 L474.15 342.70 L474.47 342.73 L474.79 342.77 L475.11 342.82 L475.43 342.89 L475.76 342.98 L476.08 343.07 L476.40 343.18 L476.72 343.30 L477.04 343.42 L477.36 343.55 L477.69 343.69 L478.01 343.83 L478.33 343.98 L478.65 344.12 L478.97 344.26 L479.29 344.41 L479.62 344.54 L479.94 344.68 L480.26 344.80 L480.58 344.92 L480.90 345.04 L481.23 345.15 L481.55 345.26 L481.87 345.37 L482.19 345.48 L482.51 345.59 L482.83 345.70 L483.16 345.81 L483.48 345.92 L483.82 346.04 L484.14 346.15 L484.47 346.26 L484.79 346.37 L485.11 346.49 L485.43 346.60 L485.75 346.71 L486.08 346.83 L486.40 346.95 L486.72 347.07 L487.04 347.19 L487.36 347.30 L487.68 347.42 L488.01 347.53 L488.33 347.65 L488.65 347.76 L488.97 347.88 L489.29 347.99 L489.61 348.11 L489.94 348.23 L490.26 348.35 L490.58 348.48 L490.90 348.61 L491.22 348.74 L491.54 348.88 L491.87 349.02 L492.19 349.17 L492.51 349.33 L492.83 349.49 L493.15 349.66 L493.48 349.88 L493.80 350.15 L494.12 350.45 L494.44 350.77 L494.76 351.08 L495.08 351.36 L495.41 351.58 L495.73 351.73 L496.05 351.79 L496.37 351.77 L496.69 351.70 L497.01 351.59 L497.34 351.45 L497.66 351.28 L497.98 351.09 L498.30 350.89 L498.62 350.67 L498.94 350.46 L499.27 350.25 L499.59 350.04 L499.91 349.86 L500.23 349.69 L500.55 349.54 L500.87 349.38 L501.20 349.21 L501.52 349.04 L501.86 348.86 L502.19 348.70 L502.51 348.57 L502.83 348.46 L503.15 348.38 L503.47 348.35 L503.80 348.35 L504.12 348.37 L504.44 348.40 L504.76 348.43 L505.08 348.48 L505.40 348.53 L505.73 348.59 L506.05 348.66 L506.37 348.72 L506.69 348.79 L507.01 348.86 L507.33 348.92 L507.66 348.99 L507.98 349.04 L508.30 349.09 L508.62 349.14 L508.94 349.17 L509.27 349.20 L509.59 349.21 L509.91 349.21 L510.23 349.20 L510.55 349.19 L510.87 349.18 L511.20 349.16 L511.52 349.14 L511.84 349.11 L512.16 349.08 L512.48 349.04 L512.80 349.01 L513.13 348.97 L513.45 348.92 L513.77 348.88 L514.09 348.83 L514.41 348.78 L514.73 348.72 L515.06 348.67 L515.38 348.61 L515.70 348.55 L516.02 348.49 L516.34 348.43 L516.67 348.37 L516.99 348.31 L517.31 348.24 L517.63 348.18 L517.95 348.11 L518.27 348.05 L518.60 347.98 L519.24 347.85 L519.73 347.76 L520.21 347.67 L520.69 347.58 L521.18 347.49 L521.66 347.41 L522.14 347.33 L522.62 347.26 L523.11 347.20 L523.59 347.14 L524.07 347.09 L524.55 347.05 L525.04 347.01 L525.52 346.96 L526.00 346.92 L526.49 346.88 L526.97 346.84 L527.45 346.80 L527.93 346.77 L528.42 346.73 L528.90 346.69 L529.38 346.65 L529.87 346.61 L530.35 346.58 L530.83 346.54 L531.31 346.51 L531.80 346.47 L532.28 346.44 L532.76 346.40 L533.24 346.37 L533.73 346.34 L534.21 346.31 L534.69 346.28 L535.18 346.25 L535.66 346.23 L536.14 346.20 L536.62 346.18 L537.11 346.15 L537.59 346.13 L538.07 346.11 L538.56 346.09 L539.04 346.07 L539.52 346.05 L540.00 346.04 L540.49 346.02 L540.97 346.01 L541.45 346.00 L541.93 345.99 L542.42 345.99 L542.90 345.98" fill="none" stroke="#7a1824" stroke-width="1.8" stroke-linejoin="round"/>
<line x1="396.9" y1="263.1" x2="418.1" y2="263.1" stroke="#1c1c1c" stroke-width="1.5" stroke-dasharray="5.6 2.3 1.2 2.3"/>
<text x="422.3" y="266.60" class="lg">2×10S/m</text>
<line x1="396.9" y1="275.1" x2="418.1" y2="275.1" stroke="#24997a" stroke-width="1.5" stroke-dasharray="5.6 2.3 1.2 2.3"/>
<text x="422.3" y="278.60" class="lg">2×10<tspan class="sup" dy="-3.0">2</tspan><tspan dy="3.0">S/m</tspan></text>
<line x1="396.9" y1="287.0" x2="418.1" y2="287.0" stroke="#e2c460" stroke-width="1.5" stroke-dasharray="5.6 2.3 1.2 2.3"/>
<text x="422.3" y="290.50" class="lg">2×10<tspan class="sup" dy="-3.0">3</tspan><tspan dy="3.0">S/m</tspan></text>
<line x1="396.9" y1="298.9" x2="418.1" y2="298.9" stroke="#bb7a3c" stroke-width="1.5" stroke-dasharray="5.6 2.3 1.2 2.3"/>
<text x="422.3" y="302.40" class="lg">2×10<tspan class="sup" dy="-3.0">4</tspan><tspan dy="3.0">S/m</tspan></text>
<line x1="396.9" y1="311.0" x2="418.1" y2="311.0" stroke="#7a1824" stroke-width="1.6"/>
<text x="422.3" y="314.50" class="lg">2×10<tspan class="sup" dy="-3.0">5</tspan><tspan dy="3.0">S/m</tspan></text>
<text x="422" y="461.5" class="ax" text-anchor="middle">Frequency (THz)</text>
<text transform="translate(287 345) rotate(-90)" class="ax" text-anchor="middle">Im(Zr)</text>
<text x="421" y="484.3" class="pl" text-anchor="middle">(c)</text>
</svg>
</body></html>
